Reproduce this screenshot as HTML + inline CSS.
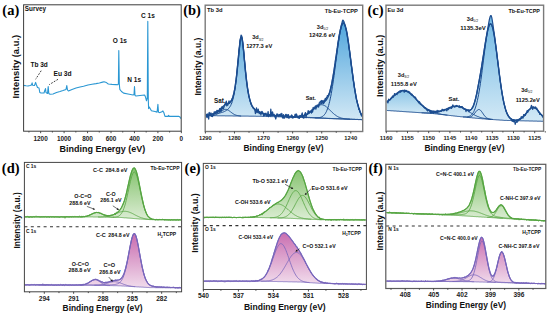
<!DOCTYPE html>
<html><head><meta charset="utf-8"><style>
html,body{margin:0;padding:0;background:#fff;}
svg{display:block;}
</style></head><body>
<svg width="550" height="315" viewBox="0 0 550 315">
<rect width="550" height="315" fill="#fff"/>
<defs>
<linearGradient id="gb" gradientUnits="userSpaceOnUse" x1="0" y1="18" x2="0" y2="120"><stop offset="0" stop-color="#4aa3dc"/><stop offset="1" stop-color="#d2e8f5"/></linearGradient>
<linearGradient id="gc" gradientUnits="userSpaceOnUse" x1="0" y1="15" x2="0" y2="122"><stop offset="0" stop-color="#6fb8e4"/><stop offset="1" stop-color="#d3e9f6"/></linearGradient>
<linearGradient id="gc1" x1="0" y1="0" x2="0" y2="1"><stop offset="0" stop-color="#8cc6e7"/><stop offset="1" stop-color="#d3e9f6"/></linearGradient>
<linearGradient id="gd1" gradientUnits="userSpaceOnUse" x1="0" y1="168" x2="0" y2="220"><stop offset="0" stop-color="#84c26d"/><stop offset="1" stop-color="#dcedd4"/></linearGradient>
<linearGradient id="gd2" gradientUnits="userSpaceOnUse" x1="0" y1="233" x2="0" y2="288"><stop offset="0" stop-color="#c86aae"/><stop offset="1" stop-color="#f1dcec"/></linearGradient>
<linearGradient id="ge1" gradientUnits="userSpaceOnUse" x1="0" y1="168" x2="0" y2="220"><stop offset="0" stop-color="#84c26d"/><stop offset="1" stop-color="#dcedd4"/></linearGradient>
<linearGradient id="ge2" gradientUnits="userSpaceOnUse" x1="0" y1="231" x2="0" y2="284"><stop offset="0" stop-color="#c86aae"/><stop offset="1" stop-color="#f1dcec"/></linearGradient>
<linearGradient id="gf1" gradientUnits="userSpaceOnUse" x1="0" y1="170" x2="0" y2="220"><stop offset="0" stop-color="#84c26d"/><stop offset="1" stop-color="#dcedd4"/></linearGradient>
<linearGradient id="gf2" gradientUnits="userSpaceOnUse" x1="0" y1="235" x2="0" y2="284"><stop offset="0" stop-color="#c86aae"/><stop offset="1" stop-color="#f1dcec"/></linearGradient>
</defs>
<path d="M23.5 85.4L26.0 85.8L28.0 86.0L30.0 85.5L31.5 85.0L32.1 82.9L32.7 85.3L34.5 85.5L35.6 82.4L36.3 84.5L37.5 87.5L39.0 88.0L39.8 92.5L41.0 93.0L44.0 93.0L44.8 90.5L45.5 88.6L46.0 92.5L47.5 93.5L48.2 86.5L48.8 93.5L50.0 94.2L53.0 94.0L56.5 92.5L60.0 91.5L63.0 90.5L66.0 89.4L66.8 85.6L67.5 90.0L68.4 91.0L72.0 89.5L76.0 88.0L80.0 87.0L83.5 86.2L88.0 85.0L92.0 84.2L96.0 83.6L99.4 83.0L102.6 82.1L104.0 81.8L106.4 82.6L108.3 84.0L112.0 84.4L116.0 84.6L117.5 84.8L118.4 84.0L118.8 50.5L119.3 84.0L119.8 89.3L121.5 91.5L123.6 93.1L128.0 94.0L133.1 95.0L134.0 94.5L134.5 86.5L135.0 95.5L136.0 96.0L140.0 95.5L144.6 95.0L145.5 97.0L146.5 100.8L147.3 98.0L147.8 21.4L148.3 100.0L148.6 108.6L149.3 107.0L151.4 110.7L155.0 111.5L157.1 112.1L157.9 104.3L158.5 112.3L160.0 112.6L162.0 111.8L162.9 110.9L163.8 112.5L165.0 116.4L168.0 116.4L168.6 115.4L169.2 116.4L175.0 116.4L178.6 116.2L180.0 117.0L180.7 118.6" fill="none" stroke="#2a97d3" stroke-width="1.1" stroke-linejoin="round"/>
<rect x="23.60" y="4.80" width="157.60" height="126.40" fill="none" stroke="#3c3c3c" stroke-width="1.0"/>
<path d="M181.35 131.20v2.0M157.90 131.20v2.0M134.45 131.20v2.0M111.00 131.20v2.0M87.55 131.20v2.0M64.10 131.20v2.0M40.65 131.20v2.0M169.62 131.20v1.3M146.18 131.20v1.3M122.72 131.20v1.3M99.28 131.20v1.3M75.83 131.20v1.3M52.38 131.20v1.3M28.93 131.20v1.3" stroke="#3a3a3a" stroke-width="0.9" fill="none"/>
<text x="33.48" y="140.88" font-family="Liberation Sans" font-weight="bold" font-size="6.40" fill="#222">1200</text>
<text x="56.93" y="140.88" font-family="Liberation Sans" font-weight="bold" font-size="6.40" fill="#222">1000</text>
<text x="82.24" y="140.88" font-family="Liberation Sans" font-weight="bold" font-size="6.40" fill="#222">800</text>
<text x="105.66" y="140.88" font-family="Liberation Sans" font-weight="bold" font-size="6.40" fill="#222">600</text>
<text x="129.17" y="140.88" font-family="Liberation Sans" font-weight="bold" font-size="6.40" fill="#222">400</text>
<text x="152.59" y="140.88" font-family="Liberation Sans" font-weight="bold" font-size="6.40" fill="#222">200</text>
<text x="179.59" y="140.88" font-family="Liberation Sans" font-weight="bold" font-size="6.40" fill="#222">0</text>
<text x="24.81" y="11.38" font-family="Liberation Sans" font-weight="bold" font-size="6.36" fill="#111">Survey</text>
<text x="30.43" y="66.82" font-family="Liberation Sans" font-weight="bold" font-size="6.50" fill="#111">Tb 3d</text>
<text x="53.43" y="75.95" font-family="Liberation Sans" font-weight="bold" font-size="6.70" fill="#111">Eu 3d</text>
<text x="112.84" y="42.97" font-family="Liberation Sans" font-weight="bold" font-size="6.50" fill="#111">O 1s</text>
<text x="141.04" y="17.98" font-family="Liberation Sans" font-weight="bold" font-size="6.50" fill="#111">C 1s</text>
<text x="127.34" y="81.64" font-family="Liberation Sans" font-weight="bold" font-size="6.50" fill="#111">N 1s</text>
<path d="M41.2 70.7L35.6 79.3M58 79.3L49.3 84.6" stroke="#333" stroke-width="0.95" stroke-dasharray="1.8 1.3" fill="none"/>
<text x="59.47" y="151.63" font-family="Liberation Sans" font-weight="bold" font-size="8.99" fill="#111">Binding Energy (eV)</text>
<text transform="translate(19.35,98.56) rotate(-90)" font-family="Liberation Sans" font-weight="bold" font-size="9.41" fill="#111">Intensity (a.u.)</text>
<text x="2.32" y="14.85" font-family="Liberation Serif" font-weight="bold" font-size="14.50" fill="#000">(a)</text>
<path d="M205.9 114.7L206.5 116.3L207.0 117.6L207.6 114.1L208.1 114.9L208.7 119.0L209.2 112.4L209.8 114.6L210.3 115.4L210.9 112.9L211.4 116.3L212.0 114.9L212.5 116.6L213.1 114.3L213.6 115.2L214.2 111.9L214.7 113.7L215.3 111.6L215.8 113.3L216.4 112.9L216.9 110.3L217.5 112.5L218.0 110.3L218.6 111.7L219.1 112.0L219.7 108.6L220.2 111.3L220.8 108.5L221.3 111.0L221.9 106.8L222.4 107.6L223.0 109.0L223.5 108.5L224.1 106.5L224.6 105.5L225.2 103.3L225.7 104.7L226.3 101.2L226.8 105.9L227.4 104.2L227.9 105.0L228.5 102.9L229.0 101.0L229.6 103.4L230.1 102.0L230.7 101.8L231.2 100.6L231.8 100.1L232.3 98.2L232.9 97.7L233.4 95.2L234.0 92.9L234.5 90.3L235.1 87.7L235.6 83.2L236.2 79.4L236.7 74.8L237.3 68.3L237.8 63.5L238.4 57.7L238.9 51.4L239.5 46.8L240.0 40.5L240.6 38.0L241.1 35.1L241.7 36.0L242.2 38.1L242.8 42.9L243.3 47.9L243.9 53.3L244.4 59.7L245.0 66.0L245.5 71.5L246.1 77.0L246.6 81.3L247.2 86.0L247.7 89.6L248.3 92.6L248.8 96.0L249.4 97.9L249.9 100.1L250.5 102.0L251.0 103.7L251.6 105.2L252.1 106.2L252.7 106.7L253.2 107.9L253.8 108.3L254.3 108.8L254.9 109.9L255.4 113.5L256.0 110.7L256.5 107.8L257.1 112.7L257.6 111.6L258.2 109.2L258.7 111.9L259.3 113.7L259.8 111.7L260.4 112.2L260.9 114.8L261.5 112.0L262.0 111.4L262.6 112.5L263.1 113.1L263.7 115.8L264.2 115.7L264.8 113.4L265.3 115.2L265.9 113.1L266.4 115.0L267.0 116.1L267.5 115.4L268.1 111.6L268.6 116.7L269.2 114.9L269.7 114.8L270.3 116.1L270.8 109.2L271.4 115.6L271.9 115.6L272.5 111.9L273.0 113.7L273.6 115.2L274.1 114.4L274.7 116.4L275.2 117.0L275.8 119.0L276.3 116.1L276.9 113.9L277.4 114.7L278.0 114.4L278.5 116.2L279.1 115.6L279.6 114.5L280.2 115.6L280.7 113.9L281.3 115.5L281.8 113.5L282.4 117.4L282.9 118.1L283.5 114.7L284.0 118.0L284.6 118.0L285.1 116.8L285.7 114.3L286.2 114.3L286.8 117.5L287.3 115.0L287.9 117.5L288.4 114.6L289.0 118.3L289.5 117.1L290.1 116.6L290.6 116.2L291.2 117.7L291.7 115.0L292.3 115.9L292.8 118.0L293.4 117.6L293.9 116.8L294.5 117.1L295.0 114.5L295.6 117.2L296.1 113.9L296.7 114.7L297.2 115.9L297.8 117.3L298.3 118.0L298.9 116.2L299.4 118.4L300.0 115.4L300.5 117.0L301.1 115.7L301.6 115.1L302.2 112.8L302.7 117.5L303.3 117.6L303.8 118.2L304.4 114.4L304.9 113.9L305.5 112.6L306.0 117.7L306.6 114.2L307.1 114.5L307.7 112.9L308.2 110.7L308.8 113.3L309.3 112.3L309.9 111.2L310.4 111.5L311.0 110.9L311.5 113.0L312.1 109.3L312.6 112.0L313.2 107.4L313.7 109.3L314.3 108.2L314.8 107.3L315.4 105.9L315.9 109.2L316.5 106.3L317.0 105.2L317.6 105.1L318.1 107.2L318.7 106.7L319.2 103.1L319.8 102.6L320.3 101.5L320.9 102.2L321.4 100.5L322.0 102.7L322.5 101.0L323.1 100.5L323.6 103.5L324.2 102.4L324.7 100.2L325.3 98.5L325.8 99.6L326.4 97.6L326.9 97.1L327.5 95.5L328.0 95.7L328.6 95.3L329.1 93.6L329.7 92.3L330.2 90.3L330.8 87.5L331.3 85.7L331.9 83.2L332.4 79.7L333.0 76.9L333.5 73.9L334.1 70.5L334.6 66.3L335.2 62.9L335.7 58.7L336.3 55.8L336.8 51.5L337.4 48.2L337.9 43.5L338.5 40.5L339.0 37.0L339.6 33.6L340.1 31.2L340.7 28.5L341.2 25.7L341.8 23.6L342.3 21.6L342.9 20.1L343.4 20.7L344.0 21.8L344.5 23.8L345.1 25.4L345.6 27.4L346.2 29.4L346.7 31.7L347.3 34.7L347.8 39.1L348.4 42.2L348.9 47.0L349.5 50.5L350.0 54.4L350.6 59.0L351.1 63.7L351.7 67.7L352.2 71.0L352.8 75.6L353.3 80.1L353.9 83.3L354.4 87.4L355.0 90.9L355.5 93.7L356.1 97.6L356.6 100.0L357.2 101.8L357.7 104.4L358.3 105.2L358.8 109.3L359.4 108.8L359.9 111.7L360.5 112.9L361.0 114.6L361.6 116.1L361.9 113.5L361.9 119.7L361.6 119.7L361.0 119.7L360.5 119.6L359.9 119.6L359.4 119.6L358.8 119.6L358.3 119.6L357.7 119.5L357.2 119.5L356.6 119.5L356.1 119.5L355.5 119.5L355.0 119.4L354.4 119.4L353.9 119.4L353.3 119.4L352.8 119.4L352.2 119.4L351.7 119.3L351.1 119.3L350.6 119.3L350.0 119.3L349.5 119.3L348.9 119.2L348.4 119.2L347.8 119.2L347.3 119.2L346.7 119.2L346.2 119.1L345.6 119.1L345.1 119.1L344.5 119.1L344.0 119.1L343.4 119.1L342.9 119.0L342.3 119.0L341.8 119.0L341.2 119.0L340.7 119.0L340.1 118.9L339.6 118.9L339.0 118.9L338.5 118.9L337.9 118.9L337.4 118.8L336.8 118.8L336.3 118.8L335.7 118.8L335.2 118.8L334.6 118.8L334.1 118.7L333.5 118.7L333.0 118.7L332.4 118.7L331.9 118.7L331.3 118.6L330.8 118.6L330.2 118.6L329.7 118.6L329.1 118.6L328.6 118.5L328.0 118.5L327.5 118.5L326.9 118.5L326.4 118.4L325.8 118.4L325.3 118.4L324.7 118.4L324.2 118.3L323.6 118.3L323.1 118.3L322.5 118.3L322.0 118.3L321.4 118.2L320.9 118.2L320.3 118.2L319.8 118.2L319.2 118.1L318.7 118.1L318.1 118.1L317.6 118.1L317.0 118.0L316.5 118.0L315.9 118.0L315.4 118.0L314.8 117.9L314.3 117.9L313.7 117.9L313.2 117.9L312.6 117.8L312.1 117.8L311.5 117.8L311.0 117.8L310.4 117.8L309.9 117.7L309.3 117.7L308.8 117.7L308.2 117.7L307.7 117.6L307.1 117.6L306.6 117.6L306.0 117.6L305.5 117.5L304.9 117.5L304.4 117.5L303.8 117.5L303.3 117.4L302.7 117.4L302.2 117.4L301.6 117.4L301.1 117.3L300.5 117.3L300.0 117.3L299.4 117.3L298.9 117.3L298.3 117.3L297.8 117.2L297.2 117.2L296.7 117.2L296.1 117.2L295.6 117.2L295.0 117.2L294.5 117.2L293.9 117.1L293.4 117.1L292.8 117.1L292.3 117.1L291.7 117.1L291.2 117.1L290.6 117.1L290.1 117.1L289.5 117.0L289.0 117.0L288.4 117.0L287.9 117.0L287.3 117.0L286.8 117.0L286.2 117.0L285.7 116.9L285.1 116.9L284.6 116.9L284.0 116.9L283.5 116.9L282.9 116.9L282.4 116.9L281.8 116.8L281.3 116.8L280.7 116.8L280.2 116.8L279.6 116.8L279.1 116.8L278.5 116.8L278.0 116.7L277.4 116.7L276.9 116.7L276.3 116.7L275.8 116.7L275.2 116.7L274.7 116.7L274.1 116.7L273.6 116.6L273.0 116.6L272.5 116.6L271.9 116.6L271.4 116.6L270.8 116.6L270.3 116.6L269.7 116.5L269.2 116.5L268.6 116.5L268.1 116.5L267.5 116.5L267.0 116.5L266.4 116.5L265.9 116.4L265.3 116.4L264.8 116.4L264.2 116.4L263.7 116.4L263.1 116.4L262.6 116.4L262.0 116.4L261.5 116.3L260.9 116.3L260.4 116.3L259.8 116.3L259.3 116.3L258.7 116.3L258.2 116.3L257.6 116.3L257.1 116.3L256.5 116.3L256.0 116.2L255.4 116.2L254.9 116.2L254.3 116.2L253.8 116.2L253.2 116.2L252.7 116.2L252.1 116.2L251.6 116.2L251.0 116.2L250.5 116.2L249.9 116.2L249.4 116.2L248.8 116.2L248.3 116.1L247.7 116.1L247.2 116.1L246.6 116.1L246.1 116.1L245.5 116.1L245.0 116.1L244.4 116.1L243.9 116.1L243.3 116.1L242.8 116.1L242.2 116.1L241.7 116.1L241.1 116.1L240.6 116.1L240.0 116.0L239.5 116.0L238.9 116.0L238.4 116.0L237.8 116.0L237.3 116.0L236.7 116.0L236.2 116.0L235.6 116.0L235.1 116.0L234.5 116.0L234.0 116.0L233.4 116.0L232.9 116.0L232.3 115.9L231.8 115.9L231.2 115.9L230.7 115.9L230.1 115.9L229.6 115.9L229.0 115.9L228.5 115.9L227.9 115.9L227.4 115.9L226.8 115.9L226.3 115.9L225.7 115.9L225.2 115.9L224.6 115.8L224.1 115.8L223.5 115.8L223.0 115.8L222.4 115.8L221.9 115.8L221.3 115.8L220.8 115.8L220.2 115.8L219.7 115.8L219.1 115.8L218.6 115.8L218.0 115.8L217.5 115.8L216.9 115.7L216.4 115.7L215.8 115.7L215.3 115.7L214.7 115.7L214.2 115.7L213.6 115.7L213.1 115.7L212.5 115.7L212.0 115.7L211.4 115.7L210.9 115.7L210.3 115.7L209.8 115.7L209.2 115.6L208.7 115.6L208.1 115.6L207.6 115.6L207.0 115.6L206.5 115.6L205.9 115.6Z" fill="url(#gb)" stroke="none"/>
<path d="M205.9 114.7L206.5 116.3L207.0 117.6L207.6 114.1L208.1 114.9L208.7 119.0L209.2 112.4L209.8 114.6L210.3 115.4L210.9 112.9L211.4 116.3L212.0 114.9L212.5 116.6L213.1 114.3L213.6 115.2L214.2 111.9L214.7 113.7L215.3 111.6L215.8 113.3L216.4 112.9L216.9 110.3L217.5 112.5L218.0 110.3L218.6 111.7L219.1 112.0L219.7 108.6L220.2 111.3L220.8 108.5L221.3 111.0L221.9 106.8L222.4 107.6L223.0 109.0L223.5 108.5L224.1 106.5L224.6 105.5L225.2 103.3L225.7 104.7L226.3 101.2L226.8 105.9L227.4 104.2L227.9 105.0L228.5 102.9L229.0 101.0L229.6 103.4L230.1 102.0L230.7 101.8L231.2 100.6L231.8 100.1L232.3 98.2L232.9 97.7L233.4 95.2L234.0 92.9L234.5 90.3L235.1 87.7L235.6 83.2L236.2 79.4L236.7 74.8L237.3 68.3L237.8 63.5L238.4 57.7L238.9 51.4L239.5 46.8L240.0 40.5L240.6 38.0L241.1 35.1L241.7 36.0L242.2 38.1L242.8 42.9L243.3 47.9L243.9 53.3L244.4 59.7L245.0 66.0L245.5 71.5L246.1 77.0L246.6 81.3L247.2 86.0L247.7 89.6L248.3 92.6L248.8 96.0L249.4 97.9L249.9 100.1L250.5 102.0L251.0 103.7L251.6 105.2L252.1 106.2L252.7 106.7L253.2 107.9L253.8 108.3L254.3 108.8L254.9 109.9L255.4 113.5L256.0 110.7L256.5 107.8L257.1 112.7L257.6 111.6L258.2 109.2L258.7 111.9L259.3 113.7L259.8 111.7L260.4 112.2L260.9 114.8L261.5 112.0L262.0 111.4L262.6 112.5L263.1 113.1L263.7 115.8L264.2 115.7L264.8 113.4L265.3 115.2L265.9 113.1L266.4 115.0L267.0 116.1L267.5 115.4L268.1 111.6L268.6 116.7L269.2 114.9L269.7 114.8L270.3 116.1L270.8 109.2L271.4 115.6L271.9 115.6L272.5 111.9L273.0 113.7L273.6 115.2L274.1 114.4L274.7 116.4L275.2 117.0L275.8 119.0L276.3 116.1L276.9 113.9L277.4 114.7L278.0 114.4L278.5 116.2L279.1 115.6L279.6 114.5L280.2 115.6L280.7 113.9L281.3 115.5L281.8 113.5L282.4 117.4L282.9 118.1L283.5 114.7L284.0 118.0L284.6 118.0L285.1 116.8L285.7 114.3L286.2 114.3L286.8 117.5L287.3 115.0L287.9 117.5L288.4 114.6L289.0 118.3L289.5 117.1L290.1 116.6L290.6 116.2L291.2 117.7L291.7 115.0L292.3 115.9L292.8 118.0L293.4 117.6L293.9 116.8L294.5 117.1L295.0 114.5L295.6 117.2L296.1 113.9L296.7 114.7L297.2 115.9L297.8 117.3L298.3 118.0L298.9 116.2L299.4 118.4L300.0 115.4L300.5 117.0L301.1 115.7L301.6 115.1L302.2 112.8L302.7 117.5L303.3 117.6L303.8 118.2L304.4 114.4L304.9 113.9L305.5 112.6L306.0 117.7L306.6 114.2L307.1 114.5L307.7 112.9L308.2 110.7L308.8 113.3L309.3 112.3L309.9 111.2L310.4 111.5L311.0 110.9L311.5 113.0L312.1 109.3L312.6 112.0L313.2 107.4L313.7 109.3L314.3 108.2L314.8 107.3L315.4 105.9L315.9 109.2L316.5 106.3L317.0 105.2L317.6 105.1L318.1 107.2L318.7 106.7L319.2 103.1L319.8 102.6L320.3 101.5L320.9 102.2L321.4 100.5L322.0 102.7L322.5 101.0L323.1 100.5L323.6 103.5L324.2 102.4L324.7 100.2L325.3 98.5L325.8 99.6L326.4 97.6L326.9 97.1L327.5 95.5L328.0 95.7L328.6 95.3L329.1 93.6L329.7 92.3L330.2 90.3L330.8 87.5L331.3 85.7L331.9 83.2L332.4 79.7L333.0 76.9L333.5 73.9L334.1 70.5L334.6 66.3L335.2 62.9L335.7 58.7L336.3 55.8L336.8 51.5L337.4 48.2L337.9 43.5L338.5 40.5L339.0 37.0L339.6 33.6L340.1 31.2L340.7 28.5L341.2 25.7L341.8 23.6L342.3 21.6L342.9 20.1L343.4 20.7L344.0 21.8L344.5 23.8L345.1 25.4L345.6 27.4L346.2 29.4L346.7 31.7L347.3 34.7L347.8 39.1L348.4 42.2L348.9 47.0L349.5 50.5L350.0 54.4L350.6 59.0L351.1 63.7L351.7 67.7L352.2 71.0L352.8 75.6L353.3 80.1L353.9 83.3L354.4 87.4L355.0 90.9L355.5 93.7L356.1 97.6L356.6 100.0L357.2 101.8L357.7 104.4L358.3 105.2L358.8 109.3L359.4 108.8L359.9 111.7L360.5 112.9L361.0 114.6L361.6 116.1L361.9 113.5" fill="none" stroke="#1c4d90" stroke-width="1.3" stroke-linejoin="round"/>
<path d="M205.9 114.6L206.5 114.5L207.0 114.5L207.6 114.5L208.1 114.4L208.7 114.4L209.2 114.4L209.8 114.3L210.3 114.3L210.9 114.3L211.4 114.2L212.0 114.2L212.5 114.1L213.1 114.1L213.6 114.0L214.2 114.0L214.7 113.9L215.3 113.8L215.8 113.7L216.4 113.7L216.9 113.6L217.5 113.5L218.0 113.4L218.6 113.3L219.1 113.2L219.7 113.1L220.2 112.9L220.8 112.8L221.3 112.6L221.9 112.5L222.4 112.3L223.0 112.1L223.5 111.9L224.1 111.7L224.6 111.4L225.2 111.1L225.7 110.8L226.3 110.5L226.8 110.1L227.4 109.7L227.9 109.2L228.5 108.6L229.0 108.0L229.6 107.3L230.1 106.5L230.7 105.5L231.2 104.3L231.8 103.0L232.3 101.4L232.9 99.5L233.4 97.3L234.0 94.8L234.5 91.8L235.1 88.3L235.6 84.4L236.2 80.0L236.7 75.1L237.3 69.8L237.8 64.1L238.4 58.1L238.9 52.3L239.5 46.8L240.0 42.2L240.6 38.8L241.1 37.2L241.7 37.5L242.2 39.6L242.8 43.4L243.3 48.3L243.9 53.9L244.4 59.8L245.0 65.7L245.5 71.4L246.1 76.6L246.6 81.4L247.2 85.7L247.7 89.5L248.3 92.8L248.8 95.7L249.4 98.2L249.9 100.3L250.5 102.1L251.0 103.6L251.6 104.9L252.1 106.0L252.7 107.0L253.2 107.8L253.8 108.5L254.3 109.1L254.9 109.7L255.4 110.2L256.0 110.6L256.5 111.0L257.1 111.3L257.6 111.6L258.2 111.9L258.7 112.2L259.3 112.4L259.8 112.6L260.4 112.8L260.9 113.0L261.5 113.2L262.0 113.4L262.6 113.5L263.1 113.7L263.7 113.8L264.2 114.0L264.8 114.1L265.3 114.2L265.9 114.3L266.4 114.4L267.0 114.5L267.5 114.6L268.1 114.7L268.6 114.8L269.2 114.9L269.7 114.9L270.3 115.0L270.8 115.1L271.4 115.1L271.9 115.2L272.5 115.3L273.0 115.3L273.6 115.4L274.1 115.4L274.7 115.5L275.2 115.5L275.8 115.6L276.3 115.6L276.9 115.7L277.4 115.7L278.0 115.8L278.5 115.8L279.1 115.9L279.6 115.9L280.2 115.9L280.7 116.0L281.3 116.0L281.8 116.0L282.4 116.1L282.9 116.1L283.5 116.1L284.0 116.2L284.6 116.2L285.1 116.2L285.7 116.3L286.2 116.3L286.8 116.3L287.3 116.4L287.9 116.4L288.4 116.4L289.0 116.4L289.5 116.5L290.1 116.5L290.6 116.5L291.2 116.5L291.7 116.6L292.3 116.6L292.8 116.6L293.4 116.6L293.9 116.7L294.5 116.7L295.0 116.7L295.6 116.7L296.1 116.8L296.7 116.8L297.2 116.8L297.8 116.8L298.3 116.8L298.9 116.9L299.4 116.9L300.0 116.9L300.5 116.9L301.1 117.0L301.6 117.0L302.2 117.0L302.7 117.1L303.3 117.1L303.8 117.1L304.4 117.2L304.9 117.2L305.5 117.2L306.0 117.2L306.6 117.3L307.1 117.3L307.7 117.3L308.2 117.4L308.8 117.4L309.3 117.4L309.9 117.4L310.4 117.5L311.0 117.5L311.5 117.5L312.1 117.6L312.6 117.6L313.2 117.6L313.7 117.6L314.3 117.7L314.8 117.7L315.4 117.7L315.9 117.7L316.5 117.8L317.0 117.8L317.6 117.8L318.1 117.9L318.7 117.9L319.2 117.9L319.8 117.9L320.3 118.0L320.9 118.0L321.4 118.0L322.0 118.0L322.5 118.1L323.1 118.1L323.6 118.1L324.2 118.2L324.7 118.2L325.3 118.2L325.8 118.2L326.4 118.3L326.9 118.3L327.5 118.3L328.0 118.3L328.6 118.4L329.1 118.4L329.7 118.4L330.2 118.4L330.8 118.5L331.3 118.5L331.9 118.5L332.4 118.5L333.0 118.5L333.5 118.6L334.1 118.6L334.6 118.6L335.2 118.6L335.7 118.6L336.3 118.7L336.8 118.7L337.4 118.7L337.9 118.7L338.5 118.7L339.0 118.8L339.6 118.8L340.1 118.8L340.7 118.8L341.2 118.8L341.8 118.9L342.3 118.9L342.9 118.9L343.4 118.9L344.0 118.9L344.5 119.0L345.1 119.0L345.6 119.0L346.2 119.0L346.7 119.0L347.3 119.1L347.8 119.1L348.4 119.1L348.9 119.1L349.5 119.1L350.0 119.2L350.6 119.2L351.1 119.2L351.7 119.2L352.2 119.2L352.8 119.3L353.3 119.3L353.9 119.3L354.4 119.3L355.0 119.3L355.5 119.4L356.1 119.4L356.6 119.4L357.2 119.4L357.7 119.4L358.3 119.5L358.8 119.5L359.4 119.5L359.9 119.5L360.5 119.5L361.0 119.6L361.6 119.6L361.9 119.6" fill="none" stroke="#1c4d90" stroke-width="1.0" stroke-linejoin="round"/>
<path d="M209.8 115.6L210.3 115.6L210.9 115.6L211.4 115.5L212.0 115.5L212.5 115.5L213.1 115.4L213.6 115.3L214.2 115.2L214.7 115.1L215.3 114.9L215.8 114.7L216.4 114.5L216.9 114.2L217.5 113.9L218.0 113.6L218.6 113.3L219.1 112.9L219.7 112.5L220.2 112.1L220.8 111.7L221.3 111.3L221.9 110.9L222.4 110.5L223.0 110.1L223.5 109.9L224.1 109.6L224.6 109.5L225.2 109.4L225.7 109.4L226.3 109.4L226.8 109.6L227.4 109.8L227.9 110.0L228.5 110.3L229.0 110.7L229.6 111.1L230.1 111.5L230.7 111.9L231.2 112.4L231.8 112.8L232.3 113.2L232.9 113.6L233.4 113.9L234.0 114.3L234.5 114.6L235.1 114.8L235.6 115.0L236.2 115.2L236.7 115.4L237.3 115.5L237.8 115.6L238.4 115.7L238.9 115.8L239.5 115.9L240.0 115.9L240.6 116.0L241.1 116.0" fill="none" stroke="#1c4d90" stroke-width="1.0" stroke-linejoin="round"/>
<path d="M314.8 117.9L315.4 117.9L315.9 117.9L316.5 117.9L317.0 117.9L317.6 117.8L318.1 117.8L318.7 117.7L319.2 117.7L319.8 117.6L320.3 117.4L320.9 117.2L321.4 117.0L322.0 116.8L322.5 116.4L323.1 116.1L323.6 115.6L324.2 115.0L324.7 114.3L325.3 113.6L325.8 112.6L326.4 111.6L326.9 110.3L327.5 108.9L328.0 107.4L328.6 105.6L329.1 103.6L329.7 101.3L330.2 98.9L330.8 96.2L331.3 93.3L331.9 90.1L332.4 86.7L333.0 83.2L333.5 79.4L334.1 75.5L334.6 71.4L335.2 67.2L335.7 63.0L336.3 58.7L336.8 54.5L337.4 50.3L337.9 46.2L338.5 42.4L339.0 38.8L339.6 35.4L340.1 32.4L340.7 29.8L341.2 27.6L341.8 25.8L342.3 24.6L342.9 23.8L343.4 23.6L344.0 23.8L344.5 24.6L345.1 25.9L345.6 27.7L346.2 30.0L346.7 32.6L347.3 35.7L347.8 39.1L348.4 42.7L348.9 46.6L349.5 50.7L350.0 54.9L350.6 59.2L351.1 63.5L351.7 67.8L352.2 72.0L352.8 76.1L353.3 80.1L353.9 83.9L354.4 87.5L355.0 90.9L355.5 94.1L356.1 97.1L356.6 99.8L357.2 102.3L357.7 104.5L358.3 106.6L358.8 108.4L359.4 110.1L359.9 111.5L360.5 112.8L361.0 113.9L361.6 114.8L361.9 115.4" fill="none" stroke="#1c4d90" stroke-width="1.0" stroke-linejoin="round"/>
<path d="M293.4 117.1L293.9 117.1L294.5 117.1L295.0 117.1L295.6 117.1L296.1 117.1L296.7 117.0L297.2 117.0L297.8 117.0L298.3 117.0L298.9 116.9L299.4 116.9L300.0 116.8L300.5 116.7L301.1 116.6L301.6 116.5L302.2 116.4L302.7 116.3L303.3 116.2L303.8 116.0L304.4 115.8L304.9 115.6L305.5 115.4L306.0 115.1L306.6 114.8L307.1 114.5L307.7 114.2L308.2 113.8L308.8 113.5L309.3 113.1L309.9 112.6L310.4 112.2L311.0 111.7L311.5 111.2L312.1 110.7L312.6 110.2L313.2 109.7L313.7 109.2L314.3 108.7L314.8 108.2L315.4 107.8L315.9 107.3L316.5 106.9L317.0 106.5L317.6 106.1L318.1 105.7L318.7 105.5L319.2 105.2L319.8 105.0L320.3 104.9L320.9 104.8L321.4 104.7L322.0 104.8L322.5 104.8L323.1 105.0L323.6 105.2L324.2 105.4L324.7 105.7L325.3 106.0L325.8 106.4L326.4 106.8L326.9 107.3L327.5 107.8L328.0 108.3L328.6 108.8L329.1 109.3L329.7 109.9L330.2 110.4L330.8 111.0L331.3 111.5L331.9 112.1L332.4 112.6L333.0 113.1L333.5 113.6L334.1 114.0L334.6 114.5L335.2 114.9L335.7 115.3L336.3 115.7L336.8 116.1L337.4 116.4L337.9 116.7L338.5 117.0L339.0 117.2L339.6 117.4L340.1 117.7L340.7 117.8L341.2 118.0L341.8 118.2L342.3 118.3L342.9 118.4L343.4 118.5L344.0 118.6L344.5 118.7L345.1 118.8L345.6 118.9L346.2 118.9L346.7 119.0L347.3 119.0L347.8 119.1L348.4 119.1L348.9 119.2L349.5 119.2L350.0 119.2" fill="none" stroke="#1c4d90" stroke-width="1.0" stroke-linejoin="round"/>
<path d="M205.9 115.6L206.5 115.6L207.0 115.6L207.6 115.6L208.1 115.6L208.7 115.6L209.2 115.6L209.8 115.7L210.3 115.7L210.9 115.7L211.4 115.7L212.0 115.7L212.5 115.7L213.1 115.7L213.6 115.7L214.2 115.7L214.7 115.7L215.3 115.7L215.8 115.7L216.4 115.7L216.9 115.7L217.5 115.8L218.0 115.8L218.6 115.8L219.1 115.8L219.7 115.8L220.2 115.8L220.8 115.8L221.3 115.8L221.9 115.8L222.4 115.8L223.0 115.8L223.5 115.8L224.1 115.8L224.6 115.8L225.2 115.9L225.7 115.9L226.3 115.9L226.8 115.9L227.4 115.9L227.9 115.9L228.5 115.9L229.0 115.9L229.6 115.9L230.1 115.9L230.7 115.9L231.2 115.9L231.8 115.9L232.3 115.9L232.9 116.0L233.4 116.0L234.0 116.0L234.5 116.0L235.1 116.0L235.6 116.0L236.2 116.0L236.7 116.0L237.3 116.0L237.8 116.0L238.4 116.0L238.9 116.0L239.5 116.0L240.0 116.0L240.6 116.1L241.1 116.1L241.7 116.1L242.2 116.1L242.8 116.1L243.3 116.1L243.9 116.1L244.4 116.1L245.0 116.1L245.5 116.1L246.1 116.1L246.6 116.1L247.2 116.1L247.7 116.1L248.3 116.1L248.8 116.2L249.4 116.2L249.9 116.2L250.5 116.2L251.0 116.2L251.6 116.2L252.1 116.2L252.7 116.2L253.2 116.2L253.8 116.2L254.3 116.2L254.9 116.2L255.4 116.2L256.0 116.2L256.5 116.3L257.1 116.3L257.6 116.3L258.2 116.3L258.7 116.3L259.3 116.3L259.8 116.3L260.4 116.3L260.9 116.3L261.5 116.3L262.0 116.4L262.6 116.4L263.1 116.4L263.7 116.4L264.2 116.4L264.8 116.4L265.3 116.4L265.9 116.4L266.4 116.5L267.0 116.5L267.5 116.5L268.1 116.5L268.6 116.5L269.2 116.5L269.7 116.5L270.3 116.6L270.8 116.6L271.4 116.6L271.9 116.6L272.5 116.6L273.0 116.6L273.6 116.6L274.1 116.7L274.7 116.7L275.2 116.7L275.8 116.7L276.3 116.7L276.9 116.7L277.4 116.7L278.0 116.7L278.5 116.8L279.1 116.8L279.6 116.8L280.2 116.8L280.7 116.8L281.3 116.8L281.8 116.8L282.4 116.9L282.9 116.9L283.5 116.9L284.0 116.9L284.6 116.9L285.1 116.9L285.7 116.9L286.2 117.0L286.8 117.0L287.3 117.0L287.9 117.0L288.4 117.0L289.0 117.0L289.5 117.0L290.1 117.1L290.6 117.1L291.2 117.1L291.7 117.1L292.3 117.1L292.8 117.1L293.4 117.1L293.9 117.1L294.5 117.2L295.0 117.2L295.6 117.2L296.1 117.2L296.7 117.2L297.2 117.2L297.8 117.2L298.3 117.3L298.9 117.3L299.4 117.3L300.0 117.3L300.5 117.3L301.1 117.3L301.6 117.4L302.2 117.4L302.7 117.4L303.3 117.4L303.8 117.5L304.4 117.5L304.9 117.5L305.5 117.5L306.0 117.6L306.6 117.6L307.1 117.6L307.7 117.6L308.2 117.7L308.8 117.7L309.3 117.7L309.9 117.7L310.4 117.8L311.0 117.8L311.5 117.8L312.1 117.8L312.6 117.8L313.2 117.9L313.7 117.9L314.3 117.9L314.8 117.9L315.4 118.0L315.9 118.0L316.5 118.0L317.0 118.0L317.6 118.1L318.1 118.1L318.7 118.1L319.2 118.1L319.8 118.2L320.3 118.2L320.9 118.2L321.4 118.2L322.0 118.3L322.5 118.3L323.1 118.3L323.6 118.3L324.2 118.3L324.7 118.4L325.3 118.4L325.8 118.4L326.4 118.4L326.9 118.5L327.5 118.5L328.0 118.5L328.6 118.5L329.1 118.6L329.7 118.6L330.2 118.6L330.8 118.6L331.3 118.6L331.9 118.7L332.4 118.7L333.0 118.7L333.5 118.7L334.1 118.7L334.6 118.8L335.2 118.8L335.7 118.8L336.3 118.8L336.8 118.8L337.4 118.8L337.9 118.9L338.5 118.9L339.0 118.9L339.6 118.9L340.1 118.9L340.7 119.0L341.2 119.0L341.8 119.0L342.3 119.0L342.9 119.0L343.4 119.1L344.0 119.1L344.5 119.1L345.1 119.1L345.6 119.1L346.2 119.1L346.7 119.2L347.3 119.2L347.8 119.2L348.4 119.2L348.9 119.2L349.5 119.3L350.0 119.3L350.6 119.3L351.1 119.3L351.7 119.3L352.2 119.4L352.8 119.4L353.3 119.4L353.9 119.4L354.4 119.4L355.0 119.4L355.5 119.5L356.1 119.5L356.6 119.5L357.2 119.5L357.7 119.5L358.3 119.6L358.8 119.6L359.4 119.6L359.9 119.6L360.5 119.6L361.0 119.7L361.6 119.7L361.9 119.7" fill="none" stroke="#1c4d90" stroke-width="1.0"/>
<path d="M205.9 114.6L206.5 114.5L207.0 114.5L207.6 114.5L208.1 114.4L208.7 114.4L209.2 114.3L209.8 114.3L210.3 114.2L210.9 114.2L211.4 114.1L212.0 114.0L212.5 113.9L213.1 113.8L213.6 113.6L214.2 113.4L214.7 113.2L215.3 113.0L215.8 112.7L216.4 112.4L216.9 112.1L217.5 111.7L218.0 111.3L218.6 110.8L219.1 110.3L219.7 109.8L220.2 109.2L220.8 108.7L221.3 108.1L221.9 107.5L222.4 107.0L223.0 106.4L223.5 105.9L224.1 105.5L224.6 105.0L225.2 104.7L225.7 104.3L226.3 104.0L226.8 103.8L227.4 103.5L227.9 103.3L228.5 103.1L229.0 102.8L229.6 102.5L230.1 102.1L230.7 101.5L231.2 100.8L231.8 99.9L232.3 98.7L232.9 97.2L233.4 95.3L234.0 93.1L234.5 90.4L235.1 87.2L235.6 83.5L236.2 79.3L236.7 74.5L237.3 69.3L237.8 63.7L238.4 57.9L238.9 52.1L239.5 46.6L240.0 42.1L240.6 38.7L241.1 37.1L241.7 37.4L242.2 39.6L242.8 43.3L243.3 48.3L243.9 53.9L244.4 59.8L245.0 65.7L245.5 71.4L246.1 76.6L246.6 81.4L247.2 85.7L247.7 89.5L248.3 92.8L248.8 95.7L249.4 98.2L249.9 100.3L250.5 102.1L251.0 103.6L251.6 104.9L252.1 106.0L252.7 107.0L253.2 107.8L253.8 108.5L254.3 109.1L254.9 109.7L255.4 110.2L256.0 110.6L256.5 111.0L257.1 111.3L257.6 111.6L258.2 111.9L258.7 112.2L259.3 112.4L259.8 112.6L260.4 112.8L260.9 113.0L261.5 113.2L262.0 113.4L262.6 113.5L263.1 113.7L263.7 113.8L264.2 114.0L264.8 114.1L265.3 114.2L265.9 114.3L266.4 114.4L267.0 114.5L267.5 114.6L268.1 114.7L268.6 114.8L269.2 114.9L269.7 114.9L270.3 115.0L270.8 115.1L271.4 115.1L271.9 115.2L272.5 115.3L273.0 115.3L273.6 115.4L274.1 115.4L274.7 115.5L275.2 115.5L275.8 115.6L276.3 115.6L276.9 115.7L277.4 115.7L278.0 115.8L278.5 115.8L279.1 115.9L279.6 115.9L280.2 115.9L280.7 116.0L281.3 116.0L281.8 116.0L282.4 116.1L282.9 116.1L283.5 116.1L284.0 116.2L284.6 116.2L285.1 116.2L285.7 116.3L286.2 116.3L286.8 116.3L287.3 116.4L287.9 116.4L288.4 116.4L289.0 116.4L289.5 116.5L290.1 116.5L290.6 116.5L291.2 116.5L291.7 116.5L292.3 116.6L292.8 116.6L293.4 116.6L293.9 116.6L294.5 116.6L295.0 116.6L295.6 116.6L296.1 116.6L296.7 116.6L297.2 116.6L297.8 116.6L298.3 116.5L298.9 116.5L299.4 116.5L300.0 116.4L300.5 116.3L301.1 116.3L301.6 116.2L302.2 116.1L302.7 116.0L303.3 115.8L303.8 115.7L304.4 115.5L304.9 115.3L305.5 115.0L306.0 114.8L306.6 114.5L307.1 114.2L307.7 113.9L308.2 113.5L308.8 113.2L309.3 112.8L309.9 112.3L310.4 111.9L311.0 111.4L311.5 111.0L312.1 110.5L312.6 110.0L313.2 109.5L313.7 108.9L314.3 108.4L314.8 107.9L315.4 107.4L315.9 107.0L316.5 106.5L317.0 106.0L317.6 105.6L318.1 105.2L318.7 104.9L319.2 104.5L319.8 104.2L320.3 103.9L320.9 103.6L321.4 103.3L322.0 103.1L322.5 102.8L323.1 102.5L323.6 102.2L324.2 101.9L324.7 101.5L325.3 101.0L325.8 100.4L326.4 99.8L326.9 99.0L327.5 98.0L328.0 96.9L328.6 95.6L329.1 94.2L329.7 92.5L330.2 90.5L330.8 88.4L331.3 86.0L331.9 83.3L332.4 80.5L333.0 77.4L333.5 74.1L334.1 70.6L334.6 67.0L335.2 63.2L335.7 59.3L336.3 55.4L336.8 51.5L337.4 47.7L337.9 43.9L338.5 40.3L339.0 36.9L339.6 33.8L340.1 31.0L340.7 28.5L341.2 26.5L341.8 24.9L342.3 23.7L342.9 23.1L343.4 22.9L344.0 23.3L344.5 24.1L345.1 25.5L345.6 27.3L346.2 29.6L346.7 32.3L347.3 35.4L347.8 38.8L348.4 42.5L348.9 46.4L349.5 50.5L350.0 54.7L350.6 59.0L351.1 63.3L351.7 67.6L352.2 71.9L352.8 76.0L353.3 79.9L353.9 83.8L354.4 87.4L355.0 90.8L355.5 94.0L356.1 96.9L356.6 99.7L357.2 102.2L357.7 104.4L358.3 106.5L358.8 108.3L359.4 110.0L359.9 111.4L360.5 112.7L361.0 113.8L361.6 114.7L361.9 115.3" fill="none" stroke="#1c4d90" stroke-width="1.4" stroke-linejoin="round"/>
<rect x="205.20" y="5.20" width="157.50" height="126.30" fill="none" stroke="#7a7a7a" stroke-width="1.4"/>
<path d="M350.80 131.50v2.0M321.72 131.50v2.0M292.64 131.50v2.0M263.56 131.50v2.0M234.48 131.50v2.0M205.40 131.50v2.0M336.26 131.50v1.3M307.18 131.50v1.3M278.10 131.50v1.3M249.02 131.50v1.3M219.94 131.50v1.3" stroke="#3a3a3a" stroke-width="0.9" fill="none"/>
<text x="198.96" y="140.33" font-family="Liberation Sans" font-weight="bold" font-size="5.75" fill="#222">1290</text>
<text x="228.04" y="140.33" font-family="Liberation Sans" font-weight="bold" font-size="5.75" fill="#222">1280</text>
<text x="257.12" y="140.33" font-family="Liberation Sans" font-weight="bold" font-size="5.75" fill="#222">1270</text>
<text x="286.20" y="140.33" font-family="Liberation Sans" font-weight="bold" font-size="5.75" fill="#222">1260</text>
<text x="315.28" y="140.33" font-family="Liberation Sans" font-weight="bold" font-size="5.75" fill="#222">1250</text>
<text x="344.36" y="140.33" font-family="Liberation Sans" font-weight="bold" font-size="5.75" fill="#222">1240</text>
<text x="207.04" y="11.77" font-family="Liberation Sans" font-weight="bold" font-size="5.80" fill="#111">Tb 3d</text>
<text x="324.74" y="13.48" font-family="Liberation Sans" font-weight="bold" font-size="5.70" fill="#111">Tb-Eu-TCPP</text>
<text x="252.2" y="39.3" font-family="Liberation Sans" font-weight="bold" font-size="5.6" fill="#111">3d<tspan font-size="3.4" dy="1.3" font-weight="normal">3/2</tspan></text>
<text x="246.16" y="48.06" font-family="Liberation Sans" font-weight="bold" font-size="5.75" fill="#111">1277.3 eV</text>
<text x="316.8" y="28.7" font-family="Liberation Sans" font-weight="bold" font-size="5.6" fill="#111">3d<tspan font-size="3.4" dy="1.3" font-weight="normal">5/2</tspan></text>
<text x="308.95" y="37.49" font-family="Liberation Sans" font-weight="bold" font-size="5.84" fill="#111">1242.6 eV</text>
<text x="214.11" y="103.26" font-family="Liberation Sans" font-weight="bold" font-size="6.30" fill="#111">Sat.</text>
<text x="305.63" y="99.96" font-family="Liberation Sans" font-weight="bold" font-size="5.61" fill="#111">Sat.</text>
<text x="243.51" y="150.81" font-family="Liberation Sans" font-weight="bold" font-size="8.38" fill="#111">Binding Energy (eV)</text>
<text transform="translate(200.83,95.60) rotate(-90)" font-family="Liberation Sans" font-weight="bold" font-size="8.57" fill="#111">Intensity (a.u.)</text>
<text x="183.22" y="14.85" font-family="Liberation Serif" font-weight="bold" font-size="14.50" fill="#000">(b)</text>
<path d="M386.8 101.5L387.4 101.0L388.0 103.0L388.6 99.2L389.2 100.2L389.8 99.9L390.4 99.6L391.0 98.0L391.6 97.9L392.2 96.7L392.8 95.9L393.4 97.1L394.0 95.4L394.6 93.5L395.2 95.1L395.8 94.1L396.4 94.2L397.0 94.6L397.6 93.3L398.2 92.3L398.8 92.8L399.4 91.8L400.0 90.8L400.6 92.3L401.2 90.9L401.8 90.5L402.4 90.5L403.0 90.2L403.6 90.5L404.2 92.3L404.8 89.9L405.4 91.3L406.0 91.4L406.6 90.5L407.2 91.8L407.8 91.6L408.4 91.3L409.0 92.7L409.6 92.0L410.2 93.6L410.8 93.6L411.4 95.1L412.0 94.2L412.6 95.4L413.2 96.0L413.8 96.4L414.4 97.6L415.0 97.0L415.6 97.5L416.2 99.4L416.8 100.1L417.4 100.5L418.0 101.2L418.6 102.9L419.2 101.6L419.8 102.1L420.4 104.6L421.0 104.1L421.6 104.4L422.2 105.6L422.8 105.6L423.4 106.6L424.0 107.3L424.6 108.2L425.2 107.6L425.8 108.8L426.4 109.8L427.0 110.1L427.6 111.0L428.2 109.6L428.8 109.7L429.4 111.0L430.0 111.6L430.6 112.9L431.2 111.3L431.8 113.0L432.4 112.4L433.0 111.2L433.6 113.4L434.2 111.3L434.8 111.9L435.4 112.5L436.0 111.4L436.6 112.2L437.2 110.3L437.8 112.4L438.4 110.8L439.0 111.6L439.6 111.7L440.2 111.0L440.8 110.9L441.4 111.1L442.0 109.4L442.6 109.3L443.2 109.9L443.8 110.9L444.4 110.3L445.0 109.5L445.6 109.8L446.2 110.2L446.8 110.8L447.4 108.4L448.0 109.8L448.6 109.3L449.2 107.3L449.8 107.9L450.4 107.7L451.0 108.3L451.6 108.3L452.2 106.4L452.8 104.9L453.4 106.0L454.0 106.2L454.6 107.2L455.2 106.1L455.8 106.6L456.4 105.5L457.0 106.1L457.6 105.9L458.2 106.5L458.8 107.0L459.4 105.7L460.0 107.6L460.6 106.6L461.2 106.5L461.8 107.2L462.4 106.6L463.0 108.1L463.6 108.8L464.2 109.4L464.8 108.9L465.4 109.3L466.0 111.6L466.6 109.5L467.2 110.3L467.8 110.2L468.4 109.8L469.0 111.9L469.6 110.2L470.2 110.2L470.8 109.6L471.4 109.1L472.0 108.4L472.6 107.4L473.2 106.1L473.8 104.7L474.4 102.7L475.0 100.8L475.6 98.6L476.2 95.9L476.8 93.8L477.4 90.0L478.0 87.0L478.6 83.5L479.2 80.8L479.8 77.1L480.4 74.0L481.0 70.3L481.6 67.1L482.2 63.1L482.8 59.2L483.4 55.6L484.0 52.1L484.6 47.5L485.2 43.9L485.8 40.2L486.4 36.6L487.0 33.1L487.6 29.5L488.2 26.1L488.8 22.6L489.4 19.4L490.0 17.1L490.6 15.7L491.2 15.6L491.8 17.7L492.4 21.0L493.0 25.0L493.6 29.4L494.2 33.7L494.8 37.7L495.4 43.1L496.0 47.3L496.6 52.1L497.2 57.3L497.8 61.9L498.4 66.3L499.0 71.5L499.6 76.1L500.2 80.9L500.8 84.8L501.4 89.0L502.0 92.8L502.6 96.1L503.2 99.7L503.8 102.5L504.4 104.9L505.0 107.3L505.6 109.7L506.2 111.5L506.8 113.0L507.4 114.5L508.0 115.6L508.6 116.6L509.2 117.3L509.8 118.1L510.4 118.4L511.0 119.4L511.6 120.0L512.2 121.3L512.8 119.5L513.4 121.8L514.0 120.6L514.6 121.4L515.2 124.3L515.8 122.2L516.4 121.5L517.0 122.3L517.6 121.8L518.2 120.6L518.8 120.2L519.4 119.7L520.0 118.6L520.6 119.1L521.2 116.7L521.8 116.9L522.4 117.5L523.0 118.1L523.6 114.6L524.2 116.0L524.8 114.7L525.4 115.3L526.0 113.6L526.6 112.9L527.2 110.5L527.8 112.4L528.4 110.0L529.0 110.0L529.6 109.5L530.2 109.1L530.8 107.7L531.4 105.4L532.0 106.5L532.6 109.4L533.2 108.3L533.8 106.9L534.4 108.2L535.0 108.2L535.6 106.9L536.2 108.7L536.8 108.2L537.4 110.2L538.0 110.9L538.6 112.3L539.2 112.2L539.8 114.5L540.4 114.1L541.0 114.4L541.6 114.6L542.2 115.3L542.8 116.6L543.1 117.8L543.1 121.3L542.8 121.3L542.2 121.3L541.6 121.3L541.0 121.2L540.4 121.2L539.8 121.2L539.2 121.2L538.6 121.2L538.0 121.2L537.4 121.2L536.8 121.1L536.2 121.1L535.6 121.1L535.0 121.1L534.4 121.1L533.8 121.1L533.2 121.1L532.6 121.0L532.0 121.0L531.4 121.0L530.8 121.0L530.2 121.0L529.6 121.0L529.0 121.0L528.4 120.9L527.8 120.9L527.2 120.9L526.6 120.9L526.0 120.9L525.4 120.9L524.8 120.9L524.2 120.8L523.6 120.8L523.0 120.8L522.4 120.8L521.8 120.8L521.2 120.8L520.6 120.8L520.0 120.7L519.4 120.7L518.8 120.7L518.2 120.7L517.6 120.7L517.0 120.7L516.4 120.7L515.8 120.7L515.2 120.6L514.6 120.6L514.0 120.6L513.4 120.6L512.8 120.6L512.2 120.6L511.6 120.6L511.0 120.5L510.4 120.5L509.8 120.5L509.2 120.5L508.6 120.5L508.0 120.5L507.4 120.5L506.8 120.4L506.2 120.4L505.6 120.4L505.0 120.4L504.4 120.4L503.8 120.3L503.2 120.3L502.6 120.2L502.0 120.2L501.4 120.1L500.8 120.1L500.2 120.1L499.6 120.0L499.0 120.0L498.4 119.9L497.8 119.9L497.2 119.8L496.6 119.8L496.0 119.8L495.4 119.7L494.8 119.7L494.2 119.6L493.6 119.6L493.0 119.5L492.4 119.5L491.8 119.4L491.2 119.4L490.6 119.4L490.0 119.3L489.4 119.3L488.8 119.2L488.2 119.2L487.6 119.1L487.0 119.1L486.4 119.1L485.8 119.0L485.2 119.0L484.6 118.9L484.0 118.9L483.4 118.8L482.8 118.8L482.2 118.8L481.6 118.7L481.0 118.7L480.4 118.6L479.8 118.6L479.2 118.5L478.6 118.5L478.0 118.4L477.4 118.3L476.8 118.3L476.2 118.2L475.6 118.2L475.0 118.1L474.4 118.0L473.8 118.0L473.2 117.9L472.6 117.9L472.0 117.8L471.4 117.7L470.8 117.7L470.2 117.6L469.6 117.6L469.0 117.5L468.4 117.4L467.8 117.4L467.2 117.3L466.6 117.3L466.0 117.2L465.4 117.1L464.8 117.1L464.2 117.0L463.6 117.0L463.0 116.9L462.4 116.8L461.8 116.8L461.2 116.7L460.6 116.7L460.0 116.6L459.4 116.5L458.8 116.5L458.2 116.4L457.6 116.4L457.0 116.3L456.4 116.2L455.8 116.2L455.2 116.1L454.6 116.0L454.0 116.0L453.4 115.9L452.8 115.8L452.2 115.7L451.6 115.7L451.0 115.6L450.4 115.5L449.8 115.5L449.2 115.4L448.6 115.3L448.0 115.3L447.4 115.2L446.8 115.1L446.2 115.1L445.6 115.0L445.0 114.9L444.4 114.8L443.8 114.8L443.2 114.7L442.6 114.6L442.0 114.6L441.4 114.5L440.8 114.4L440.2 114.4L439.6 114.3L439.0 114.2L438.4 114.2L437.8 114.1L437.2 114.0L436.6 113.9L436.0 113.9L435.4 113.8L434.8 113.7L434.2 113.7L433.6 113.6L433.0 113.6L432.4 113.5L431.8 113.5L431.2 113.4L430.6 113.4L430.0 113.4L429.4 113.3L428.8 113.3L428.2 113.2L427.6 113.2L427.0 113.2L426.4 113.1L425.8 113.1L425.2 113.0L424.6 113.0L424.0 113.0L423.4 112.9L422.8 112.9L422.2 112.8L421.6 112.8L421.0 112.7L420.4 112.7L419.8 112.7L419.2 112.6L418.6 112.6L418.0 112.5L417.4 112.5L416.8 112.5L416.2 112.4L415.6 112.4L415.0 112.3L414.4 112.3L413.8 112.3L413.2 112.2L412.6 112.2L412.0 112.1L411.4 112.1L410.8 112.1L410.2 112.0L409.6 112.0L409.0 111.9L408.4 111.9L407.8 111.9L407.2 111.8L406.6 111.8L406.0 111.7L405.4 111.7L404.8 111.7L404.2 111.6L403.6 111.6L403.0 111.5L402.4 111.5L401.8 111.4L401.2 111.4L400.6 111.4L400.0 111.3L399.4 111.3L398.8 111.2L398.2 111.2L397.6 111.2L397.0 111.1L396.4 111.1L395.8 111.0L395.2 111.0L394.6 111.0L394.0 110.9L393.4 110.9L392.8 110.8L392.2 110.8L391.6 110.8L391.0 110.7L390.4 110.7L389.8 110.6L389.2 110.6L388.6 110.6L388.0 110.5L387.4 110.5L386.8 110.4Z" fill="url(#gc)" stroke="none"/>
<path d="M386.8 102.3L387.4 101.8L388.0 101.3L388.6 100.8L389.2 100.2L389.8 99.7L390.4 99.1L391.0 98.6L391.6 98.0L392.2 97.4L392.8 96.9L393.4 96.3L394.0 95.7L394.6 95.2L395.2 94.7L395.8 94.2L396.4 93.7L397.0 93.2L397.6 92.8L398.2 92.4L398.8 92.0L399.4 91.7L400.0 91.4L400.6 91.2L401.2 91.0L401.8 90.8L402.4 90.7L403.0 90.6L403.6 90.6L404.2 90.6L404.8 90.7L405.4 90.8L406.0 91.0L406.6 91.2L407.2 91.4L407.8 91.8L408.4 92.1L409.0 92.5L409.6 92.9L410.2 93.4L410.8 93.9L411.4 94.4L412.0 94.9L412.6 95.5L413.2 96.1L413.8 96.7L414.4 97.3L415.0 98.0L415.6 98.6L416.2 99.3L416.8 99.9L417.4 100.6L418.0 101.2L418.6 101.8L419.2 102.5L419.8 103.1L420.4 103.7L421.0 104.3L421.6 104.9L422.2 105.4L422.8 106.0L423.4 106.5L424.0 107.0L424.6 107.5L425.2 107.9L425.8 108.4L426.4 108.8L427.0 109.2L427.6 109.6L428.2 109.9L428.8 110.3L429.4 110.6L430.0 110.9L430.6 111.2L431.2 111.4L431.8 111.7L432.4 111.9L433.0 112.1L433.6 112.3L434.2 112.5L434.8 112.7L435.4 112.9L436.0 113.1L436.6 113.2L437.2 113.4L437.8 113.5L438.4 113.7L439.0 113.8L439.6 113.9L440.2 114.0L440.2 114.4L439.6 114.3L439.0 114.2L438.4 114.2L437.8 114.1L437.2 114.0L436.6 113.9L436.0 113.9L435.4 113.8L434.8 113.7L434.2 113.7L433.6 113.6L433.0 113.6L432.4 113.5L431.8 113.5L431.2 113.4L430.6 113.4L430.0 113.4L429.4 113.3L428.8 113.3L428.2 113.2L427.6 113.2L427.0 113.2L426.4 113.1L425.8 113.1L425.2 113.0L424.6 113.0L424.0 113.0L423.4 112.9L422.8 112.9L422.2 112.8L421.6 112.8L421.0 112.7L420.4 112.7L419.8 112.7L419.2 112.6L418.6 112.6L418.0 112.5L417.4 112.5L416.8 112.5L416.2 112.4L415.6 112.4L415.0 112.3L414.4 112.3L413.8 112.3L413.2 112.2L412.6 112.2L412.0 112.1L411.4 112.1L410.8 112.1L410.2 112.0L409.6 112.0L409.0 111.9L408.4 111.9L407.8 111.9L407.2 111.8L406.6 111.8L406.0 111.7L405.4 111.7L404.8 111.7L404.2 111.6L403.6 111.6L403.0 111.5L402.4 111.5L401.8 111.4L401.2 111.4L400.6 111.4L400.0 111.3L399.4 111.3L398.8 111.2L398.2 111.2L397.6 111.2L397.0 111.1L396.4 111.1L395.8 111.0L395.2 111.0L394.6 111.0L394.0 110.9L393.4 110.9L392.8 110.8L392.2 110.8L391.6 110.8L391.0 110.7L390.4 110.7L389.8 110.6L389.2 110.6L388.6 110.6L388.0 110.5L387.4 110.5L386.8 110.4Z" fill="url(#gc1)" stroke="none"/>
<path d="M386.8 101.5L387.4 101.0L388.0 103.0L388.6 99.2L389.2 100.2L389.8 99.9L390.4 99.6L391.0 98.0L391.6 97.9L392.2 96.7L392.8 95.9L393.4 97.1L394.0 95.4L394.6 93.5L395.2 95.1L395.8 94.1L396.4 94.2L397.0 94.6L397.6 93.3L398.2 92.3L398.8 92.8L399.4 91.8L400.0 90.8L400.6 92.3L401.2 90.9L401.8 90.5L402.4 90.5L403.0 90.2L403.6 90.5L404.2 92.3L404.8 89.9L405.4 91.3L406.0 91.4L406.6 90.5L407.2 91.8L407.8 91.6L408.4 91.3L409.0 92.7L409.6 92.0L410.2 93.6L410.8 93.6L411.4 95.1L412.0 94.2L412.6 95.4L413.2 96.0L413.8 96.4L414.4 97.6L415.0 97.0L415.6 97.5L416.2 99.4L416.8 100.1L417.4 100.5L418.0 101.2L418.6 102.9L419.2 101.6L419.8 102.1L420.4 104.6L421.0 104.1L421.6 104.4L422.2 105.6L422.8 105.6L423.4 106.6L424.0 107.3L424.6 108.2L425.2 107.6L425.8 108.8L426.4 109.8L427.0 110.1L427.6 111.0L428.2 109.6L428.8 109.7L429.4 111.0L430.0 111.6L430.6 112.9L431.2 111.3L431.8 113.0L432.4 112.4L433.0 111.2L433.6 113.4L434.2 111.3L434.8 111.9L435.4 112.5L436.0 111.4L436.6 112.2L437.2 110.3L437.8 112.4L438.4 110.8L439.0 111.6L439.6 111.7L440.2 111.0L440.8 110.9L441.4 111.1L442.0 109.4L442.6 109.3L443.2 109.9L443.8 110.9L444.4 110.3L445.0 109.5L445.6 109.8L446.2 110.2L446.8 110.8L447.4 108.4L448.0 109.8L448.6 109.3L449.2 107.3L449.8 107.9L450.4 107.7L451.0 108.3L451.6 108.3L452.2 106.4L452.8 104.9L453.4 106.0L454.0 106.2L454.6 107.2L455.2 106.1L455.8 106.6L456.4 105.5L457.0 106.1L457.6 105.9L458.2 106.5L458.8 107.0L459.4 105.7L460.0 107.6L460.6 106.6L461.2 106.5L461.8 107.2L462.4 106.6L463.0 108.1L463.6 108.8L464.2 109.4L464.8 108.9L465.4 109.3L466.0 111.6L466.6 109.5L467.2 110.3L467.8 110.2L468.4 109.8L469.0 111.9L469.6 110.2L470.2 110.2L470.8 109.6L471.4 109.1L472.0 108.4L472.6 107.4L473.2 106.1L473.8 104.7L474.4 102.7L475.0 100.8L475.6 98.6L476.2 95.9L476.8 93.8L477.4 90.0L478.0 87.0L478.6 83.5L479.2 80.8L479.8 77.1L480.4 74.0L481.0 70.3L481.6 67.1L482.2 63.1L482.8 59.2L483.4 55.6L484.0 52.1L484.6 47.5L485.2 43.9L485.8 40.2L486.4 36.6L487.0 33.1L487.6 29.5L488.2 26.1L488.8 22.6L489.4 19.4L490.0 17.1L490.6 15.7L491.2 15.6L491.8 17.7L492.4 21.0L493.0 25.0L493.6 29.4L494.2 33.7L494.8 37.7L495.4 43.1L496.0 47.3L496.6 52.1L497.2 57.3L497.8 61.9L498.4 66.3L499.0 71.5L499.6 76.1L500.2 80.9L500.8 84.8L501.4 89.0L502.0 92.8L502.6 96.1L503.2 99.7L503.8 102.5L504.4 104.9L505.0 107.3L505.6 109.7L506.2 111.5L506.8 113.0L507.4 114.5L508.0 115.6L508.6 116.6L509.2 117.3L509.8 118.1L510.4 118.4L511.0 119.4L511.6 120.0L512.2 121.3L512.8 119.5L513.4 121.8L514.0 120.6L514.6 121.4L515.2 124.3L515.8 122.2L516.4 121.5L517.0 122.3L517.6 121.8L518.2 120.6L518.8 120.2L519.4 119.7L520.0 118.6L520.6 119.1L521.2 116.7L521.8 116.9L522.4 117.5L523.0 118.1L523.6 114.6L524.2 116.0L524.8 114.7L525.4 115.3L526.0 113.6L526.6 112.9L527.2 110.5L527.8 112.4L528.4 110.0L529.0 110.0L529.6 109.5L530.2 109.1L530.8 107.7L531.4 105.4L532.0 106.5L532.6 109.4L533.2 108.3L533.8 106.9L534.4 108.2L535.0 108.2L535.6 106.9L536.2 108.7L536.8 108.2L537.4 110.2L538.0 110.9L538.6 112.3L539.2 112.2L539.8 114.5L540.4 114.1L541.0 114.4L541.6 114.6L542.2 115.3L542.8 116.6L543.1 117.8" fill="none" stroke="#1c4d90" stroke-width="1.2" stroke-linejoin="round"/>
<path d="M386.8 102.3L387.4 101.8L388.0 101.3L388.6 100.8L389.2 100.2L389.8 99.7L390.4 99.1L391.0 98.6L391.6 98.0L392.2 97.4L392.8 96.9L393.4 96.3L394.0 95.7L394.6 95.2L395.2 94.7L395.8 94.2L396.4 93.7L397.0 93.2L397.6 92.8L398.2 92.4L398.8 92.0L399.4 91.7L400.0 91.4L400.6 91.2L401.2 91.0L401.8 90.8L402.4 90.7L403.0 90.6L403.6 90.6L404.2 90.6L404.8 90.7L405.4 90.8L406.0 91.0L406.6 91.2L407.2 91.4L407.8 91.8L408.4 92.1L409.0 92.5L409.6 92.9L410.2 93.4L410.8 93.9L411.4 94.4L412.0 94.9L412.6 95.5L413.2 96.1L413.8 96.7L414.4 97.3L415.0 98.0L415.6 98.6L416.2 99.3L416.8 99.9L417.4 100.6L418.0 101.2L418.6 101.8L419.2 102.5L419.8 103.1L420.4 103.7L421.0 104.3L421.6 104.9L422.2 105.4L422.8 106.0L423.4 106.5L424.0 107.0L424.6 107.5L425.2 107.9L425.8 108.4L426.4 108.8L427.0 109.2L427.6 109.6L428.2 109.9L428.8 110.3L429.4 110.6L430.0 110.9L430.6 111.2L431.2 111.4L431.8 111.7L432.4 111.9L433.0 112.1L433.6 112.3L434.2 112.5L434.8 112.7L435.4 112.9L436.0 113.1L436.6 113.2L437.2 113.4L437.8 113.5L438.4 113.7L439.0 113.8L439.6 113.9L440.2 114.0L440.8 114.1L441.4 114.3L442.0 114.4L442.6 114.5L443.2 114.5L443.8 114.6L444.4 114.7L445.0 114.8L445.6 114.9L446.2 115.0L446.8 115.1L447.4 115.1" fill="none" stroke="#1c4d90" stroke-width="1.0" stroke-linejoin="round"/>
<path d="M421.6 112.7L422.2 112.8L422.8 112.8L423.4 112.8L424.0 112.9L424.6 112.9L425.2 112.9L425.8 112.9L426.4 112.9L427.0 112.9L427.6 112.9L428.2 112.9L428.8 112.9L429.4 112.9L430.0 112.9L430.6 112.9L431.2 112.9L431.8 112.8L432.4 112.8L433.0 112.7L433.6 112.6L434.2 112.6L434.8 112.5L435.4 112.5L436.0 112.4L436.6 112.3L437.2 112.2L437.8 112.0L438.4 111.9L439.0 111.8L439.6 111.6L440.2 111.4L440.8 111.2L441.4 111.0L442.0 110.8L442.6 110.6L443.2 110.4L443.8 110.1L444.4 109.9L445.0 109.6L445.6 109.4L446.2 109.1L446.8 108.9L447.4 108.6L448.0 108.4L448.6 108.1L449.2 107.9L449.8 107.6L450.4 107.4L451.0 107.2L451.6 107.0L452.2 106.8L452.8 106.7L453.4 106.6L454.0 106.4L454.6 106.4L455.2 106.3L455.8 106.3L456.4 106.3L457.0 106.3L457.6 106.4L458.2 106.4L458.8 106.5L459.4 106.7L460.0 106.9L460.6 107.0L461.2 107.3L461.8 107.5L462.4 107.8L463.0 108.1L463.6 108.4L464.2 108.7L464.8 109.0L465.4 109.4L466.0 109.8L466.6 110.1L467.2 110.5L467.8 110.9L468.4 111.3L469.0 111.7L469.6 112.1L470.2 112.5L470.8 112.8L471.4 113.2L472.0 113.6L472.6 113.9L473.2 114.3L473.8 114.6L474.4 114.9L475.0 115.3L475.6 115.6L476.2 115.8L476.8 116.1L477.4 116.4L478.0 116.6L478.6 116.8L479.2 117.1L479.8 117.3L480.4 117.5L481.0 117.6L481.6 117.8L482.2 117.9L482.8 118.1L483.4 118.2L484.0 118.3L484.6 118.4L485.2 118.5L485.8 118.6L486.4 118.7L487.0 118.8L487.6 118.9L488.2 119.0L488.8 119.1L489.4 119.1L490.0 119.2L490.6 119.3L491.2 119.3L491.8 119.4L492.4 119.4L493.0 119.5" fill="none" stroke="#1c4d90" stroke-width="1.0" stroke-linejoin="round"/>
<path d="M467.2 117.2L467.8 117.3L468.4 117.2L469.0 117.2L469.6 117.1L470.2 117.0L470.8 116.8L471.4 116.5L472.0 116.1L472.6 115.6L473.2 115.1L473.8 114.4L474.4 113.7L475.0 112.9L475.6 112.1L476.2 111.3L476.8 110.7L477.4 110.1L478.0 109.7L478.6 109.5L479.2 109.5L479.8 109.8L480.4 110.2L481.0 110.8L481.6 111.6L482.2 112.4L482.8 113.3L483.4 114.2L484.0 115.1L484.6 115.9L485.2 116.6L485.8 117.2L486.4 117.7L487.0 118.1L487.6 118.4L488.2 118.7L488.8 118.9L489.4 119.1L490.0 119.2L490.6 119.3L491.2 119.4" fill="none" stroke="#1c4d90" stroke-width="1.0" stroke-linejoin="round"/>
<path d="M463.0 116.8L463.6 116.9L464.2 116.9L464.8 116.9L465.4 116.9L466.0 116.9L466.6 116.9L467.2 116.8L467.8 116.7L468.4 116.6L469.0 116.4L469.6 116.2L470.2 115.9L470.8 115.5L471.4 115.0L472.0 114.3L472.6 113.6L473.2 112.7L473.8 111.6L474.4 110.3L475.0 108.9L475.6 107.1L476.2 105.2L476.8 102.9L477.4 100.4L478.0 97.6L478.6 94.5L479.2 91.1L479.8 87.4L480.4 83.5L481.0 79.3L481.6 74.9L482.2 70.3L482.8 65.6L483.4 60.8L484.0 56.1L484.6 51.4L485.2 46.9L485.8 42.5L486.4 38.5L487.0 34.9L487.6 31.6L488.2 28.9L488.8 26.8L489.4 25.2L490.0 24.2L490.6 24.0L491.2 24.3L491.8 25.4L492.4 27.0L493.0 29.3L493.6 32.1L494.2 35.4L494.8 39.1L495.4 43.2L496.0 47.6L496.6 52.3L497.2 57.0L497.8 61.9L498.4 66.7L499.0 71.5L499.6 76.2L500.2 80.6L500.8 84.9L501.4 89.0L502.0 92.8L502.6 96.3L503.2 99.5L503.8 102.4L504.4 105.0L505.0 107.4L505.6 109.4L506.2 111.2L506.8 112.7L507.4 114.1L508.0 115.2L508.6 116.2L509.2 117.0L509.8 117.7L510.4 118.3L511.0 118.8L511.6 119.2L512.2 119.5L512.8 119.7L513.4 119.9L514.0 120.1L514.6 120.2L515.2 120.4L515.8 120.4L516.4 120.5L517.0 120.6L517.6 120.6L518.2 120.6" fill="none" stroke="#1c4d90" stroke-width="1.0" stroke-linejoin="round"/>
<path d="M511.6 120.5L512.2 120.5L512.8 120.5L513.4 120.5L514.0 120.4L514.6 120.4L515.2 120.4L515.8 120.3L516.4 120.2L517.0 120.1L517.6 119.9L518.2 119.8L518.8 119.6L519.4 119.3L520.0 119.1L520.6 118.7L521.2 118.3L521.8 117.9L522.4 117.4L523.0 116.9L523.6 116.3L524.2 115.7L524.8 115.0L525.4 114.3L526.0 113.5L526.6 112.8L527.2 112.0L527.8 111.3L528.4 110.6L529.0 109.9L529.6 109.2L530.2 108.7L530.8 108.2L531.4 107.8L532.0 107.5L532.6 107.3L533.2 107.3L533.8 107.3L534.4 107.5L535.0 107.8L535.6 108.2L536.2 108.6L536.8 109.2L537.4 109.8L538.0 110.5L538.6 111.3L539.2 112.1L539.8 112.8L540.4 113.6L541.0 114.4L541.6 115.2L542.2 115.9L542.8 116.5L543.1 116.9" fill="none" stroke="#1c4d90" stroke-width="1.0" stroke-linejoin="round"/>
<path d="M386.8 110.4L387.4 110.5L388.0 110.5L388.6 110.6L389.2 110.6L389.8 110.6L390.4 110.7L391.0 110.7L391.6 110.8L392.2 110.8L392.8 110.8L393.4 110.9L394.0 110.9L394.6 111.0L395.2 111.0L395.8 111.0L396.4 111.1L397.0 111.1L397.6 111.2L398.2 111.2L398.8 111.2L399.4 111.3L400.0 111.3L400.6 111.4L401.2 111.4L401.8 111.4L402.4 111.5L403.0 111.5L403.6 111.6L404.2 111.6L404.8 111.7L405.4 111.7L406.0 111.7L406.6 111.8L407.2 111.8L407.8 111.9L408.4 111.9L409.0 111.9L409.6 112.0L410.2 112.0L410.8 112.1L411.4 112.1L412.0 112.1L412.6 112.2L413.2 112.2L413.8 112.3L414.4 112.3L415.0 112.3L415.6 112.4L416.2 112.4L416.8 112.5L417.4 112.5L418.0 112.5L418.6 112.6L419.2 112.6L419.8 112.7L420.4 112.7L421.0 112.7L421.6 112.8L422.2 112.8L422.8 112.9L423.4 112.9L424.0 113.0L424.6 113.0L425.2 113.0L425.8 113.1L426.4 113.1L427.0 113.2L427.6 113.2L428.2 113.2L428.8 113.3L429.4 113.3L430.0 113.4L430.6 113.4L431.2 113.4L431.8 113.5L432.4 113.5L433.0 113.6L433.6 113.6L434.2 113.7L434.8 113.7L435.4 113.8L436.0 113.9L436.6 113.9L437.2 114.0L437.8 114.1L438.4 114.2L439.0 114.2L439.6 114.3L440.2 114.4L440.8 114.4L441.4 114.5L442.0 114.6L442.6 114.6L443.2 114.7L443.8 114.8L444.4 114.8L445.0 114.9L445.6 115.0L446.2 115.1L446.8 115.1L447.4 115.2L448.0 115.3L448.6 115.3L449.2 115.4L449.8 115.5L450.4 115.5L451.0 115.6L451.6 115.7L452.2 115.7L452.8 115.8L453.4 115.9L454.0 116.0L454.6 116.0L455.2 116.1L455.8 116.2L456.4 116.2L457.0 116.3L457.6 116.4L458.2 116.4L458.8 116.5L459.4 116.5L460.0 116.6L460.6 116.7L461.2 116.7L461.8 116.8L462.4 116.8L463.0 116.9L463.6 117.0L464.2 117.0L464.8 117.1L465.4 117.1L466.0 117.2L466.6 117.3L467.2 117.3L467.8 117.4L468.4 117.4L469.0 117.5L469.6 117.6L470.2 117.6L470.8 117.7L471.4 117.7L472.0 117.8L472.6 117.9L473.2 117.9L473.8 118.0L474.4 118.0L475.0 118.1L475.6 118.2L476.2 118.2L476.8 118.3L477.4 118.3L478.0 118.4L478.6 118.5L479.2 118.5L479.8 118.6L480.4 118.6L481.0 118.7L481.6 118.7L482.2 118.8L482.8 118.8L483.4 118.8L484.0 118.9L484.6 118.9L485.2 119.0L485.8 119.0L486.4 119.1L487.0 119.1L487.6 119.1L488.2 119.2L488.8 119.2L489.4 119.3L490.0 119.3L490.6 119.4L491.2 119.4L491.8 119.4L492.4 119.5L493.0 119.5L493.6 119.6L494.2 119.6L494.8 119.7L495.4 119.7L496.0 119.8L496.6 119.8L497.2 119.8L497.8 119.9L498.4 119.9L499.0 120.0L499.6 120.0L500.2 120.1L500.8 120.1L501.4 120.1L502.0 120.2L502.6 120.2L503.2 120.3L503.8 120.3L504.4 120.4L505.0 120.4L505.6 120.4L506.2 120.4L506.8 120.4L507.4 120.5L508.0 120.5L508.6 120.5L509.2 120.5L509.8 120.5L510.4 120.5L511.0 120.5L511.6 120.6L512.2 120.6L512.8 120.6L513.4 120.6L514.0 120.6L514.6 120.6L515.2 120.6L515.8 120.7L516.4 120.7L517.0 120.7L517.6 120.7L518.2 120.7L518.8 120.7L519.4 120.7L520.0 120.7L520.6 120.8L521.2 120.8L521.8 120.8L522.4 120.8L523.0 120.8L523.6 120.8L524.2 120.8L524.8 120.9L525.4 120.9L526.0 120.9L526.6 120.9L527.2 120.9L527.8 120.9L528.4 120.9L529.0 121.0L529.6 121.0L530.2 121.0L530.8 121.0L531.4 121.0L532.0 121.0L532.6 121.0L533.2 121.1L533.8 121.1L534.4 121.1L535.0 121.1L535.6 121.1L536.2 121.1L536.8 121.1L537.4 121.2L538.0 121.2L538.6 121.2L539.2 121.2L539.8 121.2L540.4 121.2L541.0 121.2L541.6 121.3L542.2 121.3L542.8 121.3L543.1 121.3" fill="none" stroke="#1c4d90" stroke-width="1.0"/>
<path d="M386.8 102.3L387.4 101.8L388.0 101.3L388.6 100.8L389.2 100.2L389.8 99.7L390.4 99.1L391.0 98.6L391.6 98.0L392.2 97.4L392.8 96.9L393.4 96.3L394.0 95.7L394.6 95.2L395.2 94.7L395.8 94.2L396.4 93.7L397.0 93.2L397.6 92.8L398.2 92.4L398.8 92.0L399.4 91.7L400.0 91.4L400.6 91.2L401.2 91.0L401.8 90.8L402.4 90.7L403.0 90.6L403.6 90.6L404.2 90.6L404.8 90.7L405.4 90.8L406.0 91.0L406.6 91.2L407.2 91.4L407.8 91.8L408.4 92.1L409.0 92.5L409.6 92.9L410.2 93.4L410.8 93.9L411.4 94.4L412.0 94.9L412.6 95.5L413.2 96.1L413.8 96.7L414.4 97.3L415.0 98.0L415.6 98.6L416.2 99.2L416.8 99.9L417.4 100.5L418.0 101.2L418.6 101.8L419.2 102.4L419.8 103.1L420.4 103.7L421.0 104.3L421.6 104.8L422.2 105.4L422.8 105.9L423.4 106.4L424.0 106.9L424.6 107.4L425.2 107.8L425.8 108.2L426.4 108.6L427.0 109.0L427.6 109.3L428.2 109.6L428.8 109.9L429.4 110.2L430.0 110.4L430.6 110.6L431.2 110.8L431.8 111.0L432.4 111.1L433.0 111.2L433.6 111.3L434.2 111.4L434.8 111.5L435.4 111.5L436.0 111.6L436.6 111.6L437.2 111.5L437.8 111.5L438.4 111.4L439.0 111.3L439.6 111.2L440.2 111.1L440.8 111.0L441.4 110.8L442.0 110.6L442.6 110.4L443.2 110.2L443.8 110.0L444.4 109.8L445.0 109.5L445.6 109.3L446.2 109.1L446.8 108.8L447.4 108.6L448.0 108.3L448.6 108.1L449.2 107.8L449.8 107.6L450.4 107.4L451.0 107.2L451.6 107.0L452.2 106.8L452.8 106.7L453.4 106.5L454.0 106.4L454.6 106.4L455.2 106.3L455.8 106.3L456.4 106.3L457.0 106.3L457.6 106.4L458.2 106.4L458.8 106.5L459.4 106.7L460.0 106.8L460.6 107.0L461.2 107.2L461.8 107.5L462.4 107.7L463.0 108.0L463.6 108.3L464.2 108.6L464.8 108.9L465.4 109.2L466.0 109.4L466.6 109.7L467.2 109.9L467.8 110.1L468.4 110.3L469.0 110.3L469.6 110.3L470.2 110.1L470.8 109.7L471.4 109.2L472.0 108.4L472.6 107.5L473.2 106.2L473.8 104.7L474.4 102.9L475.0 100.8L475.6 98.5L476.2 95.9L476.8 93.1L477.4 90.2L478.0 87.1L478.6 83.9L479.2 80.7L479.8 77.3L480.4 73.9L481.0 70.4L481.6 66.8L482.2 63.1L482.8 59.4L483.4 55.5L484.0 51.7L484.6 47.8L485.2 44.0L485.8 40.3L486.4 36.8L487.0 33.6L487.6 30.7L488.2 28.2L488.8 26.2L489.4 24.8L490.0 24.0L490.6 23.8L491.2 24.2L491.8 25.2L492.4 26.9L493.0 29.2L493.6 32.0L494.2 35.3L494.8 39.1L495.4 43.2L496.0 47.6L496.6 52.2L497.2 57.0L497.8 61.9L498.4 66.7L499.0 71.5L499.6 76.1L500.2 80.6L500.8 84.9L501.4 89.0L502.0 92.8L502.6 96.3L503.2 99.5L503.8 102.4L504.4 105.0L505.0 107.3L505.6 109.4L506.2 111.2L506.8 112.7L507.4 114.1L508.0 115.2L508.6 116.2L509.2 117.0L509.8 117.7L510.4 118.3L511.0 118.7L511.6 119.1L512.2 119.4L512.8 119.6L513.4 119.8L514.0 119.9L514.6 120.0L515.2 120.1L515.8 120.1L516.4 120.0L517.0 120.0L517.6 119.9L518.2 119.7L518.8 119.5L519.4 119.3L520.0 119.0L520.6 118.7L521.2 118.3L521.8 117.9L522.4 117.4L523.0 116.9L523.6 116.3L524.2 115.7L524.8 115.0L525.4 114.3L526.0 113.5L526.6 112.8L527.2 112.0L527.8 111.3L528.4 110.6L529.0 109.9L529.6 109.2L530.2 108.7L530.8 108.2L531.4 107.8L532.0 107.5L532.6 107.3L533.2 107.3L533.8 107.3L534.4 107.5L535.0 107.8L535.6 108.2L536.2 108.6L536.8 109.2L537.4 109.8L538.0 110.5L538.6 111.3L539.2 112.1L539.8 112.8L540.4 113.6L541.0 114.4L541.6 115.2L542.2 115.9L542.8 116.5L543.1 116.9" fill="none" stroke="#1c4d90" stroke-width="1.4" stroke-linejoin="round"/>
<rect x="386.00" y="5.20" width="157.60" height="126.00" fill="none" stroke="#7a7a7a" stroke-width="1.4"/>
<path d="M534.70 131.20v2.0M513.50 131.20v2.0M492.30 131.20v2.0M471.10 131.20v2.0M449.90 131.20v2.0M428.70 131.20v2.0M407.50 131.20v2.0M386.30 131.20v2.0M396.90 131.20v1.3M418.10 131.20v1.3M439.30 131.20v1.3M460.50 131.20v1.3M481.70 131.20v1.3M502.90 131.20v1.3M524.10 131.20v1.3M545.30 131.20v1.3" stroke="#3a3a3a" stroke-width="0.9" fill="none"/>
<text x="379.84" y="140.13" font-family="Liberation Sans" font-weight="bold" font-size="5.90" fill="#222">1160</text>
<text x="401.01" y="140.07" font-family="Liberation Sans" font-weight="bold" font-size="5.90" fill="#222">1155</text>
<text x="422.24" y="140.13" font-family="Liberation Sans" font-weight="bold" font-size="5.90" fill="#222">1150</text>
<text x="443.41" y="140.07" font-family="Liberation Sans" font-weight="bold" font-size="5.90" fill="#222">1145</text>
<text x="464.64" y="140.13" font-family="Liberation Sans" font-weight="bold" font-size="5.90" fill="#222">1140</text>
<text x="485.81" y="140.13" font-family="Liberation Sans" font-weight="bold" font-size="5.90" fill="#222">1135</text>
<text x="507.04" y="140.13" font-family="Liberation Sans" font-weight="bold" font-size="5.90" fill="#222">1130</text>
<text x="528.21" y="140.13" font-family="Liberation Sans" font-weight="bold" font-size="5.90" fill="#222">1125</text>
<text x="387.39" y="11.50" font-family="Liberation Sans" font-weight="bold" font-size="5.90" fill="#111">Eu 3d</text>
<text x="508.45" y="12.62" font-family="Liberation Sans" font-weight="bold" font-size="5.40" fill="#111">Tb-Eu-TCPP</text>
<text x="397.8" y="77" font-family="Liberation Sans" font-weight="bold" font-size="5.6" fill="#111">3d<tspan font-size="3.4" dy="1.3" font-weight="normal">3/2</tspan></text>
<text x="390.85" y="86.38" font-family="Liberation Sans" font-weight="bold" font-size="5.81" fill="#111">1155.8 eV</text>
<text x="466.8" y="21.1" font-family="Liberation Sans" font-weight="bold" font-size="5.6" fill="#111">3d<tspan font-size="3.4" dy="1.3" font-weight="normal">5/2</tspan></text>
<text x="460.24" y="29.62" font-family="Liberation Sans" font-weight="bold" font-size="6.06" fill="#111">1135.3eV</text>
<text x="521.2" y="92.1" font-family="Liberation Sans" font-weight="bold" font-size="5.6" fill="#111">3d<tspan font-size="3.4" dy="1.3" font-weight="normal">5/2</tspan></text>
<text x="515.66" y="101.65" font-family="Liberation Sans" font-weight="bold" font-size="5.72" fill="#111">1125.2eV</text>
<text x="448.52" y="101.13" font-family="Liberation Sans" font-weight="bold" font-size="5.95" fill="#111">Sat.</text>
<text x="424.41" y="150.56" font-family="Liberation Sans" font-weight="bold" font-size="8.38" fill="#111">Binding Energy (eV)</text>
<text transform="translate(382.55,97.05) rotate(-90)" font-family="Liberation Sans" font-weight="bold" font-size="9.22" fill="#111">Intensity (a.u.)</text>
<text x="367.42" y="14.85" font-family="Liberation Serif" font-weight="bold" font-size="14.50" fill="#000">(c)</text>
<path d="M24.8 216.8L25.4 216.8L26.0 216.8L26.6 216.8L27.2 216.8L27.8 216.8L28.4 216.8L29.0 216.8L29.6 216.8L30.2 216.8L30.8 216.8L31.4 216.8L32.0 216.8L32.6 216.8L33.2 216.8L33.8 216.8L34.4 216.8L35.0 216.8L35.6 216.8L36.2 216.8L36.8 216.8L37.4 216.8L38.0 216.8L38.6 216.8L39.2 216.8L39.8 216.8L40.4 216.8L41.0 216.8L41.6 216.8L42.2 216.8L42.8 216.8L43.4 216.8L44.0 216.8L44.6 216.8L45.2 216.8L45.8 216.8L46.4 216.8L47.0 216.8L47.6 216.8L48.2 216.8L48.8 216.8L49.4 216.8L50.0 216.8L50.6 216.8L51.2 216.8L51.8 216.8L52.4 216.8L53.0 216.8L53.6 216.8L54.2 216.8L54.8 216.8L55.4 216.8L56.0 216.8L56.6 216.8L57.2 216.9L57.8 216.9L58.4 216.9L59.0 216.9L59.6 216.9L60.2 216.9L60.8 216.9L61.4 216.9L62.0 216.9L62.6 216.9L63.2 216.9L63.8 216.9L64.4 216.9L65.0 216.9L65.6 216.9L66.2 216.9L66.8 216.9L67.4 216.9L68.0 216.9L68.6 216.9L69.2 216.9L69.8 216.9L70.4 216.9L71.0 216.9L71.6 216.9L72.2 216.9L72.8 216.9L73.4 216.9L74.0 216.9L74.6 216.9L75.2 216.9L75.8 216.9L76.4 216.9L77.0 216.9L77.6 216.9L78.2 216.9L78.8 216.9L79.4 216.9L80.0 216.8L80.6 216.8L81.2 216.8L81.8 216.8L82.4 216.8L83.0 216.7L83.6 216.7L84.2 216.6L84.8 216.5L85.4 216.4L86.0 216.3L86.6 216.2L87.2 216.0L87.8 215.8L88.4 215.6L89.0 215.4L89.6 215.1L90.2 214.8L90.8 214.6L91.4 214.3L92.0 214.0L92.6 213.7L93.2 213.4L93.8 213.2L94.4 213.0L95.0 212.8L95.6 212.6L96.2 212.5L96.8 212.5L97.4 212.5L98.0 212.5L98.6 212.6L99.2 212.8L99.8 213.0L100.4 213.2L101.0 213.4L101.6 213.7L102.2 214.0L102.8 214.2L103.4 214.5L104.0 214.7L104.6 214.9L105.2 215.1L105.8 215.3L106.4 215.4L107.0 215.5L107.6 215.6L108.2 215.6L108.8 215.6L109.4 215.6L110.0 215.5L110.6 215.4L111.2 215.3L111.8 215.1L112.4 215.0L113.0 214.8L113.6 214.5L114.2 214.3L114.8 214.0L115.4 213.7L116.0 213.3L116.6 213.0L117.2 212.5L117.8 212.1L118.4 211.6L119.0 211.0L119.6 210.3L120.2 209.5L120.8 208.7L121.4 207.7L122.0 206.6L122.6 205.3L123.2 203.9L123.8 202.3L124.4 200.5L125.0 198.5L125.6 196.3L126.2 193.9L126.8 191.4L127.4 188.8L128.0 186.2L128.6 183.5L129.2 180.8L129.8 178.2L130.4 175.8L131.0 173.6L131.6 171.7L132.2 170.1L132.8 168.9L133.4 168.2L134.0 168.0L134.6 168.2L135.2 168.9L135.8 170.1L136.4 171.7L137.0 173.7L137.6 176.1L138.2 178.8L138.8 181.7L139.4 184.7L140.0 187.8L140.6 190.9L141.2 193.9L141.8 196.9L142.4 199.7L143.0 202.4L143.6 204.8L144.2 207.0L144.8 209.0L145.4 210.8L146.0 212.3L146.6 213.7L147.2 214.8L147.8 215.8L148.4 216.6L149.0 217.2L149.6 217.8L150.2 218.2L150.8 218.6L151.4 218.8L152.0 219.0L152.6 219.2L153.2 219.3L153.8 219.4L154.4 219.5L155.0 219.5L155.6 219.6L156.2 219.6L156.8 219.6L157.4 219.6L158.0 219.7L158.6 219.7L159.2 219.7L159.8 219.7L160.4 219.7L161.0 219.7L161.6 219.7L162.2 219.7L162.8 219.7L163.4 219.7L164.0 219.7L164.6 219.7L165.2 219.7L165.8 219.8L166.4 219.8L167.0 219.8L167.6 219.8L168.2 219.8L168.8 219.8L169.4 219.8L170.0 219.8L170.6 219.8L171.2 219.8L171.8 219.8L172.4 219.8L173.0 219.8L173.6 219.8L174.2 219.8L174.8 219.8L175.4 219.8L176.0 219.8L176.6 219.9L177.2 219.9L177.8 219.9L178.4 219.9L179.0 219.9L179.6 219.9L180.2 219.9L180.8 219.9L180.9 219.9L180.9 219.9L180.8 219.9L180.2 219.9L179.6 219.9L179.0 219.9L178.4 219.9L177.8 219.9L177.2 219.9L176.6 219.9L176.0 219.8L175.4 219.8L174.8 219.8L174.2 219.8L173.6 219.8L173.0 219.8L172.4 219.8L171.8 219.8L171.2 219.8L170.6 219.8L170.0 219.8L169.4 219.8L168.8 219.8L168.2 219.8L167.6 219.8L167.0 219.8L166.4 219.8L165.8 219.8L165.2 219.7L164.6 219.7L164.0 219.7L163.4 219.7L162.8 219.7L162.2 219.7L161.6 219.7L161.0 219.7L160.4 219.7L159.8 219.7L159.2 219.7L158.6 219.7L158.0 219.7L157.4 219.7L156.8 219.7L156.2 219.7L155.6 219.7L155.0 219.6L154.4 219.6L153.8 219.6L153.2 219.6L152.6 219.6L152.0 219.6L151.4 219.6L150.8 219.6L150.2 219.6L149.6 219.6L149.0 219.5L148.4 219.5L147.8 219.5L147.2 219.4L146.6 219.4L146.0 219.4L145.4 219.3L144.8 219.3L144.2 219.3L143.6 219.2L143.0 219.2L142.4 219.1L141.8 219.1L141.2 219.1L140.6 219.0L140.0 219.0L139.4 219.0L138.8 218.9L138.2 218.9L137.6 218.8L137.0 218.8L136.4 218.7L135.8 218.7L135.2 218.6L134.6 218.6L134.0 218.5L133.4 218.5L132.8 218.4L132.2 218.4L131.6 218.3L131.0 218.3L130.4 218.2L129.8 218.2L129.2 218.1L128.6 218.1L128.0 218.0L127.4 218.0L126.8 217.9L126.2 217.9L125.6 217.8L125.0 217.8L124.4 217.8L123.8 217.7L123.2 217.7L122.6 217.6L122.0 217.6L121.4 217.5L120.8 217.5L120.2 217.4L119.6 217.4L119.0 217.4L118.4 217.4L117.8 217.4L117.2 217.4L116.6 217.3L116.0 217.3L115.4 217.3L114.8 217.3L114.2 217.3L113.6 217.3L113.0 217.3L112.4 217.3L111.8 217.3L111.2 217.3L110.6 217.2L110.0 217.2L109.4 217.2L108.8 217.2L108.2 217.2L107.6 217.2L107.0 217.2L106.4 217.2L105.8 217.2L105.2 217.2L104.6 217.1L104.0 217.1L103.4 217.1L102.8 217.1L102.2 217.1L101.6 217.1L101.0 217.1L100.4 217.1L99.8 217.1L99.2 217.1L98.6 217.0L98.0 217.0L97.4 217.0L96.8 217.0L96.2 217.0L95.6 217.0L95.0 217.0L94.4 217.0L93.8 217.0L93.2 217.0L92.6 216.9L92.0 216.9L91.4 216.9L90.8 216.9L90.2 216.9L89.6 216.9L89.0 216.9L88.4 216.9L87.8 216.9L87.2 216.9L86.6 216.9L86.0 216.9L85.4 216.9L84.8 216.9L84.2 216.9L83.6 216.9L83.0 216.9L82.4 216.9L81.8 216.9L81.2 216.9L80.6 216.9L80.0 216.9L79.4 216.9L78.8 216.9L78.2 216.9L77.6 216.9L77.0 216.9L76.4 216.9L75.8 216.9L75.2 216.9L74.6 216.9L74.0 216.9L73.4 216.9L72.8 216.9L72.2 216.9L71.6 216.9L71.0 216.9L70.4 216.9L69.8 216.9L69.2 216.9L68.6 216.9L68.0 216.9L67.4 216.9L66.8 216.9L66.2 216.9L65.6 216.9L65.0 216.9L64.4 216.9L63.8 216.9L63.2 216.9L62.6 216.9L62.0 216.9L61.4 216.9L60.8 216.9L60.2 216.9L59.6 216.9L59.0 216.9L58.4 216.9L57.8 216.9L57.2 216.9L56.6 216.8L56.0 216.8L55.4 216.8L54.8 216.8L54.2 216.8L53.6 216.8L53.0 216.8L52.4 216.8L51.8 216.8L51.2 216.8L50.6 216.8L50.0 216.8L49.4 216.8L48.8 216.8L48.2 216.8L47.6 216.8L47.0 216.8L46.4 216.8L45.8 216.8L45.2 216.8L44.6 216.8L44.0 216.8L43.4 216.8L42.8 216.8L42.2 216.8L41.6 216.8L41.0 216.8L40.4 216.8L39.8 216.8L39.2 216.8L38.6 216.8L38.0 216.8L37.4 216.8L36.8 216.8L36.2 216.8L35.6 216.8L35.0 216.8L34.4 216.8L33.8 216.8L33.2 216.8L32.6 216.8L32.0 216.8L31.4 216.8L30.8 216.8L30.2 216.8L29.6 216.8L29.0 216.8L28.4 216.8L27.8 216.8L27.2 216.8L26.6 216.8L26.0 216.8L25.4 216.8L24.8 216.8Z" fill="url(#gd1)" stroke="none"/>
<path d="M24.8 216.4L25.4 216.9L26.0 216.4L26.6 216.8L27.2 216.4L27.8 216.4L28.4 217.3L29.0 217.1L29.6 217.6L30.2 216.7L30.8 216.8L31.4 216.9L32.0 217.6L32.6 217.0L33.2 216.6L33.8 216.7L34.4 216.9L35.0 216.8L35.6 216.2L36.2 216.6L36.8 216.1L37.4 216.5L38.0 217.0L38.6 216.6L39.2 217.0L39.8 216.8L40.4 217.1L41.0 216.8L41.6 216.9L42.2 216.6L42.8 217.3L43.4 216.7L44.0 216.9L44.6 216.9L45.2 216.5L45.8 216.7L46.4 217.1L47.0 217.2L47.6 216.9L48.2 217.1L48.8 216.6L49.4 217.4L50.0 217.1L50.6 216.5L51.2 216.9L51.8 217.1L52.4 216.8L53.0 217.0L53.6 216.9L54.2 217.3L54.8 217.2L55.4 216.8L56.0 216.9L56.6 217.0L57.2 216.9L57.8 217.0L58.4 217.1L59.0 217.5L59.6 217.5L60.2 216.9L60.8 216.8L61.4 216.6L62.0 216.8L62.6 217.0L63.2 216.9L63.8 217.2L64.4 216.7L65.0 218.3L65.6 216.7L66.2 217.0L66.8 216.1L67.4 216.7L68.0 216.6L68.6 216.9L69.2 217.2L69.8 216.7L70.4 216.0L71.0 217.1L71.6 216.8L72.2 216.6L72.8 216.4L73.4 216.7L74.0 216.7L74.6 216.4L75.2 216.6L75.8 216.3L76.4 217.0L77.0 216.3L77.6 216.6L78.2 217.1L78.8 216.3L79.4 216.1L80.0 216.5L80.6 217.1L81.2 216.9L81.8 215.9L82.4 216.5L83.0 216.7L83.6 216.2L84.2 216.9L84.8 216.8L85.4 216.7L86.0 215.9L86.6 216.7L87.2 215.8L87.8 215.9L88.4 215.6L89.0 215.2L89.6 215.3L90.2 214.7L90.8 214.6L91.4 214.2L92.0 214.1L92.6 213.6L93.2 213.6L93.8 212.9L94.4 212.8L95.0 212.2L95.6 212.7L96.2 212.3L96.8 212.4L97.4 212.8L98.0 212.3L98.6 212.4L99.2 212.7L99.8 213.5L100.4 213.3L101.0 213.5L101.6 213.6L102.2 214.0L102.8 214.2L103.4 215.0L104.0 214.9L104.6 215.0L105.2 215.5L105.8 215.2L106.4 215.7L107.0 215.2L107.6 215.8L108.2 215.5L108.8 215.7L109.4 215.6L110.0 215.0L110.6 215.4L111.2 215.4L111.8 215.1L112.4 215.1L113.0 214.7L113.6 214.7L114.2 214.4L114.8 213.2L115.4 214.9L116.0 212.9L116.6 212.1L117.2 212.5L117.8 212.1L118.4 211.9L119.0 210.8L119.6 209.8L120.2 209.5L120.8 208.3L121.4 207.5L122.0 206.1L122.6 205.1L123.2 203.2L123.8 202.2L124.4 201.0L125.0 198.3L125.6 196.5L126.2 194.2L126.8 192.1L127.4 188.2L128.0 185.9L128.6 183.4L129.2 180.3L129.8 178.2L130.4 175.1L131.0 174.0L131.6 171.5L132.2 170.1L132.8 169.2L133.4 168.0L134.0 167.5L134.6 167.7L135.2 169.1L135.8 170.1L136.4 171.6L137.0 174.0L137.6 176.1L138.2 178.6L138.8 181.8L139.4 185.0L140.0 187.5L140.6 191.1L141.2 193.7L141.8 196.6L142.4 199.3L143.0 202.0L143.6 205.0L144.2 206.4L144.8 209.2L145.4 210.7L146.0 212.5L146.6 213.8L147.2 215.3L147.8 216.1L148.4 216.8L149.0 216.7L149.6 217.5L150.2 218.1L150.8 218.4L151.4 218.4L152.0 219.3L152.6 219.5L153.2 219.4L153.8 219.6L154.4 220.2L155.0 219.5L155.6 219.9L156.2 219.5L156.8 219.3L157.4 219.7L158.0 220.1L158.6 219.7L159.2 219.2L159.8 219.8L160.4 219.1L161.0 220.0L161.6 219.5L162.2 219.1L162.8 219.4L163.4 219.5L164.0 219.7L164.6 220.4L165.2 219.9L165.8 219.5L166.4 219.6L167.0 219.3L167.6 219.7L168.2 219.7L168.8 220.1L169.4 219.8L170.0 219.9L170.6 220.5L171.2 219.6L171.8 219.5L172.4 220.2L173.0 219.8L173.6 219.9L174.2 219.8L174.8 219.8L175.4 220.1L176.0 219.8L176.6 220.0L177.2 219.5L177.8 219.8L178.4 220.3L179.0 219.9L179.6 219.5L180.2 219.6L180.8 220.1L180.9 220.2" fill="none" stroke="#55a541" stroke-width="0.8" stroke-linejoin="round"/>
<path d="M113.0 217.2L113.6 217.2L114.2 217.2L114.8 217.1L115.4 217.1L116.0 217.0L116.6 216.9L117.2 216.7L117.8 216.5L118.4 216.3L119.0 215.9L119.6 215.5L120.2 214.9L120.8 214.3L121.4 213.5L122.0 212.6L122.6 211.5L123.2 210.2L123.8 208.6L124.4 206.9L125.0 205.0L125.6 202.8L126.2 200.4L126.8 197.9L127.4 195.2L128.0 192.4L128.6 189.6L129.2 186.8L129.8 184.0L130.4 181.4L131.0 179.0L131.6 176.8L132.2 175.0L132.8 173.6L133.4 172.6L134.0 172.1L134.6 172.1L135.2 172.5L135.8 173.5L136.4 174.8L137.0 176.6L137.6 178.7L138.2 181.2L138.8 183.8L139.4 186.6L140.0 189.5L140.6 192.5L141.2 195.4L141.8 198.2L142.4 200.8L143.0 203.3L143.6 205.7L144.2 207.8L144.8 209.7L145.4 211.3L146.0 212.8L146.6 214.1L147.2 215.2L147.8 216.1L148.4 216.8L149.0 217.5L149.6 218.0L150.2 218.4L150.8 218.7L151.4 218.9L152.0 219.1L152.6 219.3L153.2 219.4L153.8 219.4L154.4 219.5L155.0 219.6L155.6 219.6" fill="none" stroke="#55a541" stroke-width="0.8" stroke-linejoin="round"/>
<path d="M98.0 217.0L98.6 217.0L99.2 217.0L99.8 217.0L100.4 217.0L101.0 216.9L101.6 216.9L102.2 216.9L102.8 216.9L103.4 216.8L104.0 216.8L104.6 216.7L105.2 216.7L105.8 216.6L106.4 216.5L107.0 216.4L107.6 216.3L108.2 216.2L108.8 216.1L109.4 216.0L110.0 215.8L110.6 215.7L111.2 215.5L111.8 215.3L112.4 215.1L113.0 214.9L113.6 214.7L114.2 214.4L114.8 214.2L115.4 213.9L116.0 213.7L116.6 213.4L117.2 213.2L117.8 212.9L118.4 212.7L119.0 212.4L119.6 212.2L120.2 212.0L120.8 211.8L121.4 211.7L122.0 211.6L122.6 211.5L123.2 211.4L123.8 211.3L124.4 211.3L125.0 211.3L125.6 211.3L126.2 211.4L126.8 211.5L127.4 211.6L128.0 211.8L128.6 211.9L129.2 212.1L129.8 212.4L130.4 212.6L131.0 212.9L131.6 213.1L132.2 213.4L132.8 213.7L133.4 214.0L134.0 214.3L134.6 214.7L135.2 215.0L135.8 215.3L136.4 215.6L137.0 215.9L137.6 216.2L138.2 216.5L138.8 216.7L139.4 217.0L140.0 217.2L140.6 217.5L141.2 217.7L141.8 217.9L142.4 218.0L143.0 218.2L143.6 218.4L144.2 218.5L144.8 218.6L145.4 218.8L146.0 218.9L146.6 219.0L147.2 219.1L147.8 219.2L148.4 219.3L149.0 219.3L149.6 219.4L150.2 219.5L150.8 219.5L151.4 219.5L152.0 219.5L152.6 219.6L153.2 219.6" fill="none" stroke="#55a541" stroke-width="0.8" stroke-linejoin="round"/>
<path d="M80.6 216.8L81.2 216.8L81.8 216.8L82.4 216.8L83.0 216.7L83.6 216.7L84.2 216.6L84.8 216.5L85.4 216.4L86.0 216.3L86.6 216.2L87.2 216.0L87.8 215.8L88.4 215.6L89.0 215.4L89.6 215.1L90.2 214.8L90.8 214.6L91.4 214.3L92.0 214.0L92.6 213.7L93.2 213.4L93.8 213.2L94.4 213.0L95.0 212.8L95.6 212.7L96.2 212.6L96.8 212.5L97.4 212.5L98.0 212.6L98.6 212.7L99.2 212.9L99.8 213.1L100.4 213.3L101.0 213.6L101.6 213.9L102.2 214.2L102.8 214.5L103.4 214.8L104.0 215.1L104.6 215.4L105.2 215.6L105.8 215.9L106.4 216.1L107.0 216.3L107.6 216.5L108.2 216.6L108.8 216.7L109.4 216.8L110.0 216.9L110.6 217.0L111.2 217.1L111.8 217.1L112.4 217.2L113.0 217.2L113.6 217.2" fill="none" stroke="#55a541" stroke-width="0.8" stroke-linejoin="round"/>
<path d="M24.8 216.8L25.4 216.8L26.0 216.8L26.6 216.8L27.2 216.8L27.8 216.8L28.4 216.8L29.0 216.8L29.6 216.8L30.2 216.8L30.8 216.8L31.4 216.8L32.0 216.8L32.6 216.8L33.2 216.8L33.8 216.8L34.4 216.8L35.0 216.8L35.6 216.8L36.2 216.8L36.8 216.8L37.4 216.8L38.0 216.8L38.6 216.8L39.2 216.8L39.8 216.8L40.4 216.8L41.0 216.8L41.6 216.8L42.2 216.8L42.8 216.8L43.4 216.8L44.0 216.8L44.6 216.8L45.2 216.8L45.8 216.8L46.4 216.8L47.0 216.8L47.6 216.8L48.2 216.8L48.8 216.8L49.4 216.8L50.0 216.8L50.6 216.8L51.2 216.8L51.8 216.8L52.4 216.8L53.0 216.8L53.6 216.8L54.2 216.8L54.8 216.8L55.4 216.8L56.0 216.8L56.6 216.8L57.2 216.9L57.8 216.9L58.4 216.9L59.0 216.9L59.6 216.9L60.2 216.9L60.8 216.9L61.4 216.9L62.0 216.9L62.6 216.9L63.2 216.9L63.8 216.9L64.4 216.9L65.0 216.9L65.6 216.9L66.2 216.9L66.8 216.9L67.4 216.9L68.0 216.9L68.6 216.9L69.2 216.9L69.8 216.9L70.4 216.9L71.0 216.9L71.6 216.9L72.2 216.9L72.8 216.9L73.4 216.9L74.0 216.9L74.6 216.9L75.2 216.9L75.8 216.9L76.4 216.9L77.0 216.9L77.6 216.9L78.2 216.9L78.8 216.9L79.4 216.9L80.0 216.9L80.6 216.9L81.2 216.9L81.8 216.9L82.4 216.9L83.0 216.9L83.6 216.9L84.2 216.9L84.8 216.9L85.4 216.9L86.0 216.9L86.6 216.9L87.2 216.9L87.8 216.9L88.4 216.9L89.0 216.9L89.6 216.9L90.2 216.9L90.8 216.9L91.4 216.9L92.0 216.9L92.6 216.9L93.2 217.0L93.8 217.0L94.4 217.0L95.0 217.0L95.6 217.0L96.2 217.0L96.8 217.0L97.4 217.0L98.0 217.0L98.6 217.0L99.2 217.1L99.8 217.1L100.4 217.1L101.0 217.1L101.6 217.1L102.2 217.1L102.8 217.1L103.4 217.1L104.0 217.1L104.6 217.1L105.2 217.2L105.8 217.2L106.4 217.2L107.0 217.2L107.6 217.2L108.2 217.2L108.8 217.2L109.4 217.2L110.0 217.2L110.6 217.2L111.2 217.3L111.8 217.3L112.4 217.3L113.0 217.3L113.6 217.3L114.2 217.3L114.8 217.3L115.4 217.3L116.0 217.3L116.6 217.3L117.2 217.4L117.8 217.4L118.4 217.4L119.0 217.4L119.6 217.4L120.2 217.4L120.8 217.5L121.4 217.5L122.0 217.6L122.6 217.6L123.2 217.7L123.8 217.7L124.4 217.8L125.0 217.8L125.6 217.8L126.2 217.9L126.8 217.9L127.4 218.0L128.0 218.0L128.6 218.1L129.2 218.1L129.8 218.2L130.4 218.2L131.0 218.3L131.6 218.3L132.2 218.4L132.8 218.4L133.4 218.5L134.0 218.5L134.6 218.6L135.2 218.6L135.8 218.7L136.4 218.7L137.0 218.8L137.6 218.8L138.2 218.9L138.8 218.9L139.4 219.0L140.0 219.0L140.6 219.0L141.2 219.1L141.8 219.1L142.4 219.1L143.0 219.2L143.6 219.2L144.2 219.3L144.8 219.3L145.4 219.3L146.0 219.4L146.6 219.4L147.2 219.4L147.8 219.5L148.4 219.5L149.0 219.5L149.6 219.6L150.2 219.6L150.8 219.6L151.4 219.6L152.0 219.6L152.6 219.6L153.2 219.6L153.8 219.6L154.4 219.6L155.0 219.6L155.6 219.7L156.2 219.7L156.8 219.7L157.4 219.7L158.0 219.7L158.6 219.7L159.2 219.7L159.8 219.7L160.4 219.7L161.0 219.7L161.6 219.7L162.2 219.7L162.8 219.7L163.4 219.7L164.0 219.7L164.6 219.7L165.2 219.7L165.8 219.8L166.4 219.8L167.0 219.8L167.6 219.8L168.2 219.8L168.8 219.8L169.4 219.8L170.0 219.8L170.6 219.8L171.2 219.8L171.8 219.8L172.4 219.8L173.0 219.8L173.6 219.8L174.2 219.8L174.8 219.8L175.4 219.8L176.0 219.8L176.6 219.9L177.2 219.9L177.8 219.9L178.4 219.9L179.0 219.9L179.6 219.9L180.2 219.9L180.8 219.9L180.9 219.9" fill="none" stroke="#55a541" stroke-width="0.8"/>
<path d="M24.8 216.8L25.4 216.8L26.0 216.8L26.6 216.8L27.2 216.8L27.8 216.8L28.4 216.8L29.0 216.8L29.6 216.8L30.2 216.8L30.8 216.8L31.4 216.8L32.0 216.8L32.6 216.8L33.2 216.8L33.8 216.8L34.4 216.8L35.0 216.8L35.6 216.8L36.2 216.8L36.8 216.8L37.4 216.8L38.0 216.8L38.6 216.8L39.2 216.8L39.8 216.8L40.4 216.8L41.0 216.8L41.6 216.8L42.2 216.8L42.8 216.8L43.4 216.8L44.0 216.8L44.6 216.8L45.2 216.8L45.8 216.8L46.4 216.8L47.0 216.8L47.6 216.8L48.2 216.8L48.8 216.8L49.4 216.8L50.0 216.8L50.6 216.8L51.2 216.8L51.8 216.8L52.4 216.8L53.0 216.8L53.6 216.8L54.2 216.8L54.8 216.8L55.4 216.8L56.0 216.8L56.6 216.8L57.2 216.9L57.8 216.9L58.4 216.9L59.0 216.9L59.6 216.9L60.2 216.9L60.8 216.9L61.4 216.9L62.0 216.9L62.6 216.9L63.2 216.9L63.8 216.9L64.4 216.9L65.0 216.9L65.6 216.9L66.2 216.9L66.8 216.9L67.4 216.9L68.0 216.9L68.6 216.9L69.2 216.9L69.8 216.9L70.4 216.9L71.0 216.9L71.6 216.9L72.2 216.9L72.8 216.9L73.4 216.9L74.0 216.9L74.6 216.9L75.2 216.9L75.8 216.9L76.4 216.9L77.0 216.9L77.6 216.9L78.2 216.9L78.8 216.9L79.4 216.9L80.0 216.8L80.6 216.8L81.2 216.8L81.8 216.8L82.4 216.8L83.0 216.7L83.6 216.7L84.2 216.6L84.8 216.5L85.4 216.4L86.0 216.3L86.6 216.2L87.2 216.0L87.8 215.8L88.4 215.6L89.0 215.4L89.6 215.1L90.2 214.8L90.8 214.6L91.4 214.3L92.0 214.0L92.6 213.7L93.2 213.4L93.8 213.2L94.4 213.0L95.0 212.8L95.6 212.6L96.2 212.5L96.8 212.5L97.4 212.5L98.0 212.5L98.6 212.6L99.2 212.8L99.8 213.0L100.4 213.2L101.0 213.4L101.6 213.7L102.2 214.0L102.8 214.2L103.4 214.5L104.0 214.7L104.6 214.9L105.2 215.1L105.8 215.3L106.4 215.4L107.0 215.5L107.6 215.6L108.2 215.6L108.8 215.6L109.4 215.6L110.0 215.5L110.6 215.4L111.2 215.3L111.8 215.1L112.4 215.0L113.0 214.8L113.6 214.5L114.2 214.3L114.8 214.0L115.4 213.7L116.0 213.3L116.6 213.0L117.2 212.5L117.8 212.1L118.4 211.6L119.0 211.0L119.6 210.3L120.2 209.5L120.8 208.7L121.4 207.7L122.0 206.6L122.6 205.3L123.2 203.9L123.8 202.3L124.4 200.5L125.0 198.5L125.6 196.3L126.2 193.9L126.8 191.4L127.4 188.8L128.0 186.2L128.6 183.5L129.2 180.8L129.8 178.2L130.4 175.8L131.0 173.6L131.6 171.7L132.2 170.1L132.8 168.9L133.4 168.2L134.0 168.0L134.6 168.2L135.2 168.9L135.8 170.1L136.4 171.7L137.0 173.7L137.6 176.1L138.2 178.8L138.8 181.7L139.4 184.7L140.0 187.8L140.6 190.9L141.2 193.9L141.8 196.9L142.4 199.7L143.0 202.4L143.6 204.8L144.2 207.0L144.8 209.0L145.4 210.8L146.0 212.3L146.6 213.7L147.2 214.8L147.8 215.8L148.4 216.6L149.0 217.2L149.6 217.8L150.2 218.2L150.8 218.6L151.4 218.8L152.0 219.0L152.6 219.2L153.2 219.3L153.8 219.4L154.4 219.5L155.0 219.5L155.6 219.6L156.2 219.6L156.8 219.6L157.4 219.6L158.0 219.7L158.6 219.7L159.2 219.7L159.8 219.7L160.4 219.7L161.0 219.7L161.6 219.7L162.2 219.7L162.8 219.7L163.4 219.7L164.0 219.7L164.6 219.7L165.2 219.7L165.8 219.8L166.4 219.8L167.0 219.8L167.6 219.8L168.2 219.8L168.8 219.8L169.4 219.8L170.0 219.8L170.6 219.8L171.2 219.8L171.8 219.8L172.4 219.8L173.0 219.8L173.6 219.8L174.2 219.8L174.8 219.8L175.4 219.8L176.0 219.8L176.6 219.9L177.2 219.9L177.8 219.9L178.4 219.9L179.0 219.9L179.6 219.9L180.2 219.9L180.8 219.9L180.9 219.9" fill="none" stroke="#55a541" stroke-width="1.2" stroke-linejoin="round"/>
<path d="M24.8 284.9L25.4 284.9L26.0 284.9L26.6 284.9L27.2 284.9L27.8 284.9L28.4 284.9L29.0 284.9L29.6 284.9L30.2 284.9L30.8 284.9L31.4 284.9L32.0 284.9L32.6 284.9L33.2 284.9L33.8 284.9L34.4 284.9L35.0 284.9L35.6 284.9L36.2 284.9L36.8 284.9L37.4 284.9L38.0 284.9L38.6 284.9L39.2 284.9L39.8 284.9L40.4 284.9L41.0 284.9L41.6 284.9L42.2 284.9L42.8 284.9L43.4 284.9L44.0 284.9L44.6 284.9L45.2 284.9L45.8 284.9L46.4 284.9L47.0 284.9L47.6 284.9L48.2 284.9L48.8 284.9L49.4 285.0L50.0 285.0L50.6 285.0L51.2 285.0L51.8 285.0L52.4 285.0L53.0 285.0L53.6 285.0L54.2 285.0L54.8 285.0L55.4 285.0L56.0 285.0L56.6 285.0L57.2 285.0L57.8 285.0L58.4 285.0L59.0 285.0L59.6 285.0L60.2 285.0L60.8 285.0L61.4 285.0L62.0 285.0L62.6 285.0L63.2 285.0L63.8 285.0L64.4 285.0L65.0 285.0L65.6 285.0L66.2 285.0L66.8 285.0L67.4 285.0L68.0 285.0L68.6 285.0L69.2 285.0L69.8 285.0L70.4 285.0L71.0 285.0L71.6 285.0L72.2 285.0L72.8 285.0L73.4 285.0L74.0 285.0L74.6 285.0L75.2 285.0L75.8 285.0L76.4 285.0L77.0 285.0L77.6 285.0L78.2 285.0L78.8 285.0L79.4 285.0L80.0 284.9L80.6 284.9L81.2 284.9L81.8 284.8L82.4 284.8L83.0 284.7L83.6 284.6L84.2 284.5L84.8 284.4L85.4 284.2L86.0 284.0L86.6 283.7L87.2 283.4L87.8 283.1L88.4 282.8L89.0 282.4L89.6 282.0L90.2 281.6L90.8 281.2L91.4 280.8L92.0 280.5L92.6 280.2L93.2 279.9L93.8 279.7L94.4 279.5L95.0 279.4L95.6 279.4L96.2 279.5L96.8 279.6L97.4 279.8L98.0 280.1L98.6 280.4L99.2 280.7L99.8 281.0L100.4 281.3L101.0 281.6L101.6 281.9L102.2 282.1L102.8 282.3L103.4 282.5L104.0 282.6L104.6 282.6L105.2 282.6L105.8 282.6L106.4 282.5L107.0 282.4L107.6 282.3L108.2 282.1L108.8 282.0L109.4 281.8L110.0 281.6L110.6 281.4L111.2 281.3L111.8 281.1L112.4 280.9L113.0 280.8L113.6 280.7L114.2 280.6L114.8 280.5L115.4 280.4L116.0 280.4L116.6 280.3L117.2 280.2L117.8 280.1L118.4 280.0L119.0 279.8L119.6 279.5L120.2 279.2L120.8 278.7L121.4 278.2L122.0 277.4L122.6 276.5L123.2 275.3L123.8 274.0L124.4 272.4L125.0 270.5L125.6 268.4L126.2 266.0L126.8 263.4L127.4 260.5L128.0 257.5L128.6 254.4L129.2 251.2L129.8 248.0L130.4 245.0L131.0 242.1L131.6 239.4L132.2 237.2L132.8 235.4L133.4 234.2L134.0 233.6L134.6 233.7L135.2 234.4L135.8 235.7L136.4 237.6L137.0 240.0L137.6 242.7L138.2 245.7L138.8 249.0L139.4 252.3L140.0 255.6L140.6 258.9L141.2 262.1L141.8 265.2L142.4 268.0L143.0 270.6L143.6 273.0L144.2 275.1L144.8 276.9L145.4 278.6L146.0 280.0L146.6 281.2L147.2 282.2L147.8 283.1L148.4 283.8L149.0 284.4L149.6 284.9L150.2 285.3L150.8 285.6L151.4 285.8L152.0 286.0L152.6 286.2L153.2 286.3L153.8 286.4L154.4 286.5L155.0 286.6L155.6 286.7L156.2 286.8L156.8 286.8L157.4 286.9L158.0 286.9L158.6 287.0L159.2 287.0L159.8 287.0L160.4 287.1L161.0 287.1L161.6 287.1L162.2 287.2L162.8 287.2L163.4 287.2L164.0 287.2L164.6 287.3L165.2 287.3L165.8 287.3L166.4 287.3L167.0 287.3L167.6 287.4L168.2 287.4L168.8 287.4L169.4 287.4L170.0 287.4L170.6 287.5L171.2 287.5L171.8 287.5L172.4 287.5L173.0 287.5L173.6 287.5L174.2 287.5L174.8 287.6L175.4 287.6L176.0 287.6L176.6 287.6L177.2 287.6L177.8 287.6L178.4 287.6L179.0 287.7L179.6 287.7L180.2 287.7L180.8 287.7L180.9 287.7L180.9 287.9L180.8 287.9L180.2 287.9L179.6 287.9L179.0 287.9L178.4 287.9L177.8 287.9L177.2 287.9L176.6 287.9L176.0 287.8L175.4 287.8L174.8 287.8L174.2 287.8L173.6 287.8L173.0 287.8L172.4 287.8L171.8 287.8L171.2 287.8L170.6 287.8L170.0 287.8L169.4 287.8L168.8 287.8L168.2 287.8L167.6 287.8L167.0 287.8L166.4 287.8L165.8 287.8L165.2 287.7L164.6 287.7L164.0 287.7L163.4 287.7L162.8 287.7L162.2 287.7L161.6 287.7L161.0 287.7L160.4 287.7L159.8 287.7L159.2 287.7L158.6 287.7L158.0 287.7L157.4 287.7L156.8 287.7L156.2 287.7L155.6 287.7L155.0 287.6L154.4 287.6L153.8 287.6L153.2 287.6L152.6 287.6L152.0 287.6L151.4 287.6L150.8 287.6L150.2 287.6L149.6 287.6L149.0 287.5L148.4 287.5L147.8 287.5L147.2 287.4L146.6 287.4L146.0 287.4L145.4 287.3L144.8 287.3L144.2 287.3L143.6 287.2L143.0 287.2L142.4 287.1L141.8 287.1L141.2 287.1L140.6 287.0L140.0 287.0L139.4 287.0L138.8 286.9L138.2 286.9L137.6 286.9L137.0 286.8L136.4 286.8L135.8 286.7L135.2 286.7L134.6 286.7L134.0 286.6L133.4 286.6L132.8 286.6L132.2 286.5L131.6 286.5L131.0 286.5L130.4 286.4L129.8 286.4L129.2 286.4L128.6 286.3L128.0 286.3L127.4 286.2L126.8 286.2L126.2 286.2L125.6 286.1L125.0 286.1L124.4 286.1L123.8 286.0L123.2 286.0L122.6 286.0L122.0 285.9L121.4 285.9L120.8 285.8L120.2 285.8L119.6 285.8L119.0 285.8L118.4 285.8L117.8 285.8L117.2 285.7L116.6 285.7L116.0 285.7L115.4 285.7L114.8 285.7L114.2 285.7L113.6 285.7L113.0 285.7L112.4 285.6L111.8 285.6L111.2 285.6L110.6 285.6L110.0 285.6L109.4 285.6L108.8 285.6L108.2 285.6L107.6 285.6L107.0 285.5L106.4 285.5L105.8 285.5L105.2 285.5L104.6 285.5L104.0 285.5L103.4 285.5L102.8 285.5L102.2 285.4L101.6 285.4L101.0 285.4L100.4 285.4L99.8 285.4L99.2 285.4L98.6 285.4L98.0 285.4L97.4 285.3L96.8 285.3L96.2 285.3L95.6 285.3L95.0 285.3L94.4 285.3L93.8 285.3L93.2 285.3L92.6 285.3L92.0 285.2L91.4 285.2L90.8 285.2L90.2 285.2L89.6 285.2L89.0 285.2L88.4 285.2L87.8 285.2L87.2 285.2L86.6 285.2L86.0 285.2L85.4 285.2L84.8 285.2L84.2 285.2L83.6 285.2L83.0 285.2L82.4 285.2L81.8 285.2L81.2 285.2L80.6 285.2L80.0 285.2L79.4 285.2L78.8 285.1L78.2 285.1L77.6 285.1L77.0 285.1L76.4 285.1L75.8 285.1L75.2 285.1L74.6 285.1L74.0 285.1L73.4 285.1L72.8 285.1L72.2 285.1L71.6 285.1L71.0 285.1L70.4 285.1L69.8 285.1L69.2 285.1L68.6 285.1L68.0 285.1L67.4 285.1L66.8 285.1L66.2 285.1L65.6 285.1L65.0 285.1L64.4 285.1L63.8 285.1L63.2 285.1L62.6 285.1L62.0 285.1L61.4 285.1L60.8 285.1L60.2 285.1L59.6 285.1L59.0 285.1L58.4 285.1L57.8 285.1L57.2 285.1L56.6 285.0L56.0 285.0L55.4 285.0L54.8 285.0L54.2 285.0L53.6 285.0L53.0 285.0L52.4 285.0L51.8 285.0L51.2 285.0L50.6 285.0L50.0 285.0L49.4 285.0L48.8 285.0L48.2 285.0L47.6 285.0L47.0 285.0L46.4 285.0L45.8 285.0L45.2 285.0L44.6 285.0L44.0 285.0L43.4 285.0L42.8 285.0L42.2 285.0L41.6 285.0L41.0 285.0L40.4 285.0L39.8 285.0L39.2 285.0L38.6 285.0L38.0 285.0L37.4 285.0L36.8 285.0L36.2 285.0L35.6 285.0L35.0 284.9L34.4 284.9L33.8 284.9L33.2 284.9L32.6 284.9L32.0 284.9L31.4 284.9L30.8 284.9L30.2 284.9L29.6 284.9L29.0 284.9L28.4 284.9L27.8 284.9L27.2 284.9L26.6 284.9L26.0 284.9L25.4 284.9L24.8 284.9Z" fill="url(#gd2)" stroke="none"/>
<path d="M24.8 284.4L25.4 284.9L26.0 285.2L26.6 284.9L27.2 284.7L27.8 284.5L28.4 285.1L29.0 285.1L29.6 285.4L30.2 285.1L30.8 284.7L31.4 284.4L32.0 285.1L32.6 284.5L33.2 284.6L33.8 285.0L34.4 284.3L35.0 284.7L35.6 285.2L36.2 284.7L36.8 284.6L37.4 284.6L38.0 284.5L38.6 284.8L39.2 285.0L39.8 284.7L40.4 284.7L41.0 285.1L41.6 284.7L42.2 285.2L42.8 283.7L43.4 285.3L44.0 284.7L44.6 285.1L45.2 284.8L45.8 285.6L46.4 284.5L47.0 284.9L47.6 284.8L48.2 285.1L48.8 285.1L49.4 284.8L50.0 284.8L50.6 284.9L51.2 284.4L51.8 284.5L52.4 285.2L53.0 285.4L53.6 285.2L54.2 285.2L54.8 285.5L55.4 284.7L56.0 285.4L56.6 285.3L57.2 284.7L57.8 285.3L58.4 284.6L59.0 285.1L59.6 285.3L60.2 284.7L60.8 284.2L61.4 284.6L62.0 285.4L62.6 285.4L63.2 284.2L63.8 285.3L64.4 285.7L65.0 284.6L65.6 284.4L66.2 284.7L66.8 284.8L67.4 285.2L68.0 285.5L68.6 285.0L69.2 285.5L69.8 284.6L70.4 284.9L71.0 285.1L71.6 285.4L72.2 284.8L72.8 285.3L73.4 285.3L74.0 285.0L74.6 285.3L75.2 285.1L75.8 285.1L76.4 285.0L77.0 284.6L77.6 285.3L78.2 285.0L78.8 284.8L79.4 284.7L80.0 285.0L80.6 284.9L81.2 285.0L81.8 285.1L82.4 284.3L83.0 284.7L83.6 284.2L84.2 284.1L84.8 284.7L85.4 283.7L86.0 284.0L86.6 283.4L87.2 283.8L87.8 283.1L88.4 282.8L89.0 282.1L89.6 282.0L90.2 281.8L90.8 281.2L91.4 280.9L92.0 280.9L92.6 280.0L93.2 280.1L93.8 279.5L94.4 279.7L95.0 279.1L95.6 279.3L96.2 279.3L96.8 279.4L97.4 280.0L98.0 280.1L98.6 280.6L99.2 281.2L99.8 281.2L100.4 281.0L101.0 282.0L101.6 282.3L102.2 281.7L102.8 281.8L103.4 282.5L104.0 282.8L104.6 283.1L105.2 281.9L105.8 282.2L106.4 282.3L107.0 281.7L107.6 282.4L108.2 281.8L108.8 281.8L109.4 281.6L110.0 281.6L110.6 281.2L111.2 281.5L111.8 280.7L112.4 280.7L113.0 280.9L113.6 280.8L114.2 280.5L114.8 279.8L115.4 279.7L116.0 280.0L116.6 280.1L117.2 279.9L117.8 280.2L118.4 280.1L119.0 279.5L119.6 280.0L120.2 279.4L120.8 278.8L121.4 278.3L122.0 277.4L122.6 276.7L123.2 275.2L123.8 274.2L124.4 272.4L125.0 269.9L125.6 268.7L126.2 265.7L126.8 263.2L127.4 260.7L128.0 257.4L128.6 254.1L129.2 251.4L129.8 248.0L130.4 244.8L131.0 242.2L131.6 239.3L132.2 237.5L132.8 235.8L133.4 234.1L134.0 234.2L134.6 233.2L135.2 234.5L135.8 235.6L136.4 237.5L137.0 239.9L137.6 242.9L138.2 245.4L138.8 248.8L139.4 252.3L140.0 255.7L140.6 259.0L141.2 262.1L141.8 265.3L142.4 268.0L143.0 270.3L143.6 272.7L144.2 275.2L144.8 277.1L145.4 279.0L146.0 279.7L146.6 280.8L147.2 282.1L147.8 283.2L148.4 283.7L149.0 284.8L149.6 284.8L150.2 284.9L150.8 285.1L151.4 286.1L152.0 285.8L152.6 286.2L153.2 286.0L153.8 286.3L154.4 286.7L155.0 287.2L155.6 286.7L156.2 287.5L156.8 287.0L157.4 287.0L158.0 286.9L158.6 287.0L159.2 286.6L159.8 287.1L160.4 287.1L161.0 287.0L161.6 286.7L162.2 287.5L162.8 287.5L163.4 287.0L164.0 288.0L164.6 287.0L165.2 287.5L165.8 287.5L166.4 287.3L167.0 287.6L167.6 287.1L168.2 287.4L168.8 287.6L169.4 287.5L170.0 287.2L170.6 287.8L171.2 287.5L171.8 287.4L172.4 287.3L173.0 287.5L173.6 287.0L174.2 287.5L174.8 287.5L175.4 288.0L176.0 287.8L176.6 287.2L177.2 288.2L177.8 287.7L178.4 287.9L179.0 287.8L179.6 287.3L180.2 287.5L180.8 287.9L180.9 287.5" fill="none" stroke="#7765bb" stroke-width="0.8" stroke-linejoin="round"/>
<path d="M38.6 284.9L39.2 284.9L39.8 284.9L40.4 284.9L41.0 284.9L41.6 284.9L42.2 284.9L42.8 284.9L43.4 284.9L44.0 284.9L44.6 284.9L45.2 284.9L45.8 284.9L46.4 284.9L47.0 284.9L47.6 284.9L48.2 284.9L48.8 284.9L49.4 285.0L50.0 285.0L50.6 285.0L51.2 285.0L51.8 285.0L52.4 285.0L53.0 285.0L53.6 285.0L54.2 285.0L54.8 285.0L55.4 285.0L56.0 285.0L56.6 285.0L57.2 285.0L57.8 285.0L58.4 285.0L59.0 285.0L59.6 285.0L60.2 285.0L60.8 285.0L61.4 285.0L62.0 285.0L62.6 285.0L63.2 285.0L63.8 285.0L64.4 285.0L65.0 285.0L65.6 285.0L66.2 285.0L66.8 285.0L67.4 285.0L68.0 285.0L68.6 285.0L69.2 285.0L69.8 285.0L70.4 285.0L71.0 285.0L71.6 285.0L72.2 285.0L72.8 285.0L73.4 285.0L74.0 285.0L74.6 285.0L75.2 285.0L75.8 285.0L76.4 285.0L77.0 285.0L77.6 285.0L78.2 285.0L78.8 285.0L79.4 285.0L80.0 285.0L80.6 285.0L81.2 285.0L81.8 285.0L82.4 285.0L83.0 285.0L83.6 285.0L84.2 285.0L84.8 285.0L85.4 285.0L86.0 285.0L86.6 285.0L87.2 285.0L87.8 285.0L88.4 285.0L89.0 285.0L89.6 285.0L90.2 285.0L90.8 285.0L91.4 285.0L92.0 285.0L92.6 285.0L93.2 285.0L93.8 285.0L94.4 285.0L95.0 285.0L95.6 285.0L96.2 285.0L96.8 285.0L97.4 285.0L98.0 285.0L98.6 285.0L99.2 285.0L99.8 285.0L100.4 285.0L101.0 285.0L101.6 285.0L102.2 285.0L102.8 285.0L103.4 285.0L104.0 285.0L104.6 285.0L105.2 285.0L105.8 285.0L106.4 285.0L107.0 285.0L107.6 284.9L108.2 284.9L108.8 284.9L109.4 284.9L110.0 284.9L110.6 284.8L111.2 284.8L111.8 284.8L112.4 284.7L113.0 284.7L113.6 284.6L114.2 284.6L114.8 284.5L115.4 284.4L116.0 284.3L116.6 284.1L117.2 284.0L117.8 283.7L118.4 283.5L119.0 283.1L119.6 282.7L120.2 282.1L120.8 281.5L121.4 280.7L122.0 279.7L122.6 278.6L123.2 277.3L123.8 275.7L124.4 273.9L125.0 271.8L125.6 269.5L126.2 267.0L126.8 264.3L127.4 261.3L128.0 258.2L128.6 255.0L129.2 251.7L129.8 248.4L130.4 245.3L131.0 242.3L131.6 239.7L132.2 237.4L132.8 235.6L133.4 234.3L134.0 233.7L134.6 233.8L135.2 234.4L135.8 235.8L136.4 237.6L137.0 240.0L137.6 242.7L138.2 245.7L138.8 249.0L139.4 252.3L140.0 255.6L140.6 258.9L141.2 262.1L141.8 265.2L142.4 268.0L143.0 270.6L143.6 273.0L144.2 275.1L144.8 276.9L145.4 278.6L146.0 280.0L146.6 281.2L147.2 282.2L147.8 283.1L148.4 283.8L149.0 284.4L149.6 284.9L150.2 285.3L150.8 285.6L151.4 285.8L152.0 286.0L152.6 286.2L153.2 286.3L153.8 286.4L154.4 286.5L155.0 286.6L155.6 286.7L156.2 286.8L156.8 286.8L157.4 286.9L158.0 286.9L158.6 287.0L159.2 287.0L159.8 287.0L160.4 287.1L161.0 287.1L161.6 287.1L162.2 287.2L162.8 287.2L163.4 287.2L164.0 287.2L164.6 287.3L165.2 287.3L165.8 287.3L166.4 287.3L167.0 287.3L167.6 287.4L168.2 287.4L168.8 287.4L169.4 287.4L170.0 287.4L170.6 287.5L171.2 287.5L171.8 287.5L172.4 287.5L173.0 287.5L173.6 287.5L174.2 287.5L174.8 287.6L175.4 287.6L176.0 287.6L176.6 287.6L177.2 287.6L177.8 287.6L178.4 287.6L179.0 287.7L179.6 287.7L180.2 287.7L180.8 287.7L180.9 287.7" fill="none" stroke="#7765bb" stroke-width="0.8" stroke-linejoin="round"/>
<path d="M94.4 285.2L95.0 285.2L95.6 285.2L96.2 285.2L96.8 285.2L97.4 285.2L98.0 285.1L98.6 285.1L99.2 285.0L99.8 285.0L100.4 284.9L101.0 284.8L101.6 284.7L102.2 284.6L102.8 284.5L103.4 284.4L104.0 284.2L104.6 284.1L105.2 283.9L105.8 283.7L106.4 283.5L107.0 283.4L107.6 283.2L108.2 283.0L108.8 282.8L109.4 282.6L110.0 282.4L110.6 282.2L111.2 282.1L111.8 282.0L112.4 281.9L113.0 281.8L113.6 281.7L114.2 281.7L114.8 281.7L115.4 281.7L116.0 281.8L116.6 281.9L117.2 282.0L117.8 282.1L118.4 282.3L119.0 282.5L119.6 282.7L120.2 282.9L120.8 283.1L121.4 283.4L122.0 283.6L122.6 283.8L123.2 284.1L123.8 284.3L124.4 284.5L125.0 284.7L125.6 284.9L126.2 285.1L126.8 285.3L127.4 285.5L128.0 285.6L128.6 285.8L129.2 285.9L129.8 286.0L130.4 286.1L131.0 286.2L131.6 286.3L132.2 286.4L132.8 286.4L133.4 286.5L134.0 286.5L134.6 286.6L135.2 286.7" fill="none" stroke="#7765bb" stroke-width="0.8" stroke-linejoin="round"/>
<path d="M80.0 285.1L80.6 285.1L81.2 285.0L81.8 285.0L82.4 285.0L83.0 284.9L83.6 284.8L84.2 284.7L84.8 284.5L85.4 284.4L86.0 284.2L86.6 283.9L87.2 283.6L87.8 283.3L88.4 283.0L89.0 282.6L89.6 282.3L90.2 281.9L90.8 281.5L91.4 281.1L92.0 280.8L92.6 280.4L93.2 280.2L93.8 280.0L94.4 279.9L95.0 279.8L95.6 279.8L96.2 279.9L96.8 280.1L97.4 280.4L98.0 280.7L98.6 281.0L99.2 281.4L99.8 281.8L100.4 282.2L101.0 282.6L101.6 283.0L102.2 283.4L102.8 283.7L103.4 284.0L104.0 284.3L104.6 284.5L105.2 284.8L105.8 284.9L106.4 285.1L107.0 285.2L107.6 285.3L108.2 285.4L108.8 285.4L109.4 285.5L110.0 285.5" fill="none" stroke="#7765bb" stroke-width="0.8" stroke-linejoin="round"/>
<path d="M24.8 284.9L25.4 284.9L26.0 284.9L26.6 284.9L27.2 284.9L27.8 284.9L28.4 284.9L29.0 284.9L29.6 284.9L30.2 284.9L30.8 284.9L31.4 284.9L32.0 284.9L32.6 284.9L33.2 284.9L33.8 284.9L34.4 284.9L35.0 284.9L35.6 285.0L36.2 285.0L36.8 285.0L37.4 285.0L38.0 285.0L38.6 285.0L39.2 285.0L39.8 285.0L40.4 285.0L41.0 285.0L41.6 285.0L42.2 285.0L42.8 285.0L43.4 285.0L44.0 285.0L44.6 285.0L45.2 285.0L45.8 285.0L46.4 285.0L47.0 285.0L47.6 285.0L48.2 285.0L48.8 285.0L49.4 285.0L50.0 285.0L50.6 285.0L51.2 285.0L51.8 285.0L52.4 285.0L53.0 285.0L53.6 285.0L54.2 285.0L54.8 285.0L55.4 285.0L56.0 285.0L56.6 285.0L57.2 285.1L57.8 285.1L58.4 285.1L59.0 285.1L59.6 285.1L60.2 285.1L60.8 285.1L61.4 285.1L62.0 285.1L62.6 285.1L63.2 285.1L63.8 285.1L64.4 285.1L65.0 285.1L65.6 285.1L66.2 285.1L66.8 285.1L67.4 285.1L68.0 285.1L68.6 285.1L69.2 285.1L69.8 285.1L70.4 285.1L71.0 285.1L71.6 285.1L72.2 285.1L72.8 285.1L73.4 285.1L74.0 285.1L74.6 285.1L75.2 285.1L75.8 285.1L76.4 285.1L77.0 285.1L77.6 285.1L78.2 285.1L78.8 285.1L79.4 285.2L80.0 285.2L80.6 285.2L81.2 285.2L81.8 285.2L82.4 285.2L83.0 285.2L83.6 285.2L84.2 285.2L84.8 285.2L85.4 285.2L86.0 285.2L86.6 285.2L87.2 285.2L87.8 285.2L88.4 285.2L89.0 285.2L89.6 285.2L90.2 285.2L90.8 285.2L91.4 285.2L92.0 285.2L92.6 285.3L93.2 285.3L93.8 285.3L94.4 285.3L95.0 285.3L95.6 285.3L96.2 285.3L96.8 285.3L97.4 285.3L98.0 285.4L98.6 285.4L99.2 285.4L99.8 285.4L100.4 285.4L101.0 285.4L101.6 285.4L102.2 285.4L102.8 285.5L103.4 285.5L104.0 285.5L104.6 285.5L105.2 285.5L105.8 285.5L106.4 285.5L107.0 285.5L107.6 285.6L108.2 285.6L108.8 285.6L109.4 285.6L110.0 285.6L110.6 285.6L111.2 285.6L111.8 285.6L112.4 285.6L113.0 285.7L113.6 285.7L114.2 285.7L114.8 285.7L115.4 285.7L116.0 285.7L116.6 285.7L117.2 285.7L117.8 285.8L118.4 285.8L119.0 285.8L119.6 285.8L120.2 285.8L120.8 285.8L121.4 285.9L122.0 285.9L122.6 286.0L123.2 286.0L123.8 286.0L124.4 286.1L125.0 286.1L125.6 286.1L126.2 286.2L126.8 286.2L127.4 286.2L128.0 286.3L128.6 286.3L129.2 286.4L129.8 286.4L130.4 286.4L131.0 286.5L131.6 286.5L132.2 286.5L132.8 286.6L133.4 286.6L134.0 286.6L134.6 286.7L135.2 286.7L135.8 286.7L136.4 286.8L137.0 286.8L137.6 286.9L138.2 286.9L138.8 286.9L139.4 287.0L140.0 287.0L140.6 287.0L141.2 287.1L141.8 287.1L142.4 287.1L143.0 287.2L143.6 287.2L144.2 287.3L144.8 287.3L145.4 287.3L146.0 287.4L146.6 287.4L147.2 287.4L147.8 287.5L148.4 287.5L149.0 287.5L149.6 287.6L150.2 287.6L150.8 287.6L151.4 287.6L152.0 287.6L152.6 287.6L153.2 287.6L153.8 287.6L154.4 287.6L155.0 287.6L155.6 287.7L156.2 287.7L156.8 287.7L157.4 287.7L158.0 287.7L158.6 287.7L159.2 287.7L159.8 287.7L160.4 287.7L161.0 287.7L161.6 287.7L162.2 287.7L162.8 287.7L163.4 287.7L164.0 287.7L164.6 287.7L165.2 287.7L165.8 287.8L166.4 287.8L167.0 287.8L167.6 287.8L168.2 287.8L168.8 287.8L169.4 287.8L170.0 287.8L170.6 287.8L171.2 287.8L171.8 287.8L172.4 287.8L173.0 287.8L173.6 287.8L174.2 287.8L174.8 287.8L175.4 287.8L176.0 287.8L176.6 287.9L177.2 287.9L177.8 287.9L178.4 287.9L179.0 287.9L179.6 287.9L180.2 287.9L180.8 287.9L180.9 287.9" fill="none" stroke="#7765bb" stroke-width="0.8"/>
<path d="M24.8 284.9L25.4 284.9L26.0 284.9L26.6 284.9L27.2 284.9L27.8 284.9L28.4 284.9L29.0 284.9L29.6 284.9L30.2 284.9L30.8 284.9L31.4 284.9L32.0 284.9L32.6 284.9L33.2 284.9L33.8 284.9L34.4 284.9L35.0 284.9L35.6 284.9L36.2 284.9L36.8 284.9L37.4 284.9L38.0 284.9L38.6 284.9L39.2 284.9L39.8 284.9L40.4 284.9L41.0 284.9L41.6 284.9L42.2 284.9L42.8 284.9L43.4 284.9L44.0 284.9L44.6 284.9L45.2 284.9L45.8 284.9L46.4 284.9L47.0 284.9L47.6 284.9L48.2 284.9L48.8 284.9L49.4 285.0L50.0 285.0L50.6 285.0L51.2 285.0L51.8 285.0L52.4 285.0L53.0 285.0L53.6 285.0L54.2 285.0L54.8 285.0L55.4 285.0L56.0 285.0L56.6 285.0L57.2 285.0L57.8 285.0L58.4 285.0L59.0 285.0L59.6 285.0L60.2 285.0L60.8 285.0L61.4 285.0L62.0 285.0L62.6 285.0L63.2 285.0L63.8 285.0L64.4 285.0L65.0 285.0L65.6 285.0L66.2 285.0L66.8 285.0L67.4 285.0L68.0 285.0L68.6 285.0L69.2 285.0L69.8 285.0L70.4 285.0L71.0 285.0L71.6 285.0L72.2 285.0L72.8 285.0L73.4 285.0L74.0 285.0L74.6 285.0L75.2 285.0L75.8 285.0L76.4 285.0L77.0 285.0L77.6 285.0L78.2 285.0L78.8 285.0L79.4 285.0L80.0 284.9L80.6 284.9L81.2 284.9L81.8 284.8L82.4 284.8L83.0 284.7L83.6 284.6L84.2 284.5L84.8 284.4L85.4 284.2L86.0 284.0L86.6 283.7L87.2 283.4L87.8 283.1L88.4 282.8L89.0 282.4L89.6 282.0L90.2 281.6L90.8 281.2L91.4 280.8L92.0 280.5L92.6 280.2L93.2 279.9L93.8 279.7L94.4 279.5L95.0 279.4L95.6 279.4L96.2 279.5L96.8 279.6L97.4 279.8L98.0 280.1L98.6 280.4L99.2 280.7L99.8 281.0L100.4 281.3L101.0 281.6L101.6 281.9L102.2 282.1L102.8 282.3L103.4 282.5L104.0 282.6L104.6 282.6L105.2 282.6L105.8 282.6L106.4 282.5L107.0 282.4L107.6 282.3L108.2 282.1L108.8 282.0L109.4 281.8L110.0 281.6L110.6 281.4L111.2 281.3L111.8 281.1L112.4 280.9L113.0 280.8L113.6 280.7L114.2 280.6L114.8 280.5L115.4 280.4L116.0 280.4L116.6 280.3L117.2 280.2L117.8 280.1L118.4 280.0L119.0 279.8L119.6 279.5L120.2 279.2L120.8 278.7L121.4 278.2L122.0 277.4L122.6 276.5L123.2 275.3L123.8 274.0L124.4 272.4L125.0 270.5L125.6 268.4L126.2 266.0L126.8 263.4L127.4 260.5L128.0 257.5L128.6 254.4L129.2 251.2L129.8 248.0L130.4 245.0L131.0 242.1L131.6 239.4L132.2 237.2L132.8 235.4L133.4 234.2L134.0 233.6L134.6 233.7L135.2 234.4L135.8 235.7L136.4 237.6L137.0 240.0L137.6 242.7L138.2 245.7L138.8 249.0L139.4 252.3L140.0 255.6L140.6 258.9L141.2 262.1L141.8 265.2L142.4 268.0L143.0 270.6L143.6 273.0L144.2 275.1L144.8 276.9L145.4 278.6L146.0 280.0L146.6 281.2L147.2 282.2L147.8 283.1L148.4 283.8L149.0 284.4L149.6 284.9L150.2 285.3L150.8 285.6L151.4 285.8L152.0 286.0L152.6 286.2L153.2 286.3L153.8 286.4L154.4 286.5L155.0 286.6L155.6 286.7L156.2 286.8L156.8 286.8L157.4 286.9L158.0 286.9L158.6 287.0L159.2 287.0L159.8 287.0L160.4 287.1L161.0 287.1L161.6 287.1L162.2 287.2L162.8 287.2L163.4 287.2L164.0 287.2L164.6 287.3L165.2 287.3L165.8 287.3L166.4 287.3L167.0 287.3L167.6 287.4L168.2 287.4L168.8 287.4L169.4 287.4L170.0 287.4L170.6 287.5L171.2 287.5L171.8 287.5L172.4 287.5L173.0 287.5L173.6 287.5L174.2 287.5L174.8 287.6L175.4 287.6L176.0 287.6L176.6 287.6L177.2 287.6L177.8 287.6L178.4 287.6L179.0 287.7L179.6 287.7L180.2 287.7L180.8 287.7L180.9 287.7" fill="none" stroke="#7765bb" stroke-width="1.2" stroke-linejoin="round"/>
<rect x="24.40" y="162.40" width="157.20" height="129.40" fill="none" stroke="#444" stroke-width="1.0"/>
<path d="M24.4 226.7H181.3" stroke="#333" stroke-width="1.1" stroke-dasharray="3 3.4"/>
<path d="M161.66 291.80v2.0M132.32 291.80v2.0M102.98 291.80v2.0M73.64 291.80v2.0M44.30 291.80v2.0M176.33 291.80v1.3M146.99 291.80v1.3M117.65 291.80v1.3M88.31 291.80v1.3M58.97 291.80v1.3M29.63 291.80v1.3" stroke="#3a3a3a" stroke-width="0.9" fill="none"/>
<text x="38.72" y="300.52" font-family="Liberation Sans" font-weight="bold" font-size="6.60" fill="#222">294</text>
<text x="68.13" y="300.52" font-family="Liberation Sans" font-weight="bold" font-size="6.60" fill="#222">291</text>
<text x="97.47" y="300.52" font-family="Liberation Sans" font-weight="bold" font-size="6.60" fill="#222">288</text>
<text x="126.81" y="300.52" font-family="Liberation Sans" font-weight="bold" font-size="6.60" fill="#222">285</text>
<text x="156.18" y="300.52" font-family="Liberation Sans" font-weight="bold" font-size="6.60" fill="#222">282</text>
<text x="25.90" y="167.97" font-family="Liberation Sans" font-weight="bold" font-size="4.90" fill="#111">C 1s</text>
<text x="25.90" y="232.87" font-family="Liberation Sans" font-weight="bold" font-size="4.90" fill="#111">C 1s</text>
<text x="150.55" y="170.37" font-family="Liberation Sans" font-weight="bold" font-size="4.97" fill="#111">Tb-Eu-TCPP</text>
<text x="157.45" y="236.31" font-family="Liberation Sans" font-weight="bold" font-size="5.03" fill="#111">H<tspan font-size="3.02" dy="1.26">2</tspan><tspan dy="-1.26">TCPP</tspan></text>
<text x="93.08" y="172.02" font-family="Liberation Sans" font-weight="bold" font-size="5.50" fill="#111">C-C</text>
<text x="105.43" y="172.03" font-family="Liberation Sans" font-weight="bold" font-size="5.52" fill="#111">284.8 eV</text>
<text x="95.98" y="237.43" font-family="Liberation Sans" font-weight="bold" font-size="5.50" fill="#111">C-C</text>
<text x="108.34" y="237.36" font-family="Liberation Sans" font-weight="bold" font-size="5.31" fill="#111">284.8 eV</text>
<text x="74.28" y="198.35" font-family="Liberation Sans" font-weight="bold" font-size="5.43" fill="#111">O-C=O</text>
<text x="69.24" y="205.02" font-family="Liberation Sans" font-weight="bold" font-size="5.34" fill="#111">288.6 eV</text>
<text x="105.99" y="195.61" font-family="Liberation Sans" font-weight="bold" font-size="5.31" fill="#111">C-O</text>
<text x="100.34" y="202.12" font-family="Liberation Sans" font-weight="bold" font-size="5.34" fill="#111">286.1 eV</text>
<text x="71.79" y="266.22" font-family="Liberation Sans" font-weight="bold" font-size="5.34" fill="#111">O-C=O</text>
<text x="68.53" y="272.33" font-family="Liberation Sans" font-weight="bold" font-size="5.52" fill="#111">288.8 eV</text>
<text x="103.48" y="266.71" font-family="Liberation Sans" font-weight="bold" font-size="5.60" fill="#111">C=O</text>
<text x="99.34" y="273.61" font-family="Liberation Sans" font-weight="bold" font-size="5.31" fill="#111">286.8 eV</text>
<text x="62.61" y="311.31" font-family="Liberation Sans" font-weight="bold" font-size="8.38" fill="#111">Binding Energy (eV)</text>
<text transform="translate(20.45,248.48) rotate(-90)" font-family="Liberation Sans" font-weight="bold" font-size="8.29" fill="#111">Intensity (a.u.)</text>
<text x="1.82" y="172.70" font-family="Liberation Serif" font-weight="bold" font-size="14.50" fill="#000">(d)</text>
<path d="M203.9 217.4L204.5 217.4L205.1 217.4L205.7 217.4L206.3 217.4L206.9 217.4L207.5 217.4L208.1 217.4L208.7 217.4L209.3 217.4L209.9 217.4L210.5 217.4L211.1 217.4L211.7 217.4L212.3 217.4L212.9 217.4L213.5 217.4L214.1 217.4L214.7 217.4L215.3 217.4L215.9 217.4L216.5 217.4L217.1 217.4L217.7 217.4L218.3 217.4L218.9 217.4L219.5 217.4L220.1 217.4L220.7 217.4L221.3 217.4L221.9 217.4L222.5 217.4L223.1 217.4L223.7 217.4L224.3 217.4L224.9 217.4L225.5 217.4L226.1 217.4L226.7 217.4L227.3 217.4L227.9 217.4L228.5 217.4L229.1 217.4L229.7 217.4L230.3 217.4L230.9 217.4L231.5 217.4L232.1 217.5L232.7 217.5L233.3 217.5L233.9 217.5L234.5 217.5L235.1 217.5L235.7 217.5L236.3 217.5L236.9 217.5L237.5 217.5L238.1 217.5L238.7 217.5L239.3 217.5L239.9 217.5L240.5 217.5L241.1 217.5L241.7 217.5L242.3 217.4L242.9 217.4L243.5 217.4L244.1 217.4L244.7 217.4L245.3 217.4L245.9 217.4L246.5 217.4L247.1 217.4L247.7 217.4L248.3 217.3L248.9 217.3L249.5 217.3L250.1 217.2L250.7 217.2L251.3 217.1L251.9 217.1L252.5 217.0L253.1 216.9L253.7 216.8L254.3 216.7L254.9 216.6L255.5 216.5L256.1 216.3L256.7 216.1L257.3 216.0L257.9 215.8L258.5 215.5L259.1 215.3L259.7 215.0L260.3 214.8L260.9 214.5L261.5 214.1L262.1 213.8L262.7 213.4L263.3 213.1L263.9 212.7L264.5 212.2L265.1 211.8L265.7 211.3L266.3 210.9L266.9 210.4L267.5 209.9L268.1 209.4L268.7 208.9L269.3 208.4L269.9 207.9L270.5 207.4L271.1 206.9L271.7 206.4L272.3 206.0L272.9 205.5L273.5 205.1L274.1 204.7L274.7 204.3L275.3 203.9L275.9 203.5L276.5 203.2L277.1 202.8L277.7 202.5L278.3 202.2L278.9 201.8L279.5 201.5L280.1 201.1L280.7 200.7L281.3 200.2L281.9 199.7L282.5 199.2L283.1 198.5L283.7 197.8L284.3 197.1L284.9 196.2L285.5 195.3L286.1 194.2L286.7 193.1L287.3 191.9L287.9 190.6L288.5 189.2L289.1 187.7L289.7 186.2L290.3 184.7L290.9 183.2L291.5 181.6L292.1 180.1L292.7 178.6L293.3 177.2L293.9 175.9L294.5 174.7L295.1 173.6L295.7 172.6L296.3 171.8L296.9 171.3L297.5 170.9L298.1 170.7L298.7 170.7L299.3 171.0L299.9 171.5L300.5 172.2L301.1 173.1L301.7 174.2L302.3 175.5L302.9 177.0L303.5 178.7L304.1 180.5L304.7 182.4L305.3 184.4L305.9 186.4L306.5 188.6L307.1 190.7L307.7 192.9L308.3 195.0L308.9 197.1L309.5 199.1L310.1 201.1L310.7 202.9L311.3 204.7L311.9 206.3L312.5 207.9L313.1 209.3L313.7 210.6L314.3 211.8L314.9 212.9L315.5 213.9L316.1 214.7L316.7 215.5L317.3 216.2L317.9 216.8L318.5 217.3L319.1 217.7L319.7 218.1L320.3 218.4L320.9 218.7L321.5 218.9L322.1 219.0L322.7 219.2L323.3 219.3L323.9 219.4L324.5 219.5L325.1 219.5L325.7 219.6L326.3 219.6L326.9 219.6L327.5 219.7L328.1 219.7L328.7 219.7L329.3 219.7L329.9 219.7L330.5 219.7L331.1 219.7L331.7 219.7L332.3 219.7L332.9 219.7L333.5 219.7L334.1 219.7L334.7 219.7L335.3 219.7L335.9 219.7L336.5 219.7L337.1 219.7L337.7 219.7L338.3 219.7L338.9 219.7L339.5 219.7L340.1 219.7L340.7 219.7L341.3 219.7L341.9 219.7L342.5 219.7L343.1 219.7L343.7 219.8L344.3 219.8L344.9 219.8L345.5 219.8L346.1 219.8L346.7 219.8L347.3 219.8L347.9 219.8L348.5 219.8L349.1 219.8L349.7 219.8L350.3 219.8L350.9 219.8L351.5 219.8L352.1 219.8L352.7 219.8L353.3 219.8L353.9 219.8L354.5 219.8L355.1 219.8L355.7 219.8L356.3 219.8L356.9 219.8L357.5 219.8L358.1 219.8L358.7 219.8L359.3 219.8L359.9 219.8L360.5 219.8L361.1 219.8L361.7 219.8L362.3 219.8L362.9 219.8L363.5 219.8L364.1 219.8L364.7 219.8L365.3 219.8L365.7 219.8L365.7 219.8L365.3 219.8L364.7 219.8L364.1 219.8L363.5 219.8L362.9 219.8L362.3 219.8L361.7 219.8L361.1 219.8L360.5 219.8L359.9 219.8L359.3 219.8L358.7 219.8L358.1 219.8L357.5 219.8L356.9 219.8L356.3 219.8L355.7 219.8L355.1 219.8L354.5 219.8L353.9 219.8L353.3 219.8L352.7 219.8L352.1 219.8L351.5 219.8L350.9 219.8L350.3 219.8L349.7 219.8L349.1 219.8L348.5 219.8L347.9 219.8L347.3 219.8L346.7 219.8L346.1 219.8L345.5 219.8L344.9 219.8L344.3 219.8L343.7 219.8L343.1 219.8L342.5 219.7L341.9 219.7L341.3 219.7L340.7 219.7L340.1 219.7L339.5 219.7L338.9 219.7L338.3 219.7L337.7 219.7L337.1 219.7L336.5 219.7L335.9 219.7L335.3 219.7L334.7 219.7L334.1 219.7L333.5 219.7L332.9 219.7L332.3 219.7L331.7 219.7L331.1 219.7L330.5 219.7L329.9 219.7L329.3 219.7L328.7 219.7L328.1 219.7L327.5 219.7L326.9 219.7L326.3 219.7L325.7 219.7L325.1 219.7L324.5 219.7L323.9 219.7L323.3 219.7L322.7 219.7L322.1 219.7L321.5 219.7L320.9 219.7L320.3 219.7L319.7 219.7L319.1 219.7L318.5 219.6L317.9 219.6L317.3 219.6L316.7 219.5L316.1 219.5L315.5 219.5L314.9 219.5L314.3 219.4L313.7 219.4L313.1 219.4L312.5 219.4L311.9 219.3L311.3 219.3L310.7 219.3L310.1 219.2L309.5 219.2L308.9 219.2L308.3 219.2L307.7 219.1L307.1 219.1L306.5 219.1L305.9 219.0L305.3 219.0L304.7 219.0L304.1 219.0L303.5 218.9L302.9 218.9L302.3 218.9L301.7 218.8L301.1 218.8L300.5 218.8L299.9 218.8L299.3 218.7L298.7 218.7L298.1 218.7L297.5 218.7L296.9 218.6L296.3 218.6L295.7 218.6L295.1 218.5L294.5 218.5L293.9 218.5L293.3 218.5L292.7 218.4L292.1 218.4L291.5 218.4L290.9 218.3L290.3 218.3L289.7 218.3L289.1 218.3L288.5 218.3L287.9 218.2L287.3 218.2L286.7 218.2L286.1 218.2L285.5 218.2L284.9 218.2L284.3 218.1L283.7 218.1L283.1 218.1L282.5 218.1L281.9 218.1L281.3 218.1L280.7 218.1L280.1 218.0L279.5 218.0L278.9 218.0L278.3 218.0L277.7 218.0L277.1 218.0L276.5 217.9L275.9 217.9L275.3 217.9L274.7 217.9L274.1 217.9L273.5 217.9L272.9 217.8L272.3 217.8L271.7 217.8L271.1 217.8L270.5 217.8L269.9 217.8L269.3 217.7L268.7 217.7L268.1 217.7L267.5 217.7L266.9 217.7L266.3 217.7L265.7 217.7L265.1 217.6L264.5 217.6L263.9 217.6L263.3 217.6L262.7 217.6L262.1 217.6L261.5 217.5L260.9 217.5L260.3 217.5L259.7 217.5L259.1 217.5L258.5 217.5L257.9 217.5L257.3 217.5L256.7 217.5L256.1 217.5L255.5 217.5L254.9 217.5L254.3 217.5L253.7 217.5L253.1 217.5L252.5 217.5L251.9 217.5L251.3 217.5L250.7 217.5L250.1 217.5L249.5 217.5L248.9 217.5L248.3 217.5L247.7 217.5L247.1 217.5L246.5 217.5L245.9 217.5L245.3 217.5L244.7 217.5L244.1 217.5L243.5 217.5L242.9 217.5L242.3 217.5L241.7 217.5L241.1 217.5L240.5 217.5L239.9 217.5L239.3 217.5L238.7 217.5L238.1 217.5L237.5 217.5L236.9 217.5L236.3 217.5L235.7 217.5L235.1 217.5L234.5 217.5L233.9 217.5L233.3 217.5L232.7 217.5L232.1 217.5L231.5 217.4L230.9 217.4L230.3 217.4L229.7 217.4L229.1 217.4L228.5 217.4L227.9 217.4L227.3 217.4L226.7 217.4L226.1 217.4L225.5 217.4L224.9 217.4L224.3 217.4L223.7 217.4L223.1 217.4L222.5 217.4L221.9 217.4L221.3 217.4L220.7 217.4L220.1 217.4L219.5 217.4L218.9 217.4L218.3 217.4L217.7 217.4L217.1 217.4L216.5 217.4L215.9 217.4L215.3 217.4L214.7 217.4L214.1 217.4L213.5 217.4L212.9 217.4L212.3 217.4L211.7 217.4L211.1 217.4L210.5 217.4L209.9 217.4L209.3 217.4L208.7 217.4L208.1 217.4L207.5 217.4L206.9 217.4L206.3 217.4L205.7 217.4L205.1 217.4L204.5 217.4L203.9 217.4Z" fill="url(#ge1)" stroke="none"/>
<path d="M203.9 217.4L204.5 217.9L205.1 217.5L205.7 217.6L206.3 217.4L206.9 217.2L207.5 217.3L208.1 217.7L208.7 217.6L209.3 217.4L209.9 217.6L210.5 216.9L211.1 217.9L211.7 217.2L212.3 216.9L212.9 217.5L213.5 217.2L214.1 217.7L214.7 217.6L215.3 216.9L215.9 217.0L216.5 217.3L217.1 217.2L217.7 217.5L218.3 217.4L218.9 217.8L219.5 217.7L220.1 217.7L220.7 217.5L221.3 217.7L221.9 217.7L222.5 217.3L223.1 217.6L223.7 217.5L224.3 217.3L224.9 217.3L225.5 217.8L226.1 217.1L226.7 217.1L227.3 217.8L227.9 217.1L228.5 217.2L229.1 217.1L229.7 217.3L230.3 217.3L230.9 217.7L231.5 217.6L232.1 217.6L232.7 217.8L233.3 217.3L233.9 217.2L234.5 217.2L235.1 216.9L235.7 217.8L236.3 217.8L236.9 218.1L237.5 217.3L238.1 217.8L238.7 217.0L239.3 216.8L239.9 217.4L240.5 217.2L241.1 217.4L241.7 217.8L242.3 217.4L242.9 218.4L243.5 217.3L244.1 217.5L244.7 217.3L245.3 217.2L245.9 217.3L246.5 217.5L247.1 217.4L247.7 217.4L248.3 217.2L248.9 217.7L249.5 217.5L250.1 217.4L250.7 216.9L251.3 217.2L251.9 217.2L252.5 217.0L253.1 217.4L253.7 216.5L254.3 217.3L254.9 217.0L255.5 216.5L256.1 216.2L256.7 216.2L257.3 216.5L257.9 215.7L258.5 215.6L259.1 214.8L259.7 214.6L260.3 214.6L260.9 214.6L261.5 213.7L262.1 215.1L262.7 214.2L263.3 212.2L263.9 212.2L264.5 211.8L265.1 211.8L265.7 211.2L266.3 210.6L266.9 210.4L267.5 210.0L268.1 209.4L268.7 209.1L269.3 208.3L269.9 207.1L270.5 207.9L271.1 206.9L271.7 206.7L272.3 206.1L272.9 205.8L273.5 205.0L274.1 204.6L274.7 204.6L275.3 204.1L275.9 203.2L276.5 203.2L277.1 202.8L277.7 202.1L278.3 202.7L278.9 201.9L279.5 201.5L280.1 201.2L280.7 200.6L281.3 200.6L281.9 199.7L282.5 199.1L283.1 198.4L283.7 198.0L284.3 196.5L284.9 196.5L285.5 195.8L286.1 193.9L286.7 192.9L287.3 191.4L287.9 190.6L288.5 189.3L289.1 188.1L289.7 186.4L290.3 184.8L290.9 182.6L291.5 181.3L292.1 180.1L292.7 177.9L293.3 177.5L293.9 176.3L294.5 174.4L295.1 173.3L295.7 172.7L296.3 172.2L296.9 171.2L297.5 170.9L298.1 170.6L298.7 170.6L299.3 171.2L299.9 171.7L300.5 172.1L301.1 173.2L301.7 174.3L302.3 175.4L302.9 176.4L303.5 178.9L304.1 180.5L304.7 182.1L305.3 184.0L305.9 186.6L306.5 188.4L307.1 190.4L307.7 192.8L308.3 194.9L308.9 196.8L309.5 199.0L310.1 201.4L310.7 202.8L311.3 205.2L311.9 206.7L312.5 208.4L313.1 209.4L313.7 210.4L314.3 211.7L314.9 213.0L315.5 213.5L316.1 215.0L316.7 215.5L317.3 216.2L317.9 217.2L318.5 217.6L319.1 216.8L319.7 218.2L320.3 219.5L320.9 219.2L321.5 218.8L322.1 219.2L322.7 219.3L323.3 219.6L323.9 219.2L324.5 219.5L325.1 219.9L325.7 220.2L326.3 219.1L326.9 220.0L327.5 219.7L328.1 219.9L328.7 220.0L329.3 219.8L329.9 219.4L330.5 219.7L331.1 220.9L331.7 219.8L332.3 219.7L332.9 220.0L333.5 220.0L334.1 219.6L334.7 219.9L335.3 220.2L335.9 219.8L336.5 220.2L337.1 220.5L337.7 219.8L338.3 219.9L338.9 219.6L339.5 220.1L340.1 219.7L340.7 219.4L341.3 219.7L341.9 219.6L342.5 219.6L343.1 220.3L343.7 218.8L344.3 219.9L344.9 220.2L345.5 220.1L346.1 219.4L346.7 219.6L347.3 220.2L347.9 219.4L348.5 219.8L349.1 220.1L349.7 220.1L350.3 219.9L350.9 219.4L351.5 219.6L352.1 219.2L352.7 220.0L353.3 220.1L353.9 219.9L354.5 219.9L355.1 219.7L355.7 219.4L356.3 219.6L356.9 219.8L357.5 219.7L358.1 220.1L358.7 219.6L359.3 219.9L359.9 219.7L360.5 220.3L361.1 219.7L361.7 220.2L362.3 220.3L362.9 219.8L363.5 219.8L364.1 220.1L364.7 220.2L365.3 220.3L365.7 219.9" fill="none" stroke="#55a541" stroke-width="0.8" stroke-linejoin="round"/>
<path d="M245.3 217.4L245.9 217.4L246.5 217.4L247.1 217.4L247.7 217.4L248.3 217.3L248.9 217.3L249.5 217.3L250.1 217.2L250.7 217.2L251.3 217.1L251.9 217.1L252.5 217.0L253.1 216.9L253.7 216.8L254.3 216.7L254.9 216.6L255.5 216.5L256.1 216.3L256.7 216.1L257.3 216.0L257.9 215.8L258.5 215.5L259.1 215.3L259.7 215.0L260.3 214.8L260.9 214.5L261.5 214.1L262.1 213.8L262.7 213.4L263.3 213.1L263.9 212.7L264.5 212.2L265.1 211.8L265.7 211.3L266.3 210.9L266.9 210.4L267.5 209.9L268.1 209.4L268.7 208.9L269.3 208.4L269.9 207.9L270.5 207.5L271.1 207.0L271.7 206.6L272.3 206.1L272.9 205.8L273.5 205.4L274.1 205.1L274.7 204.8L275.3 204.5L275.9 204.3L276.5 204.2L277.1 204.1L277.7 204.0L278.3 204.0L278.9 204.0L279.5 204.1L280.1 204.3L280.7 204.5L281.3 204.7L281.9 205.0L282.5 205.3L283.1 205.6L283.7 206.0L284.3 206.5L284.9 206.9L285.5 207.4L286.1 207.9L286.7 208.4L287.3 208.9L287.9 209.4L288.5 210.0L289.1 210.5L289.7 211.0L290.3 211.5L290.9 212.0L291.5 212.5L292.1 213.0L292.7 213.5L293.3 213.9L293.9 214.4L294.5 214.8L295.1 215.1L295.7 215.5L296.3 215.8L296.9 216.2L297.5 216.5L298.1 216.7L298.7 217.0L299.3 217.2L299.9 217.4L300.5 217.6L301.1 217.8L301.7 218.0L302.3 218.1L302.9 218.2L303.5 218.4L304.1 218.5L304.7 218.6L305.3 218.7L305.9 218.7L306.5 218.8L307.1 218.9L307.7 218.9L308.3 219.0L308.9 219.1L309.5 219.1L310.1 219.2L310.7 219.2L311.3 219.2" fill="none" stroke="#55a541" stroke-width="0.8" stroke-linejoin="round"/>
<path d="M269.9 217.7L270.5 217.7L271.1 217.7L271.7 217.7L272.3 217.6L272.9 217.6L273.5 217.5L274.1 217.5L274.7 217.4L275.3 217.3L275.9 217.1L276.5 217.0L277.1 216.8L277.7 216.5L278.3 216.2L278.9 215.9L279.5 215.5L280.1 215.0L280.7 214.5L281.3 213.9L281.9 213.2L282.5 212.5L283.1 211.6L283.7 210.7L284.3 209.7L284.9 208.6L285.5 207.5L286.1 206.3L286.7 205.0L287.3 203.7L287.9 202.3L288.5 201.0L289.1 199.6L289.7 198.3L290.3 197.0L290.9 195.8L291.5 194.7L292.1 193.7L292.7 192.8L293.3 192.0L293.9 191.4L294.5 190.9L295.1 190.7L295.7 190.6L296.3 190.7L296.9 190.9L297.5 191.4L298.1 192.0L298.7 192.8L299.3 193.7L299.9 194.7L300.5 195.9L301.1 197.1L301.7 198.4L302.3 199.8L302.9 201.2L303.5 202.6L304.1 204.0L304.7 205.3L305.3 206.6L305.9 207.9L306.5 209.1L307.1 210.3L307.7 211.4L308.3 212.3L308.9 213.3L309.5 214.1L310.1 214.8L310.7 215.5L311.3 216.1L311.9 216.6L312.5 217.1L313.1 217.5L313.7 217.9L314.3 218.2L314.9 218.4L315.5 218.7L316.1 218.8L316.7 219.0L317.3 219.1L317.9 219.3L318.5 219.4L319.1 219.5L319.7 219.5L320.3 219.6L320.9 219.6L321.5 219.6L322.1 219.7" fill="none" stroke="#55a541" stroke-width="0.8" stroke-linejoin="round"/>
<path d="M277.7 217.9L278.3 217.9L278.9 217.9L279.5 217.9L280.1 217.9L280.7 217.8L281.3 217.8L281.9 217.7L282.5 217.6L283.1 217.5L283.7 217.4L284.3 217.2L284.9 217.0L285.5 216.8L286.1 216.5L286.7 216.1L287.3 215.7L287.9 215.3L288.5 214.8L289.1 214.2L289.7 213.5L290.3 212.8L290.9 212.0L291.5 211.2L292.1 210.2L292.7 209.2L293.3 208.2L293.9 207.1L294.5 206.0L295.1 204.8L295.7 203.7L296.3 202.5L296.9 201.4L297.5 200.3L298.1 199.3L298.7 198.4L299.3 197.6L299.9 196.8L300.5 196.3L301.1 195.8L301.7 195.5L302.3 195.4L302.9 195.4L303.5 195.6L304.1 196.0L304.7 196.5L305.3 197.1L305.9 197.9L306.5 198.8L307.1 199.7L307.7 200.8L308.3 201.9L308.9 203.1L309.5 204.3L310.1 205.5L310.7 206.7L311.3 207.9L311.9 209.1L312.5 210.2L313.1 211.2L313.7 212.2L314.3 213.1L314.9 214.0L315.5 214.7L316.1 215.4L316.7 216.1L317.3 216.6L317.9 217.1L318.5 217.6L319.1 217.9L319.7 218.3L320.3 218.5L320.9 218.8L321.5 218.9L322.1 219.1L322.7 219.2L323.3 219.3L323.9 219.4L324.5 219.5L325.1 219.5L325.7 219.6L326.3 219.6L326.9 219.6L327.5 219.7" fill="none" stroke="#55a541" stroke-width="0.8" stroke-linejoin="round"/>
<path d="M203.9 217.4L204.5 217.4L205.1 217.4L205.7 217.4L206.3 217.4L206.9 217.4L207.5 217.4L208.1 217.4L208.7 217.4L209.3 217.4L209.9 217.4L210.5 217.4L211.1 217.4L211.7 217.4L212.3 217.4L212.9 217.4L213.5 217.4L214.1 217.4L214.7 217.4L215.3 217.4L215.9 217.4L216.5 217.4L217.1 217.4L217.7 217.4L218.3 217.4L218.9 217.4L219.5 217.4L220.1 217.4L220.7 217.4L221.3 217.4L221.9 217.4L222.5 217.4L223.1 217.4L223.7 217.4L224.3 217.4L224.9 217.4L225.5 217.4L226.1 217.4L226.7 217.4L227.3 217.4L227.9 217.4L228.5 217.4L229.1 217.4L229.7 217.4L230.3 217.4L230.9 217.4L231.5 217.4L232.1 217.5L232.7 217.5L233.3 217.5L233.9 217.5L234.5 217.5L235.1 217.5L235.7 217.5L236.3 217.5L236.9 217.5L237.5 217.5L238.1 217.5L238.7 217.5L239.3 217.5L239.9 217.5L240.5 217.5L241.1 217.5L241.7 217.5L242.3 217.5L242.9 217.5L243.5 217.5L244.1 217.5L244.7 217.5L245.3 217.5L245.9 217.5L246.5 217.5L247.1 217.5L247.7 217.5L248.3 217.5L248.9 217.5L249.5 217.5L250.1 217.5L250.7 217.5L251.3 217.5L251.9 217.5L252.5 217.5L253.1 217.5L253.7 217.5L254.3 217.5L254.9 217.5L255.5 217.5L256.1 217.5L256.7 217.5L257.3 217.5L257.9 217.5L258.5 217.5L259.1 217.5L259.7 217.5L260.3 217.5L260.9 217.5L261.5 217.5L262.1 217.6L262.7 217.6L263.3 217.6L263.9 217.6L264.5 217.6L265.1 217.6L265.7 217.7L266.3 217.7L266.9 217.7L267.5 217.7L268.1 217.7L268.7 217.7L269.3 217.7L269.9 217.8L270.5 217.8L271.1 217.8L271.7 217.8L272.3 217.8L272.9 217.8L273.5 217.9L274.1 217.9L274.7 217.9L275.3 217.9L275.9 217.9L276.5 217.9L277.1 218.0L277.7 218.0L278.3 218.0L278.9 218.0L279.5 218.0L280.1 218.0L280.7 218.1L281.3 218.1L281.9 218.1L282.5 218.1L283.1 218.1L283.7 218.1L284.3 218.1L284.9 218.2L285.5 218.2L286.1 218.2L286.7 218.2L287.3 218.2L287.9 218.2L288.5 218.3L289.1 218.3L289.7 218.3L290.3 218.3L290.9 218.3L291.5 218.4L292.1 218.4L292.7 218.4L293.3 218.5L293.9 218.5L294.5 218.5L295.1 218.5L295.7 218.6L296.3 218.6L296.9 218.6L297.5 218.7L298.1 218.7L298.7 218.7L299.3 218.7L299.9 218.8L300.5 218.8L301.1 218.8L301.7 218.8L302.3 218.9L302.9 218.9L303.5 218.9L304.1 219.0L304.7 219.0L305.3 219.0L305.9 219.0L306.5 219.1L307.1 219.1L307.7 219.1L308.3 219.2L308.9 219.2L309.5 219.2L310.1 219.2L310.7 219.3L311.3 219.3L311.9 219.3L312.5 219.4L313.1 219.4L313.7 219.4L314.3 219.4L314.9 219.5L315.5 219.5L316.1 219.5L316.7 219.5L317.3 219.6L317.9 219.6L318.5 219.6L319.1 219.7L319.7 219.7L320.3 219.7L320.9 219.7L321.5 219.7L322.1 219.7L322.7 219.7L323.3 219.7L323.9 219.7L324.5 219.7L325.1 219.7L325.7 219.7L326.3 219.7L326.9 219.7L327.5 219.7L328.1 219.7L328.7 219.7L329.3 219.7L329.9 219.7L330.5 219.7L331.1 219.7L331.7 219.7L332.3 219.7L332.9 219.7L333.5 219.7L334.1 219.7L334.7 219.7L335.3 219.7L335.9 219.7L336.5 219.7L337.1 219.7L337.7 219.7L338.3 219.7L338.9 219.7L339.5 219.7L340.1 219.7L340.7 219.7L341.3 219.7L341.9 219.7L342.5 219.7L343.1 219.8L343.7 219.8L344.3 219.8L344.9 219.8L345.5 219.8L346.1 219.8L346.7 219.8L347.3 219.8L347.9 219.8L348.5 219.8L349.1 219.8L349.7 219.8L350.3 219.8L350.9 219.8L351.5 219.8L352.1 219.8L352.7 219.8L353.3 219.8L353.9 219.8L354.5 219.8L355.1 219.8L355.7 219.8L356.3 219.8L356.9 219.8L357.5 219.8L358.1 219.8L358.7 219.8L359.3 219.8L359.9 219.8L360.5 219.8L361.1 219.8L361.7 219.8L362.3 219.8L362.9 219.8L363.5 219.8L364.1 219.8L364.7 219.8L365.3 219.8L365.7 219.8" fill="none" stroke="#55a541" stroke-width="0.8"/>
<path d="M203.9 217.4L204.5 217.4L205.1 217.4L205.7 217.4L206.3 217.4L206.9 217.4L207.5 217.4L208.1 217.4L208.7 217.4L209.3 217.4L209.9 217.4L210.5 217.4L211.1 217.4L211.7 217.4L212.3 217.4L212.9 217.4L213.5 217.4L214.1 217.4L214.7 217.4L215.3 217.4L215.9 217.4L216.5 217.4L217.1 217.4L217.7 217.4L218.3 217.4L218.9 217.4L219.5 217.4L220.1 217.4L220.7 217.4L221.3 217.4L221.9 217.4L222.5 217.4L223.1 217.4L223.7 217.4L224.3 217.4L224.9 217.4L225.5 217.4L226.1 217.4L226.7 217.4L227.3 217.4L227.9 217.4L228.5 217.4L229.1 217.4L229.7 217.4L230.3 217.4L230.9 217.4L231.5 217.4L232.1 217.5L232.7 217.5L233.3 217.5L233.9 217.5L234.5 217.5L235.1 217.5L235.7 217.5L236.3 217.5L236.9 217.5L237.5 217.5L238.1 217.5L238.7 217.5L239.3 217.5L239.9 217.5L240.5 217.5L241.1 217.5L241.7 217.5L242.3 217.4L242.9 217.4L243.5 217.4L244.1 217.4L244.7 217.4L245.3 217.4L245.9 217.4L246.5 217.4L247.1 217.4L247.7 217.4L248.3 217.3L248.9 217.3L249.5 217.3L250.1 217.2L250.7 217.2L251.3 217.1L251.9 217.1L252.5 217.0L253.1 216.9L253.7 216.8L254.3 216.7L254.9 216.6L255.5 216.5L256.1 216.3L256.7 216.1L257.3 216.0L257.9 215.8L258.5 215.5L259.1 215.3L259.7 215.0L260.3 214.8L260.9 214.5L261.5 214.1L262.1 213.8L262.7 213.4L263.3 213.1L263.9 212.7L264.5 212.2L265.1 211.8L265.7 211.3L266.3 210.9L266.9 210.4L267.5 209.9L268.1 209.4L268.7 208.9L269.3 208.4L269.9 207.9L270.5 207.4L271.1 206.9L271.7 206.4L272.3 206.0L272.9 205.5L273.5 205.1L274.1 204.7L274.7 204.3L275.3 203.9L275.9 203.5L276.5 203.2L277.1 202.8L277.7 202.5L278.3 202.2L278.9 201.8L279.5 201.5L280.1 201.1L280.7 200.7L281.3 200.2L281.9 199.7L282.5 199.2L283.1 198.5L283.7 197.8L284.3 197.1L284.9 196.2L285.5 195.3L286.1 194.2L286.7 193.1L287.3 191.9L287.9 190.6L288.5 189.2L289.1 187.7L289.7 186.2L290.3 184.7L290.9 183.2L291.5 181.6L292.1 180.1L292.7 178.6L293.3 177.2L293.9 175.9L294.5 174.7L295.1 173.6L295.7 172.6L296.3 171.8L296.9 171.3L297.5 170.9L298.1 170.7L298.7 170.7L299.3 171.0L299.9 171.5L300.5 172.2L301.1 173.1L301.7 174.2L302.3 175.5L302.9 177.0L303.5 178.7L304.1 180.5L304.7 182.4L305.3 184.4L305.9 186.4L306.5 188.6L307.1 190.7L307.7 192.9L308.3 195.0L308.9 197.1L309.5 199.1L310.1 201.1L310.7 202.9L311.3 204.7L311.9 206.3L312.5 207.9L313.1 209.3L313.7 210.6L314.3 211.8L314.9 212.9L315.5 213.9L316.1 214.7L316.7 215.5L317.3 216.2L317.9 216.8L318.5 217.3L319.1 217.7L319.7 218.1L320.3 218.4L320.9 218.7L321.5 218.9L322.1 219.0L322.7 219.2L323.3 219.3L323.9 219.4L324.5 219.5L325.1 219.5L325.7 219.6L326.3 219.6L326.9 219.6L327.5 219.7L328.1 219.7L328.7 219.7L329.3 219.7L329.9 219.7L330.5 219.7L331.1 219.7L331.7 219.7L332.3 219.7L332.9 219.7L333.5 219.7L334.1 219.7L334.7 219.7L335.3 219.7L335.9 219.7L336.5 219.7L337.1 219.7L337.7 219.7L338.3 219.7L338.9 219.7L339.5 219.7L340.1 219.7L340.7 219.7L341.3 219.7L341.9 219.7L342.5 219.7L343.1 219.7L343.7 219.8L344.3 219.8L344.9 219.8L345.5 219.8L346.1 219.8L346.7 219.8L347.3 219.8L347.9 219.8L348.5 219.8L349.1 219.8L349.7 219.8L350.3 219.8L350.9 219.8L351.5 219.8L352.1 219.8L352.7 219.8L353.3 219.8L353.9 219.8L354.5 219.8L355.1 219.8L355.7 219.8L356.3 219.8L356.9 219.8L357.5 219.8L358.1 219.8L358.7 219.8L359.3 219.8L359.9 219.8L360.5 219.8L361.1 219.8L361.7 219.8L362.3 219.8L362.9 219.8L363.5 219.8L364.1 219.8L364.7 219.8L365.3 219.8L365.7 219.8" fill="none" stroke="#55a541" stroke-width="1.2" stroke-linejoin="round"/>
<path d="M203.9 281.1L204.5 281.1L205.1 281.1L205.7 281.1L206.3 281.1L206.9 281.1L207.5 281.1L208.1 281.1L208.7 281.1L209.3 281.1L209.9 281.1L210.5 281.1L211.1 281.1L211.7 281.1L212.3 281.1L212.9 281.1L213.5 281.1L214.1 281.1L214.7 281.1L215.3 281.1L215.9 281.1L216.5 281.1L217.1 281.1L217.7 281.1L218.3 281.1L218.9 281.1L219.5 281.1L220.1 281.1L220.7 281.1L221.3 281.1L221.9 281.1L222.5 281.1L223.1 281.1L223.7 281.1L224.3 281.1L224.9 281.1L225.5 281.1L226.1 281.1L226.7 281.1L227.3 281.1L227.9 281.1L228.5 281.1L229.1 281.1L229.7 281.1L230.3 281.1L230.9 281.1L231.5 281.1L232.1 281.2L232.7 281.2L233.3 281.2L233.9 281.2L234.5 281.2L235.1 281.2L235.7 281.2L236.3 281.2L236.9 281.2L237.5 281.2L238.1 281.2L238.7 281.2L239.3 281.2L239.9 281.2L240.5 281.2L241.1 281.2L241.7 281.2L242.3 281.2L242.9 281.2L243.5 281.2L244.1 281.2L244.7 281.2L245.3 281.2L245.9 281.2L246.5 281.2L247.1 281.2L247.7 281.2L248.3 281.2L248.9 281.2L249.5 281.2L250.1 281.2L250.7 281.2L251.3 281.1L251.9 281.1L252.5 281.1L253.1 281.1L253.7 281.1L254.3 281.0L254.9 281.0L255.5 281.0L256.1 280.9L256.7 280.8L257.3 280.7L257.9 280.6L258.5 280.5L259.1 280.3L259.7 280.1L260.3 279.8L260.9 279.6L261.5 279.2L262.1 278.9L262.7 278.4L263.3 277.9L263.9 277.3L264.5 276.6L265.1 275.9L265.7 275.0L266.3 274.0L266.9 273.0L267.5 271.8L268.1 270.5L268.7 269.2L269.3 267.7L269.9 266.1L270.5 264.4L271.1 262.7L271.7 260.8L272.3 258.9L272.9 256.9L273.5 255.0L274.1 252.9L274.7 250.9L275.3 249.0L275.9 247.0L276.5 245.2L277.1 243.4L277.7 241.7L278.3 240.1L278.9 238.6L279.5 237.3L280.1 236.2L280.7 235.2L281.3 234.4L281.9 233.8L282.5 233.3L283.1 233.0L283.7 232.8L284.3 232.8L284.9 233.0L285.5 233.2L286.1 233.6L286.7 234.1L287.3 234.6L287.9 235.3L288.5 235.9L289.1 236.7L289.7 237.4L290.3 238.2L290.9 239.0L291.5 239.8L292.1 240.6L292.7 241.4L293.3 242.2L293.9 243.1L294.5 243.9L295.1 244.7L295.7 245.5L296.3 246.4L296.9 247.2L297.5 248.1L298.1 249.0L298.7 249.9L299.3 250.9L299.9 251.9L300.5 252.9L301.1 253.9L301.7 255.0L302.3 256.2L302.9 257.3L303.5 258.4L304.1 259.6L304.7 260.8L305.3 262.0L305.9 263.2L306.5 264.3L307.1 265.5L307.7 266.6L308.3 267.8L308.9 268.9L309.5 269.9L310.1 271.0L310.7 271.9L311.3 272.9L311.9 273.8L312.5 274.6L313.1 275.4L313.7 276.2L314.3 276.9L314.9 277.6L315.5 278.2L316.1 278.8L316.7 279.3L317.3 279.8L317.9 280.2L318.5 280.6L319.1 281.0L319.7 281.3L320.3 281.6L320.9 281.8L321.5 282.1L322.1 282.3L322.7 282.4L323.3 282.6L323.9 282.7L324.5 282.8L325.1 282.9L325.7 283.0L326.3 283.1L326.9 283.2L327.5 283.2L328.1 283.3L328.7 283.3L329.3 283.4L329.9 283.4L330.5 283.5L331.1 283.5L331.7 283.5L332.3 283.5L332.9 283.6L333.5 283.6L334.1 283.6L334.7 283.6L335.3 283.6L335.9 283.7L336.5 283.7L337.1 283.7L337.7 283.7L338.3 283.7L338.9 283.7L339.5 283.8L340.1 283.8L340.7 283.8L341.3 283.8L341.9 283.8L342.5 283.8L343.1 283.8L343.7 283.9L344.3 283.9L344.9 283.9L345.5 283.9L346.1 283.9L346.7 283.9L347.3 283.9L347.9 284.0L348.5 284.0L349.1 284.0L349.7 284.0L350.3 284.0L350.9 284.0L351.5 284.0L352.1 284.1L352.7 284.1L353.3 284.1L353.9 284.1L354.5 284.1L355.1 284.1L355.7 284.1L356.3 284.2L356.9 284.2L357.5 284.2L358.1 284.2L358.7 284.2L359.3 284.2L359.9 284.2L360.5 284.3L361.1 284.3L361.7 284.3L362.3 284.3L362.9 284.3L363.5 284.3L364.1 284.3L364.7 284.4L365.3 284.4L365.7 284.4L365.7 284.4L365.3 284.4L364.7 284.4L364.1 284.4L363.5 284.3L362.9 284.3L362.3 284.3L361.7 284.3L361.1 284.3L360.5 284.3L359.9 284.3L359.3 284.2L358.7 284.2L358.1 284.2L357.5 284.2L356.9 284.2L356.3 284.2L355.7 284.2L355.1 284.1L354.5 284.1L353.9 284.1L353.3 284.1L352.7 284.1L352.1 284.1L351.5 284.1L350.9 284.0L350.3 284.0L349.7 284.0L349.1 284.0L348.5 284.0L347.9 284.0L347.3 284.0L346.7 283.9L346.1 283.9L345.5 283.9L344.9 283.9L344.3 283.9L343.7 283.9L343.1 283.9L342.5 283.8L341.9 283.8L341.3 283.8L340.7 283.8L340.1 283.8L339.5 283.8L338.9 283.8L338.3 283.7L337.7 283.7L337.1 283.7L336.5 283.7L335.9 283.7L335.3 283.7L334.7 283.7L334.1 283.6L333.5 283.6L332.9 283.6L332.3 283.6L331.7 283.6L331.1 283.6L330.5 283.6L329.9 283.5L329.3 283.5L328.7 283.5L328.1 283.5L327.5 283.5L326.9 283.5L326.3 283.5L325.7 283.4L325.1 283.4L324.5 283.4L323.9 283.4L323.3 283.4L322.7 283.4L322.1 283.4L321.5 283.3L320.9 283.3L320.3 283.3L319.7 283.3L319.1 283.2L318.5 283.2L317.9 283.2L317.3 283.1L316.7 283.1L316.1 283.0L315.5 283.0L314.9 283.0L314.3 282.9L313.7 282.9L313.1 282.9L312.5 282.8L311.9 282.8L311.3 282.7L310.7 282.7L310.1 282.7L309.5 282.6L308.9 282.6L308.3 282.5L307.7 282.5L307.1 282.5L306.5 282.4L305.9 282.4L305.3 282.3L304.7 282.3L304.1 282.3L303.5 282.2L302.9 282.2L302.3 282.1L301.7 282.1L301.1 282.1L300.5 282.0L299.9 282.0L299.3 282.0L298.7 282.0L298.1 282.0L297.5 282.0L296.9 281.9L296.3 281.9L295.7 281.9L295.1 281.9L294.5 281.9L293.9 281.9L293.3 281.9L292.7 281.9L292.1 281.8L291.5 281.8L290.9 281.8L290.3 281.8L289.7 281.8L289.1 281.8L288.5 281.8L287.9 281.8L287.3 281.7L286.7 281.7L286.1 281.7L285.5 281.7L284.9 281.7L284.3 281.7L283.7 281.7L283.1 281.7L282.5 281.6L281.9 281.6L281.3 281.6L280.7 281.6L280.1 281.6L279.5 281.6L278.9 281.6L278.3 281.6L277.7 281.6L277.1 281.5L276.5 281.5L275.9 281.5L275.3 281.5L274.7 281.5L274.1 281.5L273.5 281.5L272.9 281.5L272.3 281.4L271.7 281.4L271.1 281.4L270.5 281.4L269.9 281.4L269.3 281.4L268.7 281.4L268.1 281.4L267.5 281.3L266.9 281.3L266.3 281.3L265.7 281.3L265.1 281.3L264.5 281.3L263.9 281.3L263.3 281.3L262.7 281.3L262.1 281.2L261.5 281.2L260.9 281.2L260.3 281.2L259.7 281.2L259.1 281.2L258.5 281.2L257.9 281.2L257.3 281.2L256.7 281.2L256.1 281.2L255.5 281.2L254.9 281.2L254.3 281.2L253.7 281.2L253.1 281.2L252.5 281.2L251.9 281.2L251.3 281.2L250.7 281.2L250.1 281.2L249.5 281.2L248.9 281.2L248.3 281.2L247.7 281.2L247.1 281.2L246.5 281.2L245.9 281.2L245.3 281.2L244.7 281.2L244.1 281.2L243.5 281.2L242.9 281.2L242.3 281.2L241.7 281.2L241.1 281.2L240.5 281.2L239.9 281.2L239.3 281.2L238.7 281.2L238.1 281.2L237.5 281.2L236.9 281.2L236.3 281.2L235.7 281.2L235.1 281.2L234.5 281.2L233.9 281.2L233.3 281.2L232.7 281.2L232.1 281.2L231.5 281.1L230.9 281.1L230.3 281.1L229.7 281.1L229.1 281.1L228.5 281.1L227.9 281.1L227.3 281.1L226.7 281.1L226.1 281.1L225.5 281.1L224.9 281.1L224.3 281.1L223.7 281.1L223.1 281.1L222.5 281.1L221.9 281.1L221.3 281.1L220.7 281.1L220.1 281.1L219.5 281.1L218.9 281.1L218.3 281.1L217.7 281.1L217.1 281.1L216.5 281.1L215.9 281.1L215.3 281.1L214.7 281.1L214.1 281.1L213.5 281.1L212.9 281.1L212.3 281.1L211.7 281.1L211.1 281.1L210.5 281.1L209.9 281.1L209.3 281.1L208.7 281.1L208.1 281.1L207.5 281.1L206.9 281.1L206.3 281.1L205.7 281.1L205.1 281.1L204.5 281.1L203.9 281.1Z" fill="url(#ge2)" stroke="none"/>
<path d="M203.9 281.5L204.5 281.4L205.1 281.1L205.7 281.3L206.3 281.0L206.9 281.5L207.5 281.3L208.1 281.3L208.7 281.1L209.3 281.7L209.9 280.7L210.5 281.0L211.1 281.3L211.7 281.3L212.3 281.4L212.9 281.1L213.5 280.6L214.1 280.7L214.7 280.8L215.3 280.9L215.9 281.4L216.5 280.9L217.1 281.2L217.7 281.7L218.3 281.2L218.9 281.8L219.5 281.4L220.1 281.4L220.7 281.0L221.3 280.8L221.9 280.8L222.5 281.3L223.1 281.2L223.7 281.7L224.3 281.4L224.9 282.3L225.5 281.4L226.1 281.0L226.7 281.4L227.3 281.1L227.9 280.9L228.5 280.9L229.1 281.4L229.7 281.2L230.3 281.0L230.9 281.8L231.5 281.3L232.1 281.2L232.7 281.3L233.3 281.0L233.9 281.4L234.5 281.0L235.1 280.8L235.7 281.0L236.3 280.6L236.9 281.1L237.5 281.5L238.1 281.1L238.7 281.5L239.3 281.0L239.9 280.9L240.5 281.2L241.1 281.3L241.7 281.6L242.3 280.8L242.9 281.3L243.5 281.2L244.1 281.5L244.7 281.2L245.3 281.3L245.9 281.1L246.5 281.0L247.1 280.8L247.7 281.7L248.3 281.5L248.9 281.3L249.5 281.7L250.1 280.9L250.7 281.5L251.3 281.0L251.9 280.4L252.5 281.5L253.1 281.2L253.7 281.0L254.3 281.2L254.9 282.0L255.5 280.4L256.1 280.3L256.7 281.0L257.3 280.7L257.9 281.6L258.5 280.5L259.1 280.9L259.7 279.8L260.3 279.6L260.9 278.9L261.5 279.2L262.1 279.2L262.7 278.5L263.3 277.5L263.9 277.6L264.5 276.6L265.1 275.9L265.7 275.5L266.3 274.1L266.9 272.7L267.5 272.1L268.1 269.8L268.7 269.4L269.3 268.2L269.9 265.7L270.5 264.5L271.1 262.8L271.7 260.4L272.3 258.3L272.9 257.1L273.5 254.9L274.1 252.5L274.7 251.2L275.3 249.1L275.9 246.8L276.5 245.5L277.1 243.1L277.7 241.5L278.3 239.8L278.9 238.7L279.5 237.6L280.1 236.2L280.7 235.0L281.3 234.0L281.9 233.9L282.5 233.8L283.1 233.1L283.7 233.4L284.3 233.1L284.9 232.5L285.5 233.5L286.1 233.3L286.7 234.2L287.3 234.6L287.9 235.2L288.5 236.2L289.1 236.2L289.7 237.4L290.3 237.9L290.9 239.1L291.5 239.4L292.1 240.3L292.7 241.5L293.3 242.2L293.9 243.5L294.5 243.8L295.1 244.1L295.7 246.2L296.3 246.5L296.9 246.5L297.5 248.2L298.1 249.7L298.7 249.8L299.3 251.2L299.9 252.0L300.5 252.8L301.1 254.1L301.7 255.3L302.3 255.9L302.9 257.6L303.5 258.2L304.1 259.6L304.7 260.6L305.3 261.3L305.9 263.6L306.5 264.5L307.1 265.3L307.7 266.7L308.3 268.0L308.9 268.7L309.5 269.9L310.1 270.6L310.7 272.0L311.3 273.3L311.9 273.7L312.5 274.6L313.1 275.6L313.7 276.3L314.3 276.9L314.9 277.5L315.5 278.1L316.1 278.9L316.7 279.4L317.3 280.1L317.9 280.2L318.5 280.9L319.1 280.8L319.7 281.3L320.3 281.5L320.9 282.6L321.5 281.7L322.1 282.0L322.7 282.1L323.3 282.8L323.9 282.6L324.5 283.2L325.1 282.4L325.7 282.3L326.3 283.2L326.9 283.4L327.5 283.2L328.1 283.3L328.7 283.5L329.3 283.5L329.9 283.2L330.5 283.2L331.1 283.7L331.7 283.3L332.3 283.3L332.9 283.8L333.5 283.6L334.1 283.8L334.7 284.0L335.3 284.0L335.9 283.6L336.5 282.9L337.1 283.1L337.7 284.1L338.3 284.6L338.9 283.6L339.5 283.9L340.1 283.5L340.7 283.8L341.3 283.8L341.9 283.9L342.5 283.3L343.1 284.1L343.7 283.9L344.3 283.5L344.9 284.1L345.5 284.0L346.1 283.9L346.7 284.1L347.3 284.3L347.9 283.9L348.5 284.0L349.1 283.6L349.7 284.1L350.3 283.9L350.9 284.7L351.5 283.6L352.1 284.1L352.7 283.9L353.3 283.9L353.9 284.4L354.5 284.3L355.1 283.9L355.7 284.0L356.3 284.1L356.9 284.7L357.5 284.6L358.1 284.3L358.7 283.6L359.3 284.0L359.9 284.3L360.5 284.1L361.1 284.2L361.7 283.9L362.3 284.9L362.9 285.0L363.5 284.4L364.1 284.5L364.7 284.6L365.3 284.5L365.7 284.3" fill="none" stroke="#7765bb" stroke-width="0.8" stroke-linejoin="round"/>
<path d="M252.5 281.1L253.1 281.1L253.7 281.1L254.3 281.0L254.9 281.0L255.5 281.0L256.1 280.9L256.7 280.8L257.3 280.7L257.9 280.6L258.5 280.5L259.1 280.3L259.7 280.1L260.3 279.9L260.9 279.6L261.5 279.3L262.1 278.9L262.7 278.5L263.3 278.0L263.9 277.4L264.5 276.8L265.1 276.1L265.7 275.3L266.3 274.3L266.9 273.3L267.5 272.3L268.1 271.1L268.7 269.8L269.3 268.4L269.9 266.9L270.5 265.4L271.1 263.8L271.7 262.2L272.3 260.5L272.9 258.7L273.5 257.0L274.1 255.3L274.7 253.7L275.3 252.1L275.9 250.5L276.5 249.1L277.1 247.8L277.7 246.7L278.3 245.7L278.9 244.9L279.5 244.3L280.1 243.8L280.7 243.6L281.3 243.7L281.9 243.9L282.5 244.3L283.1 245.0L283.7 245.8L284.3 246.8L284.9 248.0L285.5 249.3L286.1 250.7L286.7 252.3L287.3 253.9L287.9 255.6L288.5 257.3L289.1 259.1L289.7 260.8L290.3 262.5L290.9 264.2L291.5 265.8L292.1 267.4L292.7 268.9L293.3 270.3L293.9 271.6L294.5 272.8L295.1 273.9L295.7 274.9L296.3 275.9L296.9 276.7L297.5 277.5L298.1 278.1L298.7 278.7L299.3 279.2L299.9 279.7L300.5 280.1L301.1 280.5L301.7 280.8L302.3 281.1L302.9 281.3L303.5 281.5L304.1 281.7L304.7 281.8L305.3 282.0L305.9 282.1L306.5 282.2L307.1 282.3L307.7 282.4L308.3 282.4L308.9 282.5L309.5 282.6" fill="none" stroke="#7765bb" stroke-width="0.8" stroke-linejoin="round"/>
<path d="M260.9 281.2L261.5 281.2L262.1 281.2L262.7 281.2L263.3 281.1L263.9 281.1L264.5 281.1L265.1 281.1L265.7 281.1L266.3 281.0L266.9 281.0L267.5 280.9L268.1 280.8L268.7 280.8L269.3 280.7L269.9 280.6L270.5 280.4L271.1 280.3L271.7 280.1L272.3 279.9L272.9 279.7L273.5 279.4L274.1 279.1L274.7 278.8L275.3 278.4L275.9 278.0L276.5 277.6L277.1 277.1L277.7 276.6L278.3 276.0L278.9 275.3L279.5 274.7L280.1 274.0L280.7 273.2L281.3 272.4L281.9 271.5L282.5 270.6L283.1 269.7L283.7 268.7L284.3 267.7L284.9 266.7L285.5 265.6L286.1 264.6L286.7 263.5L287.3 262.5L287.9 261.4L288.5 260.4L289.1 259.4L289.7 258.4L290.3 257.5L290.9 256.6L291.5 255.8L292.1 255.1L292.7 254.4L293.3 253.8L293.9 253.4L294.5 253.0L295.1 252.7L295.7 252.5L296.3 252.4L296.9 252.5L297.5 252.6L298.1 252.8L298.7 253.2L299.3 253.6L299.9 254.2L300.5 254.8L301.1 255.5L301.7 256.4L302.3 257.2L302.9 258.2L303.5 259.2L304.1 260.2L304.7 261.3L305.3 262.3L305.9 263.5L306.5 264.6L307.1 265.7L307.7 266.8L308.3 267.9L308.9 268.9L309.5 270.0L310.1 271.0L310.7 272.0L311.3 272.9L311.9 273.8L312.5 274.7L313.1 275.5L313.7 276.2L314.3 276.9L314.9 277.6L315.5 278.2L316.1 278.8L316.7 279.3L317.3 279.8L317.9 280.2L318.5 280.6L319.1 281.0L319.7 281.3L320.3 281.6L320.9 281.8L321.5 282.1L322.1 282.3L322.7 282.4L323.3 282.6L323.9 282.7L324.5 282.8L325.1 282.9L325.7 283.0L326.3 283.1L326.9 283.2L327.5 283.2L328.1 283.3L328.7 283.3L329.3 283.4L329.9 283.4L330.5 283.5L331.1 283.5L331.7 283.5" fill="none" stroke="#7765bb" stroke-width="0.8" stroke-linejoin="round"/>
<path d="M203.9 281.1L204.5 281.1L205.1 281.1L205.7 281.1L206.3 281.1L206.9 281.1L207.5 281.1L208.1 281.1L208.7 281.1L209.3 281.1L209.9 281.1L210.5 281.1L211.1 281.1L211.7 281.1L212.3 281.1L212.9 281.1L213.5 281.1L214.1 281.1L214.7 281.1L215.3 281.1L215.9 281.1L216.5 281.1L217.1 281.1L217.7 281.1L218.3 281.1L218.9 281.1L219.5 281.1L220.1 281.1L220.7 281.1L221.3 281.1L221.9 281.1L222.5 281.1L223.1 281.1L223.7 281.1L224.3 281.1L224.9 281.1L225.5 281.1L226.1 281.1L226.7 281.1L227.3 281.1L227.9 281.1L228.5 281.1L229.1 281.1L229.7 281.1L230.3 281.1L230.9 281.1L231.5 281.1L232.1 281.2L232.7 281.2L233.3 281.2L233.9 281.2L234.5 281.2L235.1 281.2L235.7 281.2L236.3 281.2L236.9 281.2L237.5 281.2L238.1 281.2L238.7 281.2L239.3 281.2L239.9 281.2L240.5 281.2L241.1 281.2L241.7 281.2L242.3 281.2L242.9 281.2L243.5 281.2L244.1 281.2L244.7 281.2L245.3 281.2L245.9 281.2L246.5 281.2L247.1 281.2L247.7 281.2L248.3 281.2L248.9 281.2L249.5 281.2L250.1 281.2L250.7 281.2L251.3 281.2L251.9 281.2L252.5 281.2L253.1 281.2L253.7 281.2L254.3 281.2L254.9 281.2L255.5 281.2L256.1 281.2L256.7 281.2L257.3 281.2L257.9 281.2L258.5 281.2L259.1 281.2L259.7 281.2L260.3 281.2L260.9 281.2L261.5 281.2L262.1 281.2L262.7 281.3L263.3 281.3L263.9 281.3L264.5 281.3L265.1 281.3L265.7 281.3L266.3 281.3L266.9 281.3L267.5 281.3L268.1 281.4L268.7 281.4L269.3 281.4L269.9 281.4L270.5 281.4L271.1 281.4L271.7 281.4L272.3 281.4L272.9 281.5L273.5 281.5L274.1 281.5L274.7 281.5L275.3 281.5L275.9 281.5L276.5 281.5L277.1 281.5L277.7 281.6L278.3 281.6L278.9 281.6L279.5 281.6L280.1 281.6L280.7 281.6L281.3 281.6L281.9 281.6L282.5 281.6L283.1 281.7L283.7 281.7L284.3 281.7L284.9 281.7L285.5 281.7L286.1 281.7L286.7 281.7L287.3 281.7L287.9 281.8L288.5 281.8L289.1 281.8L289.7 281.8L290.3 281.8L290.9 281.8L291.5 281.8L292.1 281.8L292.7 281.9L293.3 281.9L293.9 281.9L294.5 281.9L295.1 281.9L295.7 281.9L296.3 281.9L296.9 281.9L297.5 282.0L298.1 282.0L298.7 282.0L299.3 282.0L299.9 282.0L300.5 282.0L301.1 282.1L301.7 282.1L302.3 282.1L302.9 282.2L303.5 282.2L304.1 282.3L304.7 282.3L305.3 282.3L305.9 282.4L306.5 282.4L307.1 282.5L307.7 282.5L308.3 282.5L308.9 282.6L309.5 282.6L310.1 282.7L310.7 282.7L311.3 282.7L311.9 282.8L312.5 282.8L313.1 282.9L313.7 282.9L314.3 282.9L314.9 283.0L315.5 283.0L316.1 283.0L316.7 283.1L317.3 283.1L317.9 283.2L318.5 283.2L319.1 283.2L319.7 283.3L320.3 283.3L320.9 283.3L321.5 283.3L322.1 283.4L322.7 283.4L323.3 283.4L323.9 283.4L324.5 283.4L325.1 283.4L325.7 283.4L326.3 283.5L326.9 283.5L327.5 283.5L328.1 283.5L328.7 283.5L329.3 283.5L329.9 283.5L330.5 283.6L331.1 283.6L331.7 283.6L332.3 283.6L332.9 283.6L333.5 283.6L334.1 283.6L334.7 283.7L335.3 283.7L335.9 283.7L336.5 283.7L337.1 283.7L337.7 283.7L338.3 283.7L338.9 283.8L339.5 283.8L340.1 283.8L340.7 283.8L341.3 283.8L341.9 283.8L342.5 283.8L343.1 283.9L343.7 283.9L344.3 283.9L344.9 283.9L345.5 283.9L346.1 283.9L346.7 283.9L347.3 284.0L347.9 284.0L348.5 284.0L349.1 284.0L349.7 284.0L350.3 284.0L350.9 284.0L351.5 284.1L352.1 284.1L352.7 284.1L353.3 284.1L353.9 284.1L354.5 284.1L355.1 284.1L355.7 284.2L356.3 284.2L356.9 284.2L357.5 284.2L358.1 284.2L358.7 284.2L359.3 284.2L359.9 284.3L360.5 284.3L361.1 284.3L361.7 284.3L362.3 284.3L362.9 284.3L363.5 284.3L364.1 284.4L364.7 284.4L365.3 284.4L365.7 284.4" fill="none" stroke="#7765bb" stroke-width="0.8"/>
<path d="M203.9 281.1L204.5 281.1L205.1 281.1L205.7 281.1L206.3 281.1L206.9 281.1L207.5 281.1L208.1 281.1L208.7 281.1L209.3 281.1L209.9 281.1L210.5 281.1L211.1 281.1L211.7 281.1L212.3 281.1L212.9 281.1L213.5 281.1L214.1 281.1L214.7 281.1L215.3 281.1L215.9 281.1L216.5 281.1L217.1 281.1L217.7 281.1L218.3 281.1L218.9 281.1L219.5 281.1L220.1 281.1L220.7 281.1L221.3 281.1L221.9 281.1L222.5 281.1L223.1 281.1L223.7 281.1L224.3 281.1L224.9 281.1L225.5 281.1L226.1 281.1L226.7 281.1L227.3 281.1L227.9 281.1L228.5 281.1L229.1 281.1L229.7 281.1L230.3 281.1L230.9 281.1L231.5 281.1L232.1 281.2L232.7 281.2L233.3 281.2L233.9 281.2L234.5 281.2L235.1 281.2L235.7 281.2L236.3 281.2L236.9 281.2L237.5 281.2L238.1 281.2L238.7 281.2L239.3 281.2L239.9 281.2L240.5 281.2L241.1 281.2L241.7 281.2L242.3 281.2L242.9 281.2L243.5 281.2L244.1 281.2L244.7 281.2L245.3 281.2L245.9 281.2L246.5 281.2L247.1 281.2L247.7 281.2L248.3 281.2L248.9 281.2L249.5 281.2L250.1 281.2L250.7 281.2L251.3 281.1L251.9 281.1L252.5 281.1L253.1 281.1L253.7 281.1L254.3 281.0L254.9 281.0L255.5 281.0L256.1 280.9L256.7 280.8L257.3 280.7L257.9 280.6L258.5 280.5L259.1 280.3L259.7 280.1L260.3 279.8L260.9 279.6L261.5 279.2L262.1 278.9L262.7 278.4L263.3 277.9L263.9 277.3L264.5 276.6L265.1 275.9L265.7 275.0L266.3 274.0L266.9 273.0L267.5 271.8L268.1 270.5L268.7 269.2L269.3 267.7L269.9 266.1L270.5 264.4L271.1 262.7L271.7 260.8L272.3 258.9L272.9 256.9L273.5 255.0L274.1 252.9L274.7 250.9L275.3 249.0L275.9 247.0L276.5 245.2L277.1 243.4L277.7 241.7L278.3 240.1L278.9 238.6L279.5 237.3L280.1 236.2L280.7 235.2L281.3 234.4L281.9 233.8L282.5 233.3L283.1 233.0L283.7 232.8L284.3 232.8L284.9 233.0L285.5 233.2L286.1 233.6L286.7 234.1L287.3 234.6L287.9 235.3L288.5 235.9L289.1 236.7L289.7 237.4L290.3 238.2L290.9 239.0L291.5 239.8L292.1 240.6L292.7 241.4L293.3 242.2L293.9 243.1L294.5 243.9L295.1 244.7L295.7 245.5L296.3 246.4L296.9 247.2L297.5 248.1L298.1 249.0L298.7 249.9L299.3 250.9L299.9 251.9L300.5 252.9L301.1 253.9L301.7 255.0L302.3 256.2L302.9 257.3L303.5 258.4L304.1 259.6L304.7 260.8L305.3 262.0L305.9 263.2L306.5 264.3L307.1 265.5L307.7 266.6L308.3 267.8L308.9 268.9L309.5 269.9L310.1 271.0L310.7 271.9L311.3 272.9L311.9 273.8L312.5 274.6L313.1 275.4L313.7 276.2L314.3 276.9L314.9 277.6L315.5 278.2L316.1 278.8L316.7 279.3L317.3 279.8L317.9 280.2L318.5 280.6L319.1 281.0L319.7 281.3L320.3 281.6L320.9 281.8L321.5 282.1L322.1 282.3L322.7 282.4L323.3 282.6L323.9 282.7L324.5 282.8L325.1 282.9L325.7 283.0L326.3 283.1L326.9 283.2L327.5 283.2L328.1 283.3L328.7 283.3L329.3 283.4L329.9 283.4L330.5 283.5L331.1 283.5L331.7 283.5L332.3 283.5L332.9 283.6L333.5 283.6L334.1 283.6L334.7 283.6L335.3 283.6L335.9 283.7L336.5 283.7L337.1 283.7L337.7 283.7L338.3 283.7L338.9 283.7L339.5 283.8L340.1 283.8L340.7 283.8L341.3 283.8L341.9 283.8L342.5 283.8L343.1 283.8L343.7 283.9L344.3 283.9L344.9 283.9L345.5 283.9L346.1 283.9L346.7 283.9L347.3 283.9L347.9 284.0L348.5 284.0L349.1 284.0L349.7 284.0L350.3 284.0L350.9 284.0L351.5 284.0L352.1 284.1L352.7 284.1L353.3 284.1L353.9 284.1L354.5 284.1L355.1 284.1L355.7 284.1L356.3 284.2L356.9 284.2L357.5 284.2L358.1 284.2L358.7 284.2L359.3 284.2L359.9 284.2L360.5 284.3L361.1 284.3L361.7 284.3L362.3 284.3L362.9 284.3L363.5 284.3L364.1 284.3L364.7 284.4L365.3 284.4L365.7 284.4" fill="none" stroke="#7765bb" stroke-width="1.2" stroke-linejoin="round"/>
<rect x="203.30" y="163.40" width="163.10" height="126.10" fill="none" stroke="#4a4a4a" stroke-width="1.0"/>
<path d="M203.4 225.6H366.3" stroke="#333" stroke-width="1.1" stroke-dasharray="3 3.4"/>
<path d="M343.44 289.50v2.0M308.43 289.50v2.0M273.42 289.50v2.0M238.41 289.50v2.0M203.40 289.50v2.0M360.94 289.50v1.3M325.94 289.50v1.3M290.93 289.50v1.3M255.92 289.50v1.3M220.91 289.50v1.3" stroke="#3a3a3a" stroke-width="0.9" fill="none"/>
<text x="197.92" y="297.82" font-family="Liberation Sans" font-weight="bold" font-size="6.60" fill="#222">540</text>
<text x="232.97" y="297.82" font-family="Liberation Sans" font-weight="bold" font-size="6.60" fill="#222">537</text>
<text x="267.84" y="297.82" font-family="Liberation Sans" font-weight="bold" font-size="6.60" fill="#222">534</text>
<text x="302.92" y="297.82" font-family="Liberation Sans" font-weight="bold" font-size="6.60" fill="#222">531</text>
<text x="337.93" y="297.82" font-family="Liberation Sans" font-weight="bold" font-size="6.60" fill="#222">528</text>
<text x="205.00" y="169.27" font-family="Liberation Sans" font-weight="bold" font-size="4.90" fill="#111">O 1s</text>
<text x="205.00" y="231.37" font-family="Liberation Sans" font-weight="bold" font-size="4.90" fill="#111">O 1s</text>
<text x="332.55" y="171.40" font-family="Liberation Sans" font-weight="bold" font-size="5.06" fill="#111">Tb-Eu-TCPP</text>
<text x="342.35" y="234.69" font-family="Liberation Sans" font-weight="bold" font-size="4.97" fill="#111">H<tspan font-size="2.98" dy="1.24">2</tspan><tspan dy="-1.24">TCPP</tspan></text>
<text x="252.45" y="183.12" font-family="Liberation Sans" font-weight="bold" font-size="5.41" fill="#111">Tb-O 532.1 eV</text>
<text x="311.62" y="190.04" font-family="Liberation Sans" font-weight="bold" font-size="5.39" fill="#111">Eu-O 531.6 eV</text>
<text x="234.89" y="204.18" font-family="Liberation Sans" font-weight="bold" font-size="5.23" fill="#111">C-OH 533.6 eV</text>
<text x="238.60" y="238.92" font-family="Liberation Sans" font-weight="bold" font-size="5.05" fill="#111">C-OH 533.4 eV</text>
<text x="302.49" y="247.97" font-family="Liberation Sans" font-weight="bold" font-size="5.21" fill="#111">C=O 532.1 eV</text>
<text x="243.90" y="310.13" font-family="Liberation Sans" font-weight="bold" font-size="8.57" fill="#111">Binding Energy (eV)</text>
<text transform="translate(197.98,252.71) rotate(-90)" font-family="Liberation Sans" font-weight="bold" font-size="8.78" fill="#111">Intensity (a.u.)</text>
<text x="184.62" y="173.00" font-family="Liberation Serif" font-weight="bold" font-size="14.50" fill="#000">(e)</text>
<path d="M386.5 212.6L387.1 212.6L387.7 212.6L388.3 212.6L388.9 212.7L389.5 212.7L390.1 212.7L390.7 212.7L391.3 212.8L391.9 212.8L392.5 212.8L393.1 212.8L393.7 212.8L394.3 212.9L394.9 212.9L395.5 212.9L396.1 212.9L396.7 213.0L397.3 213.0L397.9 213.0L398.5 213.0L399.1 213.0L399.7 213.1L400.3 213.1L400.9 213.1L401.5 213.1L402.1 213.2L402.7 213.2L403.3 213.2L403.9 213.2L404.5 213.3L405.1 213.3L405.7 213.3L406.3 213.3L406.9 213.3L407.5 213.4L408.1 213.4L408.7 213.4L409.3 213.4L409.9 213.5L410.5 213.5L411.1 213.5L411.7 213.5L412.3 213.5L412.9 213.6L413.5 213.6L414.1 213.6L414.7 213.6L415.3 213.6L415.9 213.7L416.5 213.7L417.1 213.7L417.7 213.7L418.3 213.8L418.9 213.8L419.5 213.8L420.1 213.8L420.7 213.8L421.3 213.9L421.9 213.9L422.5 213.9L423.1 213.9L423.7 213.9L424.3 214.0L424.9 214.0L425.5 214.0L426.1 214.0L426.7 214.0L427.3 214.1L427.9 214.1L428.5 214.1L429.1 214.1L429.7 214.1L430.3 214.2L430.9 214.2L431.5 214.2L432.1 214.2L432.7 214.2L433.3 214.3L433.9 214.3L434.5 214.3L435.1 214.3L435.7 214.3L436.3 214.3L436.9 214.4L437.5 214.4L438.1 214.4L438.7 214.4L439.3 214.4L439.9 214.4L440.5 214.4L441.1 214.4L441.7 214.4L442.3 214.4L442.9 214.4L443.5 214.4L444.1 214.4L444.7 214.4L445.3 214.4L445.9 214.4L446.5 214.4L447.1 214.3L447.7 214.3L448.3 214.3L448.9 214.2L449.5 214.2L450.1 214.1L450.7 214.0L451.3 214.0L451.9 213.9L452.5 213.8L453.1 213.7L453.7 213.6L454.3 213.4L454.9 213.3L455.5 213.2L456.1 213.0L456.7 212.9L457.3 212.7L457.9 212.6L458.5 212.4L459.1 212.2L459.7 212.0L460.3 211.8L460.9 211.5L461.5 211.3L462.1 211.1L462.7 210.8L463.3 210.5L463.9 210.2L464.5 209.9L465.1 209.5L465.7 209.1L466.3 208.6L466.9 208.1L467.5 207.5L468.1 206.7L468.7 205.8L469.3 204.8L469.9 203.6L470.5 202.2L471.1 200.5L471.7 198.7L472.3 196.6L472.9 194.3L473.5 191.9L474.1 189.2L474.7 186.5L475.3 183.7L475.9 180.9L476.5 178.3L477.1 175.9L477.7 173.9L478.3 172.4L478.9 171.4L479.5 171.2L480.1 171.6L480.7 172.8L481.3 174.6L481.9 176.8L482.5 179.5L483.1 182.5L483.7 185.6L484.3 188.8L484.9 191.9L485.5 194.9L486.1 197.7L486.7 200.3L487.3 202.7L487.9 204.8L488.5 206.6L489.1 208.2L489.7 209.5L490.3 210.6L490.9 211.4L491.5 212.0L492.1 212.3L492.7 212.5L493.3 212.5L493.9 212.2L494.5 211.8L495.1 211.3L495.7 210.6L496.3 209.8L496.9 208.9L497.5 208.0L498.1 207.1L498.7 206.3L499.3 205.7L499.9 205.2L500.5 204.9L501.1 204.8L501.7 205.0L502.3 205.4L502.9 206.0L503.5 206.9L504.1 207.8L504.7 208.9L505.3 210.0L505.9 211.2L506.5 212.3L507.1 213.3L507.7 214.3L508.3 215.1L508.9 215.8L509.5 216.5L510.1 217.0L510.7 217.4L511.3 217.7L511.9 218.0L512.5 218.2L513.1 218.4L513.7 218.5L514.3 218.6L514.9 218.7L515.5 218.8L516.1 218.8L516.7 218.9L517.3 218.9L517.9 219.0L518.5 219.0L519.1 219.1L519.7 219.1L520.3 219.2L520.9 219.2L521.5 219.2L522.1 219.3L522.7 219.3L523.3 219.4L523.9 219.4L524.5 219.4L525.1 219.5L525.7 219.5L526.3 219.6L526.9 219.6L527.5 219.6L528.1 219.7L528.7 219.7L529.3 219.8L529.9 219.8L530.5 219.8L531.1 219.9L531.7 219.9L532.3 220.0L532.9 220.0L533.5 220.0L534.1 220.1L534.7 220.1L535.3 220.1L535.9 220.2L536.5 220.2L537.1 220.3L537.7 220.3L538.3 220.3L538.9 220.4L539.5 220.4L540.1 220.4L540.7 220.5L541.3 220.5L541.9 220.6L542.5 220.6L543.1 220.6L543.7 220.7L544.3 220.7L544.9 220.7L545.5 220.8L545.5 220.9L544.9 220.8L544.3 220.8L543.7 220.8L543.1 220.7L542.5 220.7L541.9 220.7L541.3 220.6L540.7 220.6L540.1 220.6L539.5 220.5L538.9 220.5L538.3 220.5L537.7 220.4L537.1 220.4L536.5 220.3L535.9 220.3L535.3 220.3L534.7 220.2L534.1 220.2L533.5 220.2L532.9 220.1L532.3 220.1L531.7 220.1L531.1 220.0L530.5 220.0L529.9 220.0L529.3 219.9L528.7 219.9L528.1 219.9L527.5 219.8L526.9 219.8L526.3 219.8L525.7 219.7L525.1 219.7L524.5 219.6L523.9 219.6L523.3 219.6L522.7 219.5L522.1 219.5L521.5 219.5L520.9 219.4L520.3 219.4L519.7 219.4L519.1 219.3L518.5 219.3L517.9 219.3L517.3 219.2L516.7 219.2L516.1 219.2L515.5 219.1L514.9 219.1L514.3 219.1L513.7 219.0L513.1 219.0L512.5 218.9L511.9 218.9L511.3 218.9L510.7 218.8L510.1 218.8L509.5 218.8L508.9 218.7L508.3 218.7L507.7 218.7L507.1 218.6L506.5 218.6L505.9 218.5L505.3 218.5L504.7 218.5L504.1 218.4L503.5 218.4L502.9 218.3L502.3 218.3L501.7 218.3L501.1 218.2L500.5 218.2L499.9 218.2L499.3 218.1L498.7 218.1L498.1 218.0L497.5 218.0L496.9 218.0L496.3 217.9L495.7 217.9L495.1 217.9L494.5 217.8L493.9 217.8L493.3 217.7L492.7 217.7L492.1 217.7L491.5 217.6L490.9 217.6L490.3 217.5L489.7 217.5L489.1 217.5L488.5 217.4L487.9 217.4L487.3 217.4L486.7 217.3L486.1 217.3L485.5 217.2L484.9 217.2L484.3 217.2L483.7 217.1L483.1 217.1L482.5 217.1L481.9 217.0L481.3 217.0L480.7 216.9L480.1 216.9L479.5 216.9L478.9 216.8L478.3 216.8L477.7 216.7L477.1 216.7L476.5 216.7L475.9 216.6L475.3 216.6L474.7 216.6L474.1 216.5L473.5 216.5L472.9 216.4L472.3 216.4L471.7 216.4L471.1 216.3L470.5 216.3L469.9 216.2L469.3 216.2L468.7 216.2L468.1 216.1L467.5 216.1L466.9 216.1L466.3 216.0L465.7 216.0L465.1 215.9L464.5 215.9L463.9 215.9L463.3 215.8L462.7 215.8L462.1 215.8L461.5 215.7L460.9 215.7L460.3 215.6L459.7 215.6L459.1 215.6L458.5 215.5L457.9 215.5L457.3 215.4L456.7 215.4L456.1 215.4L455.5 215.3L454.9 215.3L454.3 215.3L453.7 215.2L453.1 215.2L452.5 215.2L451.9 215.2L451.3 215.2L450.7 215.1L450.1 215.1L449.5 215.1L448.9 215.1L448.3 215.0L447.7 215.0L447.1 215.0L446.5 215.0L445.9 214.9L445.3 214.9L444.7 214.9L444.1 214.9L443.5 214.9L442.9 214.8L442.3 214.8L441.7 214.8L441.1 214.8L440.5 214.7L439.9 214.7L439.3 214.7L438.7 214.7L438.1 214.6L437.5 214.6L436.9 214.6L436.3 214.6L435.7 214.5L435.1 214.5L434.5 214.5L433.9 214.5L433.3 214.5L432.7 214.4L432.1 214.4L431.5 214.4L430.9 214.4L430.3 214.3L429.7 214.3L429.1 214.3L428.5 214.3L427.9 214.2L427.3 214.2L426.7 214.2L426.1 214.2L425.5 214.1L424.9 214.1L424.3 214.1L423.7 214.1L423.1 214.1L422.5 214.0L421.9 214.0L421.3 214.0L420.7 214.0L420.1 213.9L419.5 213.9L418.9 213.9L418.3 213.9L417.7 213.8L417.1 213.8L416.5 213.8L415.9 213.8L415.3 213.7L414.7 213.7L414.1 213.7L413.5 213.7L412.9 213.7L412.3 213.6L411.7 213.6L411.1 213.6L410.5 213.6L409.9 213.5L409.3 213.5L408.7 213.5L408.1 213.5L407.5 213.4L406.9 213.4L406.3 213.4L405.7 213.4L405.1 213.3L404.5 213.3L403.9 213.3L403.3 213.3L402.7 213.3L402.1 213.2L401.5 213.2L400.9 213.2L400.3 213.2L399.7 213.1L399.1 213.1L398.5 213.1L397.9 213.1L397.3 213.0L396.7 213.0L396.1 213.0L395.5 213.0L394.9 212.9L394.3 212.9L393.7 212.9L393.1 212.9L392.5 212.9L391.9 212.8L391.3 212.8L390.7 212.8L390.1 212.8L389.5 212.7L388.9 212.7L388.3 212.7L387.7 212.7L387.1 212.6L386.5 212.6Z" fill="url(#gf1)" stroke="none"/>
<path d="M386.5 212.6L387.1 212.6L387.7 212.7L388.3 212.6L388.9 213.4L389.5 211.7L390.1 212.6L390.7 212.5L391.3 213.1L391.9 212.3L392.5 213.1L393.1 212.7L393.7 212.7L394.3 212.9L394.9 212.3L395.5 212.6L396.1 213.6L396.7 212.2L397.3 213.1L397.9 213.0L398.5 212.9L399.1 212.6L399.7 213.2L400.3 213.0L400.9 212.6L401.5 213.3L402.1 213.0L402.7 213.2L403.3 213.2L403.9 213.5L404.5 213.5L405.1 213.1L405.7 213.7L406.3 213.0L406.9 213.0L407.5 213.4L408.1 213.4L408.7 213.2L409.3 213.6L409.9 213.4L410.5 213.6L411.1 213.5L411.7 213.2L412.3 213.4L412.9 213.5L413.5 214.1L414.1 213.6L414.7 213.1L415.3 213.9L415.9 213.6L416.5 214.0L417.1 213.8L417.7 214.3L418.3 213.3L418.9 214.0L419.5 213.8L420.1 213.7L420.7 214.0L421.3 214.1L421.9 213.9L422.5 214.2L423.1 213.6L423.7 214.4L424.3 213.9L424.9 214.2L425.5 213.8L426.1 213.7L426.7 213.8L427.3 214.4L427.9 213.9L428.5 214.0L429.1 213.8L429.7 213.7L430.3 214.1L430.9 214.6L431.5 214.1L432.1 214.2L432.7 213.8L433.3 214.5L433.9 214.1L434.5 214.4L435.1 214.3L435.7 214.2L436.3 214.5L436.9 214.2L437.5 214.3L438.1 214.4L438.7 214.3L439.3 214.7L439.9 214.9L440.5 214.6L441.1 214.2L441.7 214.7L442.3 214.9L442.9 215.1L443.5 214.4L444.1 214.6L444.7 214.5L445.3 214.0L445.9 213.7L446.5 214.3L447.1 215.0L447.7 214.0L448.3 214.4L448.9 214.2L449.5 214.5L450.1 214.0L450.7 214.0L451.3 214.2L451.9 213.7L452.5 214.3L453.1 214.0L453.7 213.5L454.3 213.5L454.9 213.8L455.5 212.8L456.1 213.0L456.7 213.2L457.3 212.8L457.9 212.7L458.5 212.0L459.1 212.3L459.7 211.8L460.3 211.7L460.9 211.8L461.5 211.3L462.1 210.8L462.7 210.5L463.3 210.8L463.9 210.1L464.5 209.7L465.1 209.7L465.7 209.2L466.3 208.3L466.9 207.6L467.5 207.2L468.1 206.6L468.7 206.0L469.3 205.1L469.9 203.1L470.5 201.8L471.1 201.0L471.7 199.2L472.3 196.4L472.9 194.6L473.5 191.8L474.1 190.0L474.7 186.6L475.3 183.6L475.9 181.3L476.5 177.9L477.1 176.1L477.7 174.2L478.3 172.2L478.9 171.5L479.5 171.6L480.1 171.7L480.7 172.9L481.3 174.5L481.9 176.5L482.5 178.9L483.1 182.3L483.7 185.9L484.3 188.9L484.9 190.8L485.5 194.9L486.1 197.8L486.7 200.0L487.3 202.4L487.9 204.8L488.5 207.4L489.1 208.1L489.7 209.3L490.3 210.3L490.9 211.7L491.5 212.6L492.1 212.8L492.7 212.2L493.3 212.4L493.9 212.4L494.5 211.4L495.1 211.5L495.7 210.4L496.3 209.6L496.9 208.9L497.5 207.5L498.1 207.8L498.7 206.0L499.3 205.7L499.9 205.3L500.5 205.1L501.1 205.1L501.7 204.7L502.3 205.1L502.9 206.3L503.5 206.7L504.1 208.1L504.7 209.4L505.3 210.0L505.9 210.8L506.5 212.1L507.1 213.2L507.7 213.9L508.3 215.3L508.9 216.0L509.5 216.2L510.1 217.2L510.7 217.3L511.3 217.9L511.9 218.0L512.5 218.7L513.1 218.5L513.7 218.5L514.3 218.6L514.9 218.7L515.5 218.6L516.1 218.6L516.7 218.9L517.3 218.6L517.9 219.1L518.5 218.5L519.1 220.2L519.7 219.0L520.3 219.5L520.9 219.4L521.5 219.0L522.1 219.2L522.7 219.6L523.3 219.3L523.9 219.6L524.5 219.7L525.1 219.5L525.7 219.0L526.3 220.1L526.9 219.9L527.5 219.5L528.1 219.8L528.7 219.5L529.3 220.0L529.9 219.8L530.5 219.9L531.1 219.8L531.7 220.1L532.3 219.8L532.9 219.9L533.5 219.8L534.1 220.1L534.7 220.0L535.3 219.7L535.9 220.1L536.5 220.4L537.1 220.1L537.7 220.4L538.3 221.2L538.9 220.9L539.5 220.4L540.1 220.5L540.7 220.5L541.3 220.9L541.9 220.8L542.5 220.7L543.1 221.1L543.7 221.0L544.3 220.8L544.9 220.7L545.5 221.2" fill="none" stroke="#55a541" stroke-width="0.8" stroke-linejoin="round"/>
<path d="M389.5 212.7L390.1 212.7L390.7 212.7L391.3 212.8L391.9 212.8L392.5 212.8L393.1 212.8L393.7 212.8L394.3 212.9L394.9 212.9L395.5 212.9L396.1 212.9L396.7 213.0L397.3 213.0L397.9 213.0L398.5 213.0L399.1 213.0L399.7 213.1L400.3 213.1L400.9 213.1L401.5 213.1L402.1 213.2L402.7 213.2L403.3 213.2L403.9 213.2L404.5 213.3L405.1 213.3L405.7 213.3L406.3 213.3L406.9 213.3L407.5 213.4L408.1 213.4L408.7 213.4L409.3 213.4L409.9 213.5L410.5 213.5L411.1 213.5L411.7 213.5L412.3 213.5L412.9 213.6L413.5 213.6L414.1 213.6L414.7 213.6L415.3 213.6L415.9 213.7L416.5 213.7L417.1 213.7L417.7 213.7L418.3 213.8L418.9 213.8L419.5 213.8L420.1 213.8L420.7 213.8L421.3 213.9L421.9 213.9L422.5 213.9L423.1 213.9L423.7 213.9L424.3 214.0L424.9 214.0L425.5 214.0L426.1 214.0L426.7 214.0L427.3 214.1L427.9 214.1L428.5 214.1L429.1 214.1L429.7 214.1L430.3 214.2L430.9 214.2L431.5 214.2L432.1 214.2L432.7 214.2L433.3 214.3L433.9 214.3L434.5 214.3L435.1 214.3L435.7 214.3L436.3 214.4L436.9 214.4L437.5 214.4L438.1 214.4L438.7 214.4L439.3 214.4L439.9 214.5L440.5 214.5L441.1 214.5L441.7 214.5L442.3 214.5L442.9 214.5L443.5 214.5L444.1 214.6L444.7 214.6L445.3 214.6L445.9 214.6L446.5 214.6L447.1 214.6L447.7 214.6L448.3 214.6L448.9 214.6L449.5 214.6L450.1 214.7L450.7 214.7L451.3 214.7L451.9 214.7L452.5 214.7L453.1 214.7L453.7 214.7L454.3 214.7L454.9 214.7L455.5 214.7L456.1 214.7L456.7 214.7L457.3 214.7L457.9 214.7L458.5 214.7L459.1 214.6L459.7 214.6L460.3 214.6L460.9 214.6L461.5 214.5L462.1 214.5L462.7 214.4L463.3 214.3L463.9 214.2L464.5 214.1L465.1 213.9L465.7 213.7L466.3 213.3L466.9 213.0L467.5 212.5L468.1 211.8L468.7 211.1L469.3 210.1L469.9 209.0L470.5 207.6L471.1 206.0L471.7 204.2L472.3 202.1L472.9 199.8L473.5 197.3L474.1 194.6L474.7 191.8L475.3 188.9L475.9 186.0L476.5 183.3L477.1 180.8L477.7 178.6L478.3 176.9L478.9 175.8L479.5 175.4L480.1 175.6L480.7 176.6L481.3 178.2L481.9 180.3L482.5 182.8L483.1 185.5L483.7 188.5L484.3 191.4L484.9 194.4L485.5 197.2L486.1 199.8L486.7 202.3L487.3 204.5L487.9 206.5L488.5 208.2L489.1 209.8L489.7 211.0L490.3 212.1L490.9 213.0L491.5 213.8L492.1 214.4L492.7 214.9L493.3 215.3L493.9 215.6L494.5 215.9L495.1 216.2L495.7 216.4L496.3 216.5L496.9 216.7L497.5 216.8L498.1 216.9L498.7 217.0L499.3 217.1L499.9 217.2L500.5 217.3L501.1 217.4L501.7 217.5L502.3 217.6L502.9 217.6L503.5 217.7L504.1 217.8L504.7 217.8L505.3 217.9L505.9 218.0L506.5 218.0L507.1 218.1L507.7 218.2L508.3 218.2L508.9 218.3L509.5 218.3L510.1 218.4L510.7 218.4L511.3 218.5L511.9 218.5L512.5 218.6L513.1 218.6L513.7 218.7L514.3 218.7L514.9 218.8L515.5 218.8L516.1 218.9L516.7 218.9L517.3 218.9L517.9 219.0L518.5 219.0L519.1 219.1L519.7 219.1L520.3 219.2L520.9 219.2L521.5 219.2L522.1 219.3L522.7 219.3L523.3 219.4L523.9 219.4L524.5 219.4L525.1 219.5L525.7 219.5L526.3 219.6L526.9 219.6L527.5 219.6L528.1 219.7L528.7 219.7L529.3 219.8L529.9 219.8L530.5 219.8L531.1 219.9L531.7 219.9L532.3 220.0L532.9 220.0L533.5 220.0L534.1 220.1L534.7 220.1L535.3 220.1L535.9 220.2L536.5 220.2L537.1 220.3L537.7 220.3L538.3 220.3L538.9 220.4L539.5 220.4L540.1 220.4L540.7 220.5L541.3 220.5L541.9 220.6L542.5 220.6L543.1 220.6L543.7 220.7L544.3 220.7L544.9 220.7L545.5 220.8" fill="none" stroke="#55a541" stroke-width="0.8" stroke-linejoin="round"/>
<path d="M487.3 217.3L487.9 217.3L488.5 217.3L489.1 217.3L489.7 217.2L490.3 217.1L490.9 216.9L491.5 216.7L492.1 216.4L492.7 216.0L493.3 215.5L493.9 214.9L494.5 214.2L495.1 213.4L495.7 212.5L496.3 211.5L496.9 210.5L497.5 209.5L498.1 208.5L498.7 207.6L499.3 206.8L499.9 206.2L500.5 205.9L501.1 205.7L501.7 205.9L502.3 206.2L502.9 206.8L503.5 207.6L504.1 208.5L504.7 209.6L505.3 210.7L505.9 211.8L506.5 212.8L507.1 213.9L507.7 214.8L508.3 215.6L508.9 216.3L509.5 216.9L510.1 217.4L510.7 217.8L511.3 218.1L511.9 218.4L512.5 218.6L513.1 218.7L513.7 218.9L514.3 218.9L514.9 219.0" fill="none" stroke="#55a541" stroke-width="0.8" stroke-linejoin="round"/>
<path d="M441.1 214.7L441.7 214.7L442.3 214.7L442.9 214.7L443.5 214.7L444.1 214.7L444.7 214.7L445.3 214.7L445.9 214.7L446.5 214.7L447.1 214.7L447.7 214.7L448.3 214.7L448.9 214.6L449.5 214.6L450.1 214.6L450.7 214.5L451.3 214.5L451.9 214.4L452.5 214.3L453.1 214.2L453.7 214.2L454.3 214.1L454.9 213.9L455.5 213.8L456.1 213.7L456.7 213.6L457.3 213.5L457.9 213.4L458.5 213.2L459.1 213.1L459.7 212.9L460.3 212.8L460.9 212.6L461.5 212.5L462.1 212.3L462.7 212.2L463.3 212.0L463.9 211.9L464.5 211.7L465.1 211.6L465.7 211.4L466.3 211.3L466.9 211.2L467.5 211.1L468.1 211.0L468.7 211.0L469.3 210.9L469.9 210.9L470.5 210.8L471.1 210.8L471.7 210.9L472.3 210.9L472.9 211.0L473.5 211.0L474.1 211.1L474.7 211.2L475.3 211.4L475.9 211.5L476.5 211.7L477.1 211.9L477.7 212.0L478.3 212.2L478.9 212.4L479.5 212.7L480.1 212.9L480.7 213.1L481.3 213.3L481.9 213.6L482.5 213.8L483.1 214.0L483.7 214.3L484.3 214.5L484.9 214.7L485.5 215.0L486.1 215.2L486.7 215.4L487.3 215.6L487.9 215.8L488.5 215.9L489.1 216.1L489.7 216.3L490.3 216.4L490.9 216.6L491.5 216.7L492.1 216.9L492.7 217.0L493.3 217.1L493.9 217.2L494.5 217.3L495.1 217.4L495.7 217.5L496.3 217.6L496.9 217.7L497.5 217.8L498.1 217.8L498.7 217.9L499.3 218.0L499.9 218.0L500.5 218.1L501.1 218.1L501.7 218.2L502.3 218.2L502.9 218.3" fill="none" stroke="#55a541" stroke-width="0.8" stroke-linejoin="round"/>
<path d="M386.5 212.6L387.1 212.6L387.7 212.7L388.3 212.7L388.9 212.7L389.5 212.7L390.1 212.8L390.7 212.8L391.3 212.8L391.9 212.8L392.5 212.9L393.1 212.9L393.7 212.9L394.3 212.9L394.9 212.9L395.5 213.0L396.1 213.0L396.7 213.0L397.3 213.0L397.9 213.1L398.5 213.1L399.1 213.1L399.7 213.1L400.3 213.2L400.9 213.2L401.5 213.2L402.1 213.2L402.7 213.3L403.3 213.3L403.9 213.3L404.5 213.3L405.1 213.3L405.7 213.4L406.3 213.4L406.9 213.4L407.5 213.4L408.1 213.5L408.7 213.5L409.3 213.5L409.9 213.5L410.5 213.6L411.1 213.6L411.7 213.6L412.3 213.6L412.9 213.7L413.5 213.7L414.1 213.7L414.7 213.7L415.3 213.7L415.9 213.8L416.5 213.8L417.1 213.8L417.7 213.8L418.3 213.9L418.9 213.9L419.5 213.9L420.1 213.9L420.7 214.0L421.3 214.0L421.9 214.0L422.5 214.0L423.1 214.1L423.7 214.1L424.3 214.1L424.9 214.1L425.5 214.1L426.1 214.2L426.7 214.2L427.3 214.2L427.9 214.2L428.5 214.3L429.1 214.3L429.7 214.3L430.3 214.3L430.9 214.4L431.5 214.4L432.1 214.4L432.7 214.4L433.3 214.5L433.9 214.5L434.5 214.5L435.1 214.5L435.7 214.5L436.3 214.6L436.9 214.6L437.5 214.6L438.1 214.6L438.7 214.7L439.3 214.7L439.9 214.7L440.5 214.7L441.1 214.8L441.7 214.8L442.3 214.8L442.9 214.8L443.5 214.9L444.1 214.9L444.7 214.9L445.3 214.9L445.9 214.9L446.5 215.0L447.1 215.0L447.7 215.0L448.3 215.0L448.9 215.1L449.5 215.1L450.1 215.1L450.7 215.1L451.3 215.2L451.9 215.2L452.5 215.2L453.1 215.2L453.7 215.2L454.3 215.3L454.9 215.3L455.5 215.3L456.1 215.4L456.7 215.4L457.3 215.4L457.9 215.5L458.5 215.5L459.1 215.6L459.7 215.6L460.3 215.6L460.9 215.7L461.5 215.7L462.1 215.8L462.7 215.8L463.3 215.8L463.9 215.9L464.5 215.9L465.1 215.9L465.7 216.0L466.3 216.0L466.9 216.1L467.5 216.1L468.1 216.1L468.7 216.2L469.3 216.2L469.9 216.2L470.5 216.3L471.1 216.3L471.7 216.4L472.3 216.4L472.9 216.4L473.5 216.5L474.1 216.5L474.7 216.6L475.3 216.6L475.9 216.6L476.5 216.7L477.1 216.7L477.7 216.7L478.3 216.8L478.9 216.8L479.5 216.9L480.1 216.9L480.7 216.9L481.3 217.0L481.9 217.0L482.5 217.1L483.1 217.1L483.7 217.1L484.3 217.2L484.9 217.2L485.5 217.2L486.1 217.3L486.7 217.3L487.3 217.4L487.9 217.4L488.5 217.4L489.1 217.5L489.7 217.5L490.3 217.5L490.9 217.6L491.5 217.6L492.1 217.7L492.7 217.7L493.3 217.7L493.9 217.8L494.5 217.8L495.1 217.9L495.7 217.9L496.3 217.9L496.9 218.0L497.5 218.0L498.1 218.0L498.7 218.1L499.3 218.1L499.9 218.2L500.5 218.2L501.1 218.2L501.7 218.3L502.3 218.3L502.9 218.3L503.5 218.4L504.1 218.4L504.7 218.5L505.3 218.5L505.9 218.5L506.5 218.6L507.1 218.6L507.7 218.7L508.3 218.7L508.9 218.7L509.5 218.8L510.1 218.8L510.7 218.8L511.3 218.9L511.9 218.9L512.5 218.9L513.1 219.0L513.7 219.0L514.3 219.1L514.9 219.1L515.5 219.1L516.1 219.2L516.7 219.2L517.3 219.2L517.9 219.3L518.5 219.3L519.1 219.3L519.7 219.4L520.3 219.4L520.9 219.4L521.5 219.5L522.1 219.5L522.7 219.5L523.3 219.6L523.9 219.6L524.5 219.6L525.1 219.7L525.7 219.7L526.3 219.8L526.9 219.8L527.5 219.8L528.1 219.9L528.7 219.9L529.3 219.9L529.9 220.0L530.5 220.0L531.1 220.0L531.7 220.1L532.3 220.1L532.9 220.1L533.5 220.2L534.1 220.2L534.7 220.2L535.3 220.3L535.9 220.3L536.5 220.3L537.1 220.4L537.7 220.4L538.3 220.5L538.9 220.5L539.5 220.5L540.1 220.6L540.7 220.6L541.3 220.6L541.9 220.7L542.5 220.7L543.1 220.7L543.7 220.8L544.3 220.8L544.9 220.8L545.5 220.9" fill="none" stroke="#55a541" stroke-width="0.8"/>
<path d="M386.5 212.6L387.1 212.6L387.7 212.6L388.3 212.6L388.9 212.7L389.5 212.7L390.1 212.7L390.7 212.7L391.3 212.8L391.9 212.8L392.5 212.8L393.1 212.8L393.7 212.8L394.3 212.9L394.9 212.9L395.5 212.9L396.1 212.9L396.7 213.0L397.3 213.0L397.9 213.0L398.5 213.0L399.1 213.0L399.7 213.1L400.3 213.1L400.9 213.1L401.5 213.1L402.1 213.2L402.7 213.2L403.3 213.2L403.9 213.2L404.5 213.3L405.1 213.3L405.7 213.3L406.3 213.3L406.9 213.3L407.5 213.4L408.1 213.4L408.7 213.4L409.3 213.4L409.9 213.5L410.5 213.5L411.1 213.5L411.7 213.5L412.3 213.5L412.9 213.6L413.5 213.6L414.1 213.6L414.7 213.6L415.3 213.6L415.9 213.7L416.5 213.7L417.1 213.7L417.7 213.7L418.3 213.8L418.9 213.8L419.5 213.8L420.1 213.8L420.7 213.8L421.3 213.9L421.9 213.9L422.5 213.9L423.1 213.9L423.7 213.9L424.3 214.0L424.9 214.0L425.5 214.0L426.1 214.0L426.7 214.0L427.3 214.1L427.9 214.1L428.5 214.1L429.1 214.1L429.7 214.1L430.3 214.2L430.9 214.2L431.5 214.2L432.1 214.2L432.7 214.2L433.3 214.3L433.9 214.3L434.5 214.3L435.1 214.3L435.7 214.3L436.3 214.3L436.9 214.4L437.5 214.4L438.1 214.4L438.7 214.4L439.3 214.4L439.9 214.4L440.5 214.4L441.1 214.4L441.7 214.4L442.3 214.4L442.9 214.4L443.5 214.4L444.1 214.4L444.7 214.4L445.3 214.4L445.9 214.4L446.5 214.4L447.1 214.3L447.7 214.3L448.3 214.3L448.9 214.2L449.5 214.2L450.1 214.1L450.7 214.0L451.3 214.0L451.9 213.9L452.5 213.8L453.1 213.7L453.7 213.6L454.3 213.4L454.9 213.3L455.5 213.2L456.1 213.0L456.7 212.9L457.3 212.7L457.9 212.6L458.5 212.4L459.1 212.2L459.7 212.0L460.3 211.8L460.9 211.5L461.5 211.3L462.1 211.1L462.7 210.8L463.3 210.5L463.9 210.2L464.5 209.9L465.1 209.5L465.7 209.1L466.3 208.6L466.9 208.1L467.5 207.5L468.1 206.7L468.7 205.8L469.3 204.8L469.9 203.6L470.5 202.2L471.1 200.5L471.7 198.7L472.3 196.6L472.9 194.3L473.5 191.9L474.1 189.2L474.7 186.5L475.3 183.7L475.9 180.9L476.5 178.3L477.1 175.9L477.7 173.9L478.3 172.4L478.9 171.4L479.5 171.2L480.1 171.6L480.7 172.8L481.3 174.6L481.9 176.8L482.5 179.5L483.1 182.5L483.7 185.6L484.3 188.8L484.9 191.9L485.5 194.9L486.1 197.7L486.7 200.3L487.3 202.7L487.9 204.8L488.5 206.6L489.1 208.2L489.7 209.5L490.3 210.6L490.9 211.4L491.5 212.0L492.1 212.3L492.7 212.5L493.3 212.5L493.9 212.2L494.5 211.8L495.1 211.3L495.7 210.6L496.3 209.8L496.9 208.9L497.5 208.0L498.1 207.1L498.7 206.3L499.3 205.7L499.9 205.2L500.5 204.9L501.1 204.8L501.7 205.0L502.3 205.4L502.9 206.0L503.5 206.9L504.1 207.8L504.7 208.9L505.3 210.0L505.9 211.2L506.5 212.3L507.1 213.3L507.7 214.3L508.3 215.1L508.9 215.8L509.5 216.5L510.1 217.0L510.7 217.4L511.3 217.7L511.9 218.0L512.5 218.2L513.1 218.4L513.7 218.5L514.3 218.6L514.9 218.7L515.5 218.8L516.1 218.8L516.7 218.9L517.3 218.9L517.9 219.0L518.5 219.0L519.1 219.1L519.7 219.1L520.3 219.2L520.9 219.2L521.5 219.2L522.1 219.3L522.7 219.3L523.3 219.4L523.9 219.4L524.5 219.4L525.1 219.5L525.7 219.5L526.3 219.6L526.9 219.6L527.5 219.6L528.1 219.7L528.7 219.7L529.3 219.8L529.9 219.8L530.5 219.8L531.1 219.9L531.7 219.9L532.3 220.0L532.9 220.0L533.5 220.0L534.1 220.1L534.7 220.1L535.3 220.1L535.9 220.2L536.5 220.2L537.1 220.3L537.7 220.3L538.3 220.3L538.9 220.4L539.5 220.4L540.1 220.4L540.7 220.5L541.3 220.5L541.9 220.6L542.5 220.6L543.1 220.6L543.7 220.7L544.3 220.7L544.9 220.7L545.5 220.8" fill="none" stroke="#55a541" stroke-width="1.2" stroke-linejoin="round"/>
<path d="M386.5 281.1L387.1 281.1L387.7 281.1L388.3 281.1L388.9 281.1L389.5 281.1L390.1 281.1L390.7 281.1L391.3 281.1L391.9 281.1L392.5 281.1L393.1 281.1L393.7 281.1L394.3 281.1L394.9 281.1L395.5 281.2L396.1 281.2L396.7 281.2L397.3 281.2L397.9 281.2L398.5 281.2L399.1 281.2L399.7 281.2L400.3 281.2L400.9 281.2L401.5 281.2L402.1 281.2L402.7 281.2L403.3 281.2L403.9 281.2L404.5 281.2L405.1 281.2L405.7 281.2L406.3 281.2L406.9 281.2L407.5 281.2L408.1 281.2L408.7 281.2L409.3 281.2L409.9 281.2L410.5 281.3L411.1 281.3L411.7 281.3L412.3 281.3L412.9 281.3L413.5 281.3L414.1 281.3L414.7 281.3L415.3 281.3L415.9 281.3L416.5 281.3L417.1 281.3L417.7 281.3L418.3 281.3L418.9 281.3L419.5 281.3L420.1 281.3L420.7 281.3L421.3 281.3L421.9 281.3L422.5 281.3L423.1 281.3L423.7 281.3L424.3 281.3L424.9 281.3L425.5 281.3L426.1 281.3L426.7 281.4L427.3 281.4L427.9 281.4L428.5 281.4L429.1 281.4L429.7 281.4L430.3 281.4L430.9 281.4L431.5 281.4L432.1 281.4L432.7 281.4L433.3 281.3L433.9 281.3L434.5 281.3L435.1 281.3L435.7 281.3L436.3 281.3L436.9 281.2L437.5 281.2L438.1 281.1L438.7 281.1L439.3 281.0L439.9 281.0L440.5 280.9L441.1 280.8L441.7 280.7L442.3 280.6L442.9 280.4L443.5 280.3L444.1 280.1L444.7 280.0L445.3 279.8L445.9 279.6L446.5 279.5L447.1 279.3L447.7 279.1L448.3 278.9L448.9 278.7L449.5 278.6L450.1 278.4L450.7 278.3L451.3 278.2L451.9 278.1L452.5 278.0L453.1 277.9L453.7 277.8L454.3 277.8L454.9 277.8L455.5 277.8L456.1 277.8L456.7 277.8L457.3 277.9L457.9 277.9L458.5 278.0L459.1 278.0L459.7 278.0L460.3 278.0L460.9 278.0L461.5 278.0L462.1 277.9L462.7 277.8L463.3 277.7L463.9 277.5L464.5 277.4L465.1 277.1L465.7 276.9L466.3 276.6L466.9 276.2L467.5 275.9L468.1 275.4L468.7 275.0L469.3 274.4L469.9 273.8L470.5 273.1L471.1 272.3L471.7 271.3L472.3 270.1L472.9 268.8L473.5 267.2L474.1 265.3L474.7 263.2L475.3 260.9L475.9 258.3L476.5 255.6L477.1 252.7L477.7 249.7L478.3 246.9L478.9 244.1L479.5 241.7L480.1 239.7L480.7 238.3L481.3 237.4L481.9 237.3L482.5 237.9L483.1 239.3L483.7 241.3L484.3 243.8L484.9 246.7L485.5 250.0L486.1 253.4L486.7 256.8L487.3 260.2L487.9 263.4L488.5 266.3L489.1 268.9L489.7 271.1L490.3 272.9L490.9 274.3L491.5 275.3L492.1 275.9L492.7 276.1L493.3 275.8L493.9 275.1L494.5 274.1L495.1 272.6L495.7 270.8L496.3 268.7L496.9 266.4L497.5 263.9L498.1 261.3L498.7 258.9L499.3 256.6L499.9 254.7L500.5 253.2L501.1 252.3L501.7 251.9L502.3 252.1L502.9 253.0L503.5 254.4L504.1 256.2L504.7 258.5L505.3 261.0L505.9 263.6L506.5 266.2L507.1 268.8L507.7 271.2L508.3 273.4L508.9 275.3L509.5 277.0L510.1 278.3L510.7 279.5L511.3 280.3L511.9 281.0L512.5 281.6L513.1 282.0L513.7 282.2L514.3 282.4L514.9 282.6L515.5 282.7L516.1 282.8L516.7 282.8L517.3 282.9L517.9 282.9L518.5 282.9L519.1 283.0L519.7 283.0L520.3 283.0L520.9 283.0L521.5 283.0L522.1 283.1L522.7 283.1L523.3 283.1L523.9 283.1L524.5 283.1L525.1 283.2L525.7 283.2L526.3 283.2L526.9 283.2L527.5 283.2L528.1 283.3L528.7 283.3L529.3 283.3L529.9 283.3L530.5 283.3L531.1 283.3L531.7 283.4L532.3 283.4L532.9 283.4L533.5 283.4L534.1 283.4L534.7 283.4L535.3 283.5L535.9 283.5L536.5 283.5L537.1 283.5L537.7 283.5L538.3 283.6L538.9 283.6L539.5 283.6L540.1 283.6L540.7 283.6L541.3 283.6L541.9 283.7L542.5 283.7L543.1 283.7L543.7 283.7L544.3 283.7L544.9 283.7L545.5 283.8L545.5 283.8L544.9 283.8L544.3 283.8L543.7 283.7L543.1 283.7L542.5 283.7L541.9 283.7L541.3 283.7L540.7 283.7L540.1 283.6L539.5 283.6L538.9 283.6L538.3 283.6L537.7 283.6L537.1 283.6L536.5 283.5L535.9 283.5L535.3 283.5L534.7 283.5L534.1 283.5L533.5 283.5L532.9 283.4L532.3 283.4L531.7 283.4L531.1 283.4L530.5 283.4L529.9 283.4L529.3 283.3L528.7 283.3L528.1 283.3L527.5 283.3L526.9 283.3L526.3 283.3L525.7 283.2L525.1 283.2L524.5 283.2L523.9 283.2L523.3 283.2L522.7 283.2L522.1 283.1L521.5 283.1L520.9 283.1L520.3 283.1L519.7 283.1L519.1 283.1L518.5 283.0L517.9 283.0L517.3 283.0L516.7 283.0L516.1 283.0L515.5 283.0L514.9 282.9L514.3 282.9L513.7 282.9L513.1 282.9L512.5 282.9L511.9 282.9L511.3 282.8L510.7 282.8L510.1 282.8L509.5 282.8L508.9 282.8L508.3 282.8L507.7 282.7L507.1 282.7L506.5 282.7L505.9 282.7L505.3 282.7L504.7 282.7L504.1 282.6L503.5 282.6L502.9 282.6L502.3 282.6L501.7 282.6L501.1 282.6L500.5 282.5L499.9 282.5L499.3 282.5L498.7 282.5L498.1 282.5L497.5 282.5L496.9 282.4L496.3 282.4L495.7 282.4L495.1 282.4L494.5 282.4L493.9 282.4L493.3 282.3L492.7 282.3L492.1 282.3L491.5 282.3L490.9 282.3L490.3 282.3L489.7 282.2L489.1 282.2L488.5 282.2L487.9 282.2L487.3 282.2L486.7 282.2L486.1 282.1L485.5 282.1L484.9 282.1L484.3 282.1L483.7 282.1L483.1 282.1L482.5 282.0L481.9 282.0L481.3 282.0L480.7 282.0L480.1 282.0L479.5 282.0L478.9 281.9L478.3 281.9L477.7 281.9L477.1 281.9L476.5 281.9L475.9 281.9L475.3 281.8L474.7 281.8L474.1 281.8L473.5 281.8L472.9 281.8L472.3 281.8L471.7 281.7L471.1 281.7L470.5 281.7L469.9 281.7L469.3 281.7L468.7 281.7L468.1 281.7L467.5 281.7L466.9 281.7L466.3 281.7L465.7 281.7L465.1 281.7L464.5 281.7L463.9 281.7L463.3 281.7L462.7 281.6L462.1 281.6L461.5 281.6L460.9 281.6L460.3 281.6L459.7 281.6L459.1 281.6L458.5 281.6L457.9 281.6L457.3 281.6L456.7 281.6L456.1 281.6L455.5 281.6L454.9 281.6L454.3 281.6L453.7 281.6L453.1 281.6L452.5 281.6L451.9 281.6L451.3 281.6L450.7 281.6L450.1 281.6L449.5 281.6L448.9 281.5L448.3 281.5L447.7 281.5L447.1 281.5L446.5 281.5L445.9 281.5L445.3 281.5L444.7 281.5L444.1 281.5L443.5 281.5L442.9 281.5L442.3 281.5L441.7 281.5L441.1 281.5L440.5 281.5L439.9 281.5L439.3 281.5L438.7 281.5L438.1 281.5L437.5 281.5L436.9 281.5L436.3 281.5L435.7 281.5L435.1 281.5L434.5 281.4L433.9 281.4L433.3 281.4L432.7 281.4L432.1 281.4L431.5 281.4L430.9 281.4L430.3 281.4L429.7 281.4L429.1 281.4L428.5 281.4L427.9 281.4L427.3 281.4L426.7 281.4L426.1 281.4L425.5 281.4L424.9 281.4L424.3 281.4L423.7 281.4L423.1 281.4L422.5 281.4L421.9 281.4L421.3 281.4L420.7 281.3L420.1 281.3L419.5 281.3L418.9 281.3L418.3 281.3L417.7 281.3L417.1 281.3L416.5 281.3L415.9 281.3L415.3 281.3L414.7 281.3L414.1 281.3L413.5 281.3L412.9 281.3L412.3 281.3L411.7 281.3L411.1 281.3L410.5 281.3L409.9 281.3L409.3 281.3L408.7 281.3L408.1 281.3L407.5 281.3L406.9 281.2L406.3 281.2L405.7 281.2L405.1 281.2L404.5 281.2L403.9 281.2L403.3 281.2L402.7 281.2L402.1 281.2L401.5 281.2L400.9 281.2L400.3 281.2L399.7 281.2L399.1 281.2L398.5 281.2L397.9 281.2L397.3 281.2L396.7 281.2L396.1 281.2L395.5 281.2L394.9 281.2L394.3 281.2L393.7 281.2L393.1 281.2L392.5 281.1L391.9 281.1L391.3 281.1L390.7 281.1L390.1 281.1L389.5 281.1L388.9 281.1L388.3 281.1L387.7 281.1L387.1 281.1L386.5 281.1Z" fill="url(#gf2)" stroke="none"/>
<path d="M386.5 280.9L387.1 281.4L387.7 280.7L388.3 281.3L388.9 281.4L389.5 281.1L390.1 281.1L390.7 280.9L391.3 281.1L391.9 281.8L392.5 281.5L393.1 281.2L393.7 281.2L394.3 281.4L394.9 281.0L395.5 281.4L396.1 281.1L396.7 281.2L397.3 281.3L397.9 280.8L398.5 281.1L399.1 281.5L399.7 281.2L400.3 281.1L400.9 281.5L401.5 281.0L402.1 280.2L402.7 281.0L403.3 281.0L403.9 280.9L404.5 281.0L405.1 281.4L405.7 281.3L406.3 280.8L406.9 281.3L407.5 280.6L408.1 281.4L408.7 281.2L409.3 281.3L409.9 281.1L410.5 281.3L411.1 281.3L411.7 281.4L412.3 282.1L412.9 281.5L413.5 281.0L414.1 281.2L414.7 281.0L415.3 280.9L415.9 281.7L416.5 281.2L417.1 281.6L417.7 281.4L418.3 281.4L418.9 281.1L419.5 281.5L420.1 280.9L420.7 281.6L421.3 280.6L421.9 281.0L422.5 281.4L423.1 280.9L423.7 281.4L424.3 281.7L424.9 281.4L425.5 280.4L426.1 281.5L426.7 281.4L427.3 281.0L427.9 281.3L428.5 281.3L429.1 281.5L429.7 281.4L430.3 281.4L430.9 281.4L431.5 281.6L432.1 281.8L432.7 281.5L433.3 281.5L433.9 281.8L434.5 281.5L435.1 280.9L435.7 281.7L436.3 281.3L436.9 280.9L437.5 281.3L438.1 281.1L438.7 280.9L439.3 280.9L439.9 281.1L440.5 280.9L441.1 280.8L441.7 280.5L442.3 280.1L442.9 280.3L443.5 280.2L444.1 280.4L444.7 279.7L445.3 279.9L445.9 279.8L446.5 279.3L447.1 279.0L447.7 278.9L448.3 278.8L448.9 278.4L449.5 279.0L450.1 278.5L450.7 278.2L451.3 278.0L451.9 277.8L452.5 278.1L453.1 277.9L453.7 277.6L454.3 278.0L454.9 277.0L455.5 277.4L456.1 278.0L456.7 277.7L457.3 278.2L457.9 277.9L458.5 278.3L459.1 277.8L459.7 277.9L460.3 278.4L460.9 278.2L461.5 278.2L462.1 277.8L462.7 277.9L463.3 277.5L463.9 277.4L464.5 276.9L465.1 277.3L465.7 277.1L466.3 276.4L466.9 276.0L467.5 275.7L468.1 275.7L468.7 275.0L469.3 273.7L469.9 273.6L470.5 273.5L471.1 271.9L471.7 271.3L472.3 270.4L472.9 269.0L473.5 267.1L474.1 266.1L474.7 263.3L475.3 260.8L475.9 258.5L476.5 255.2L477.1 252.6L477.7 249.2L478.3 246.7L478.9 243.7L479.5 242.0L480.1 239.5L480.7 237.7L481.3 237.3L481.9 237.5L482.5 237.9L483.1 239.1L483.7 241.3L484.3 243.8L484.9 247.3L485.5 250.0L486.1 253.9L486.7 256.6L487.3 260.1L487.9 263.1L488.5 266.3L489.1 268.9L489.7 270.7L490.3 273.1L490.9 274.5L491.5 275.4L492.1 276.0L492.7 276.2L493.3 276.6L493.9 275.3L494.5 273.4L495.1 272.8L495.7 270.7L496.3 269.1L496.9 267.1L497.5 263.9L498.1 261.3L498.7 258.9L499.3 256.3L499.9 254.5L500.5 253.3L501.1 252.5L501.7 251.2L502.3 252.3L502.9 252.9L503.5 254.6L504.1 256.4L504.7 258.7L505.3 261.1L505.9 263.6L506.5 266.2L507.1 269.2L507.7 272.2L508.3 273.5L508.9 275.2L509.5 277.2L510.1 278.2L510.7 279.4L511.3 279.9L511.9 280.7L512.5 281.4L513.1 282.0L513.7 282.5L514.3 282.7L514.9 282.7L515.5 282.4L516.1 282.7L516.7 282.8L517.3 282.7L517.9 282.5L518.5 282.8L519.1 283.4L519.7 282.9L520.3 283.0L520.9 283.8L521.5 282.6L522.1 283.1L522.7 283.3L523.3 282.7L523.9 282.8L524.5 283.4L525.1 282.9L525.7 283.0L526.3 282.5L526.9 283.0L527.5 283.5L528.1 282.8L528.7 283.0L529.3 283.8L529.9 283.2L530.5 283.7L531.1 283.4L531.7 283.1L532.3 283.6L532.9 283.3L533.5 283.2L534.1 283.5L534.7 283.0L535.3 283.7L535.9 283.6L536.5 283.5L537.1 283.9L537.7 284.1L538.3 283.3L538.9 283.2L539.5 283.5L540.1 283.6L540.7 283.7L541.3 283.1L541.9 283.9L542.5 283.4L543.1 284.0L543.7 283.4L544.3 284.0L544.9 284.1L545.5 284.0" fill="none" stroke="#7765bb" stroke-width="0.8" stroke-linejoin="round"/>
<path d="M433.9 281.4L434.5 281.4L435.1 281.4L435.7 281.4L436.3 281.4L436.9 281.4L437.5 281.4L438.1 281.4L438.7 281.4L439.3 281.4L439.9 281.4L440.5 281.4L441.1 281.4L441.7 281.4L442.3 281.4L442.9 281.4L443.5 281.4L444.1 281.4L444.7 281.4L445.3 281.4L445.9 281.4L446.5 281.4L447.1 281.4L447.7 281.4L448.3 281.4L448.9 281.4L449.5 281.4L450.1 281.4L450.7 281.4L451.3 281.4L451.9 281.4L452.5 281.4L453.1 281.4L453.7 281.4L454.3 281.4L454.9 281.4L455.5 281.4L456.1 281.4L456.7 281.4L457.3 281.4L457.9 281.4L458.5 281.4L459.1 281.4L459.7 281.4L460.3 281.4L460.9 281.4L461.5 281.4L462.1 281.4L462.7 281.4L463.3 281.3L463.9 281.3L464.5 281.3L465.1 281.3L465.7 281.2L466.3 281.2L466.9 281.1L467.5 281.0L468.1 280.8L468.7 280.6L469.3 280.3L469.9 280.0L470.5 279.5L471.1 278.9L471.7 278.0L472.3 277.0L472.9 275.8L473.5 274.2L474.1 272.4L474.7 270.2L475.3 267.8L475.9 265.1L476.5 262.1L477.1 259.0L477.7 255.8L478.3 252.7L478.9 249.6L479.5 246.9L480.1 244.5L480.7 242.7L481.3 241.5L481.9 241.0L482.5 241.3L483.1 242.3L483.7 243.9L484.3 246.2L484.9 248.8L485.5 251.8L486.1 255.0L486.7 258.2L487.3 261.4L487.9 264.5L488.5 267.3L489.1 269.9L489.7 272.1L490.3 274.1L490.9 275.8L491.5 277.2L492.1 278.3L492.7 279.2L493.3 279.9L493.9 280.5L494.5 280.9L495.1 281.2L495.7 281.5L496.3 281.7L496.9 281.8L497.5 281.9L498.1 282.0L498.7 282.1L499.3 282.1L499.9 282.2L500.5 282.2L501.1 282.3L501.7 282.3L502.3 282.3L502.9 282.4L503.5 282.4L504.1 282.4L504.7 282.4L505.3 282.5L505.9 282.5L506.5 282.5L507.1 282.5L507.7 282.6L508.3 282.6L508.9 282.6L509.5 282.6L510.1 282.7L510.7 282.7L511.3 282.7L511.9 282.7L512.5 282.8L513.1 282.8L513.7 282.8L514.3 282.8L514.9 282.8L515.5 282.9L516.1 282.9L516.7 282.9L517.3 282.9L517.9 282.9L518.5 283.0L519.1 283.0L519.7 283.0L520.3 283.0L520.9 283.0L521.5 283.0L522.1 283.1L522.7 283.1L523.3 283.1L523.9 283.1L524.5 283.1L525.1 283.2L525.7 283.2L526.3 283.2L526.9 283.2L527.5 283.2L528.1 283.3L528.7 283.3L529.3 283.3L529.9 283.3" fill="none" stroke="#7765bb" stroke-width="0.8" stroke-linejoin="round"/>
<path d="M487.3 282.1L487.9 282.1L488.5 282.0L489.1 281.9L489.7 281.8L490.3 281.5L490.9 281.2L491.5 280.8L492.1 280.2L492.7 279.4L493.3 278.4L493.9 277.2L494.5 275.6L495.1 273.9L495.7 271.8L496.3 269.5L496.9 267.0L497.5 264.4L498.1 261.8L498.7 259.3L499.3 257.0L499.9 255.1L500.5 253.6L501.1 252.6L501.7 252.2L502.3 252.4L502.9 253.2L503.5 254.6L504.1 256.5L504.7 258.7L505.3 261.2L505.9 263.8L506.5 266.4L507.1 269.0L507.7 271.4L508.3 273.6L508.9 275.5L509.5 277.1L510.1 278.5L510.7 279.6L511.3 280.5L511.9 281.2L512.5 281.7L513.1 282.1L513.7 282.4L514.3 282.6L514.9 282.7L515.5 282.8L516.1 282.9L516.7 282.9" fill="none" stroke="#7765bb" stroke-width="0.8" stroke-linejoin="round"/>
<path d="M452.5 281.5L453.1 281.5L453.7 281.5L454.3 281.5L454.9 281.4L455.5 281.4L456.1 281.3L456.7 281.3L457.3 281.2L457.9 281.1L458.5 281.0L459.1 280.9L459.7 280.8L460.3 280.6L460.9 280.4L461.5 280.2L462.1 280.0L462.7 279.7L463.3 279.5L463.9 279.2L464.5 278.9L465.1 278.5L465.7 278.2L466.3 277.8L466.9 277.5L467.5 277.1L468.1 276.8L468.7 276.4L469.3 276.1L469.9 275.8L470.5 275.5L471.1 275.3L471.7 275.1L472.3 275.0L472.9 274.9L473.5 274.8L474.1 274.8L474.7 274.9L475.3 275.0L475.9 275.1L476.5 275.3L477.1 275.5L477.7 275.8L478.3 276.1L478.9 276.5L479.5 276.8L480.1 277.2L480.7 277.6L481.3 277.9L481.9 278.3L482.5 278.7L483.1 279.1L483.7 279.4L484.3 279.7L484.9 280.0L485.5 280.3L486.1 280.6L486.7 280.8L487.3 281.0L487.9 281.2L488.5 281.4L489.1 281.5L489.7 281.7L490.3 281.8L490.9 281.9L491.5 282.0L492.1 282.1L492.7 282.1L493.3 282.2L493.9 282.2L494.5 282.3L495.1 282.3L495.7 282.4" fill="none" stroke="#7765bb" stroke-width="0.8" stroke-linejoin="round"/>
<path d="M433.9 281.4L434.5 281.4L435.1 281.4L435.7 281.3L436.3 281.3L436.9 281.3L437.5 281.2L438.1 281.2L438.7 281.2L439.3 281.1L439.9 281.0L440.5 280.9L441.1 280.9L441.7 280.7L442.3 280.6L442.9 280.5L443.5 280.4L444.1 280.2L444.7 280.1L445.3 279.9L445.9 279.7L446.5 279.6L447.1 279.4L447.7 279.2L448.3 279.0L448.9 278.9L449.5 278.7L450.1 278.6L450.7 278.4L451.3 278.3L451.9 278.2L452.5 278.2L453.1 278.1L453.7 278.1L454.3 278.1L454.9 278.1L455.5 278.2L456.1 278.3L456.7 278.4L457.3 278.5L457.9 278.6L458.5 278.8L459.1 278.9L459.7 279.1L460.3 279.3L460.9 279.5L461.5 279.7L462.1 279.8L462.7 280.0L463.3 280.2L463.9 280.4L464.5 280.5L465.1 280.7L465.7 280.8L466.3 280.9L466.9 281.0L467.5 281.1L468.1 281.2L468.7 281.3L469.3 281.4L469.9 281.4L470.5 281.5L471.1 281.6L471.7 281.6L472.3 281.6L472.9 281.7L473.5 281.7L474.1 281.8" fill="none" stroke="#7765bb" stroke-width="0.8" stroke-linejoin="round"/>
<path d="M386.5 281.1L387.1 281.1L387.7 281.1L388.3 281.1L388.9 281.1L389.5 281.1L390.1 281.1L390.7 281.1L391.3 281.1L391.9 281.1L392.5 281.1L393.1 281.2L393.7 281.2L394.3 281.2L394.9 281.2L395.5 281.2L396.1 281.2L396.7 281.2L397.3 281.2L397.9 281.2L398.5 281.2L399.1 281.2L399.7 281.2L400.3 281.2L400.9 281.2L401.5 281.2L402.1 281.2L402.7 281.2L403.3 281.2L403.9 281.2L404.5 281.2L405.1 281.2L405.7 281.2L406.3 281.2L406.9 281.2L407.5 281.3L408.1 281.3L408.7 281.3L409.3 281.3L409.9 281.3L410.5 281.3L411.1 281.3L411.7 281.3L412.3 281.3L412.9 281.3L413.5 281.3L414.1 281.3L414.7 281.3L415.3 281.3L415.9 281.3L416.5 281.3L417.1 281.3L417.7 281.3L418.3 281.3L418.9 281.3L419.5 281.3L420.1 281.3L420.7 281.3L421.3 281.4L421.9 281.4L422.5 281.4L423.1 281.4L423.7 281.4L424.3 281.4L424.9 281.4L425.5 281.4L426.1 281.4L426.7 281.4L427.3 281.4L427.9 281.4L428.5 281.4L429.1 281.4L429.7 281.4L430.3 281.4L430.9 281.4L431.5 281.4L432.1 281.4L432.7 281.4L433.3 281.4L433.9 281.4L434.5 281.4L435.1 281.5L435.7 281.5L436.3 281.5L436.9 281.5L437.5 281.5L438.1 281.5L438.7 281.5L439.3 281.5L439.9 281.5L440.5 281.5L441.1 281.5L441.7 281.5L442.3 281.5L442.9 281.5L443.5 281.5L444.1 281.5L444.7 281.5L445.3 281.5L445.9 281.5L446.5 281.5L447.1 281.5L447.7 281.5L448.3 281.5L448.9 281.5L449.5 281.6L450.1 281.6L450.7 281.6L451.3 281.6L451.9 281.6L452.5 281.6L453.1 281.6L453.7 281.6L454.3 281.6L454.9 281.6L455.5 281.6L456.1 281.6L456.7 281.6L457.3 281.6L457.9 281.6L458.5 281.6L459.1 281.6L459.7 281.6L460.3 281.6L460.9 281.6L461.5 281.6L462.1 281.6L462.7 281.6L463.3 281.7L463.9 281.7L464.5 281.7L465.1 281.7L465.7 281.7L466.3 281.7L466.9 281.7L467.5 281.7L468.1 281.7L468.7 281.7L469.3 281.7L469.9 281.7L470.5 281.7L471.1 281.7L471.7 281.7L472.3 281.8L472.9 281.8L473.5 281.8L474.1 281.8L474.7 281.8L475.3 281.8L475.9 281.9L476.5 281.9L477.1 281.9L477.7 281.9L478.3 281.9L478.9 281.9L479.5 282.0L480.1 282.0L480.7 282.0L481.3 282.0L481.9 282.0L482.5 282.0L483.1 282.1L483.7 282.1L484.3 282.1L484.9 282.1L485.5 282.1L486.1 282.1L486.7 282.2L487.3 282.2L487.9 282.2L488.5 282.2L489.1 282.2L489.7 282.2L490.3 282.3L490.9 282.3L491.5 282.3L492.1 282.3L492.7 282.3L493.3 282.3L493.9 282.4L494.5 282.4L495.1 282.4L495.7 282.4L496.3 282.4L496.9 282.4L497.5 282.5L498.1 282.5L498.7 282.5L499.3 282.5L499.9 282.5L500.5 282.5L501.1 282.6L501.7 282.6L502.3 282.6L502.9 282.6L503.5 282.6L504.1 282.6L504.7 282.7L505.3 282.7L505.9 282.7L506.5 282.7L507.1 282.7L507.7 282.7L508.3 282.8L508.9 282.8L509.5 282.8L510.1 282.8L510.7 282.8L511.3 282.8L511.9 282.9L512.5 282.9L513.1 282.9L513.7 282.9L514.3 282.9L514.9 282.9L515.5 283.0L516.1 283.0L516.7 283.0L517.3 283.0L517.9 283.0L518.5 283.0L519.1 283.1L519.7 283.1L520.3 283.1L520.9 283.1L521.5 283.1L522.1 283.1L522.7 283.2L523.3 283.2L523.9 283.2L524.5 283.2L525.1 283.2L525.7 283.2L526.3 283.3L526.9 283.3L527.5 283.3L528.1 283.3L528.7 283.3L529.3 283.3L529.9 283.4L530.5 283.4L531.1 283.4L531.7 283.4L532.3 283.4L532.9 283.4L533.5 283.5L534.1 283.5L534.7 283.5L535.3 283.5L535.9 283.5L536.5 283.5L537.1 283.6L537.7 283.6L538.3 283.6L538.9 283.6L539.5 283.6L540.1 283.6L540.7 283.7L541.3 283.7L541.9 283.7L542.5 283.7L543.1 283.7L543.7 283.7L544.3 283.8L544.9 283.8L545.5 283.8" fill="none" stroke="#7765bb" stroke-width="0.8"/>
<path d="M386.5 281.1L387.1 281.1L387.7 281.1L388.3 281.1L388.9 281.1L389.5 281.1L390.1 281.1L390.7 281.1L391.3 281.1L391.9 281.1L392.5 281.1L393.1 281.1L393.7 281.1L394.3 281.1L394.9 281.1L395.5 281.2L396.1 281.2L396.7 281.2L397.3 281.2L397.9 281.2L398.5 281.2L399.1 281.2L399.7 281.2L400.3 281.2L400.9 281.2L401.5 281.2L402.1 281.2L402.7 281.2L403.3 281.2L403.9 281.2L404.5 281.2L405.1 281.2L405.7 281.2L406.3 281.2L406.9 281.2L407.5 281.2L408.1 281.2L408.7 281.2L409.3 281.2L409.9 281.2L410.5 281.3L411.1 281.3L411.7 281.3L412.3 281.3L412.9 281.3L413.5 281.3L414.1 281.3L414.7 281.3L415.3 281.3L415.9 281.3L416.5 281.3L417.1 281.3L417.7 281.3L418.3 281.3L418.9 281.3L419.5 281.3L420.1 281.3L420.7 281.3L421.3 281.3L421.9 281.3L422.5 281.3L423.1 281.3L423.7 281.3L424.3 281.3L424.9 281.3L425.5 281.3L426.1 281.3L426.7 281.4L427.3 281.4L427.9 281.4L428.5 281.4L429.1 281.4L429.7 281.4L430.3 281.4L430.9 281.4L431.5 281.4L432.1 281.4L432.7 281.4L433.3 281.3L433.9 281.3L434.5 281.3L435.1 281.3L435.7 281.3L436.3 281.3L436.9 281.2L437.5 281.2L438.1 281.1L438.7 281.1L439.3 281.0L439.9 281.0L440.5 280.9L441.1 280.8L441.7 280.7L442.3 280.6L442.9 280.4L443.5 280.3L444.1 280.1L444.7 280.0L445.3 279.8L445.9 279.6L446.5 279.5L447.1 279.3L447.7 279.1L448.3 278.9L448.9 278.7L449.5 278.6L450.1 278.4L450.7 278.3L451.3 278.2L451.9 278.1L452.5 278.0L453.1 277.9L453.7 277.8L454.3 277.8L454.9 277.8L455.5 277.8L456.1 277.8L456.7 277.8L457.3 277.9L457.9 277.9L458.5 278.0L459.1 278.0L459.7 278.0L460.3 278.0L460.9 278.0L461.5 278.0L462.1 277.9L462.7 277.8L463.3 277.7L463.9 277.5L464.5 277.4L465.1 277.1L465.7 276.9L466.3 276.6L466.9 276.2L467.5 275.9L468.1 275.4L468.7 275.0L469.3 274.4L469.9 273.8L470.5 273.1L471.1 272.3L471.7 271.3L472.3 270.1L472.9 268.8L473.5 267.2L474.1 265.3L474.7 263.2L475.3 260.9L475.9 258.3L476.5 255.6L477.1 252.7L477.7 249.7L478.3 246.9L478.9 244.1L479.5 241.7L480.1 239.7L480.7 238.3L481.3 237.4L481.9 237.3L482.5 237.9L483.1 239.3L483.7 241.3L484.3 243.8L484.9 246.7L485.5 250.0L486.1 253.4L486.7 256.8L487.3 260.2L487.9 263.4L488.5 266.3L489.1 268.9L489.7 271.1L490.3 272.9L490.9 274.3L491.5 275.3L492.1 275.9L492.7 276.1L493.3 275.8L493.9 275.1L494.5 274.1L495.1 272.6L495.7 270.8L496.3 268.7L496.9 266.4L497.5 263.9L498.1 261.3L498.7 258.9L499.3 256.6L499.9 254.7L500.5 253.2L501.1 252.3L501.7 251.9L502.3 252.1L502.9 253.0L503.5 254.4L504.1 256.2L504.7 258.5L505.3 261.0L505.9 263.6L506.5 266.2L507.1 268.8L507.7 271.2L508.3 273.4L508.9 275.3L509.5 277.0L510.1 278.3L510.7 279.5L511.3 280.3L511.9 281.0L512.5 281.6L513.1 282.0L513.7 282.2L514.3 282.4L514.9 282.6L515.5 282.7L516.1 282.8L516.7 282.8L517.3 282.9L517.9 282.9L518.5 282.9L519.1 283.0L519.7 283.0L520.3 283.0L520.9 283.0L521.5 283.0L522.1 283.1L522.7 283.1L523.3 283.1L523.9 283.1L524.5 283.1L525.1 283.2L525.7 283.2L526.3 283.2L526.9 283.2L527.5 283.2L528.1 283.3L528.7 283.3L529.3 283.3L529.9 283.3L530.5 283.3L531.1 283.3L531.7 283.4L532.3 283.4L532.9 283.4L533.5 283.4L534.1 283.4L534.7 283.4L535.3 283.5L535.9 283.5L536.5 283.5L537.1 283.5L537.7 283.5L538.3 283.6L538.9 283.6L539.5 283.6L540.1 283.6L540.7 283.6L541.3 283.6L541.9 283.7L542.5 283.7L543.1 283.7L543.7 283.7L544.3 283.7L544.9 283.7L545.5 283.8" fill="none" stroke="#7765bb" stroke-width="1.2" stroke-linejoin="round"/>
<rect x="385.80" y="164.30" width="160.00" height="124.20" fill="none" stroke="#5a5a5a" stroke-width="1.2"/>
<path d="M386.2 226H545.8" stroke="#333" stroke-width="1.1" stroke-dasharray="3 3.4"/>
<path d="M518.84 288.50v2.0M490.43 288.50v2.0M462.02 288.50v2.0M433.61 288.50v2.0M405.20 288.50v2.0M533.04 288.50v1.3M504.63 288.50v1.3M476.23 288.50v1.3M447.81 288.50v1.3M419.40 288.50v1.3M391.00 288.50v1.3" stroke="#3a3a3a" stroke-width="0.9" fill="none"/>
<text x="399.72" y="296.72" font-family="Liberation Sans" font-weight="bold" font-size="6.60" fill="#222">408</text>
<text x="428.13" y="296.72" font-family="Liberation Sans" font-weight="bold" font-size="6.60" fill="#222">405</text>
<text x="456.57" y="296.72" font-family="Liberation Sans" font-weight="bold" font-size="6.60" fill="#222">402</text>
<text x="484.99" y="296.72" font-family="Liberation Sans" font-weight="bold" font-size="6.60" fill="#222">399</text>
<text x="513.39" y="296.72" font-family="Liberation Sans" font-weight="bold" font-size="6.60" fill="#222">396</text>
<text x="388.36" y="170.44" font-family="Liberation Sans" font-weight="bold" font-size="4.90" fill="#111">N 1s</text>
<text x="388.36" y="231.34" font-family="Liberation Sans" font-weight="bold" font-size="4.90" fill="#111">N 1s</text>
<text x="513.05" y="171.32" font-family="Liberation Sans" font-weight="bold" font-size="4.85" fill="#111">Tb-Eu-TCPP</text>
<text x="522.25" y="233.71" font-family="Liberation Sans" font-weight="bold" font-size="5.03" fill="#111">H<tspan font-size="3.02" dy="1.26">2</tspan><tspan dy="-1.26">TCPP</tspan></text>
<text x="435.99" y="175.76" font-family="Liberation Sans" font-weight="bold" font-size="5.16" fill="#111">C=N-C 400.1 eV</text>
<text x="500.09" y="200.26" font-family="Liberation Sans" font-weight="bold" font-size="5.17" fill="#111">C-NH-C 397.9 eV</text>
<text x="440.10" y="239.58" font-family="Liberation Sans" font-weight="bold" font-size="5.10" fill="#111">C=N-C 400.0 eV</text>
<text x="498.49" y="247.68" font-family="Liberation Sans" font-weight="bold" font-size="5.24" fill="#111">C-NH-C 397.8 eV</text>
<text x="425.81" y="307.87" font-family="Liberation Sans" font-weight="bold" font-size="8.41" fill="#111">Binding Energy (eV)</text>
<text transform="translate(382.96,250.51) rotate(-90)" font-family="Liberation Sans" font-weight="bold" font-size="8.68" fill="#111">Intensity (a.u.)</text>
<text x="368.42" y="173.07" font-family="Liberation Serif" font-weight="bold" font-size="14.50" fill="#000">(f)</text>
<path d="M86.90 206.40L93.14 208.73" stroke="#111" stroke-width="0.6"/>
<path d="M95.20 209.50L92.75 209.76L93.52 207.70Z" fill="#111"/>
<path d="M112.80 205.80L117.18 208.77" stroke="#111" stroke-width="0.6"/>
<path d="M119.00 210.00L116.56 209.68L117.80 207.86Z" fill="#111"/>
<path d="M108.70 277.00L111.35 280.04" stroke="#111" stroke-width="0.6"/>
<path d="M112.80 281.70L110.52 280.77L112.18 279.32Z" fill="#111"/>
<path d="M285.10 184.30L291.38 187.82" stroke="#111" stroke-width="0.6"/>
<path d="M293.30 188.90L290.84 188.78L291.92 186.86Z" fill="#111"/>
<path d="M310.90 188.90L306.27 193.46" stroke="#111" stroke-width="0.6"/>
<path d="M304.70 195.00L305.50 192.67L307.04 194.24Z" fill="#111"/>
<path d="M299.50 248.70L297.15 250.47" stroke="#111" stroke-width="0.6"/>
<path d="M295.40 251.80L296.49 249.60L297.82 251.35Z" fill="#111"/>
</svg>
</body></html>
